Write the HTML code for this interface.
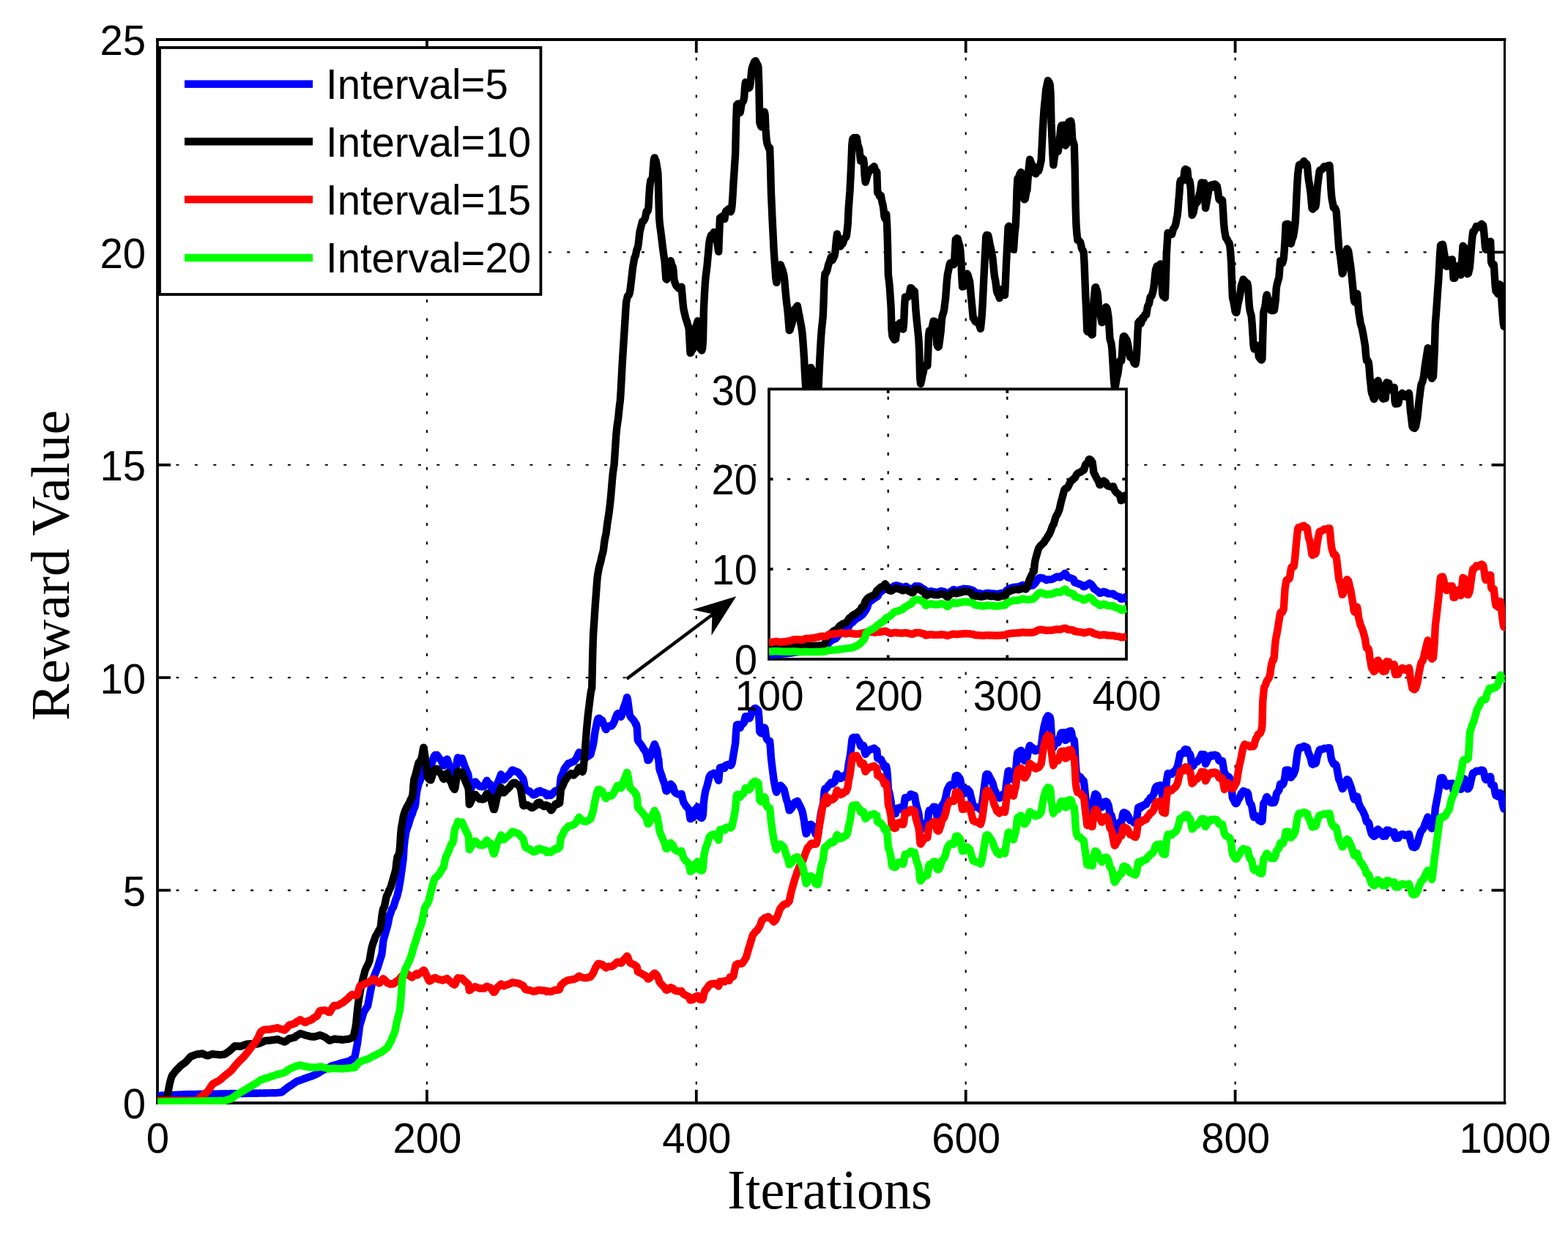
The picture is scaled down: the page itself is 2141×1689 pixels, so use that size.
<!DOCTYPE html>
<html lang="en"><head><meta charset="utf-8"><title>Reward Value vs Iterations</title>
<style>html,body{margin:0;padding:0;background:#fff}svg{display:block}</style></head>
<body>
<svg xmlns="http://www.w3.org/2000/svg" width="2141" height="1689" viewBox="0 0 2141 1689">
<rect x="0" y="0" width="2141" height="1689" fill="#ffffff"/>
<defs><clipPath id="cm"><rect x="215.0" y="52.1" width="1840.5" height="1455.8"/></clipPath>
<clipPath id="ci"><rect x="1050.0" y="529.4" width="489.0" height="372.5"/></clipPath></defs>
<g stroke="#000" stroke-width="2.1" stroke-dasharray="4.00 21.42" fill="none">
<line x1="582.9" y1="1506.10" x2="582.9" y2="54.0"/>
<line x1="950.8" y1="1506.10" x2="950.8" y2="54.0"/>
<line x1="1318.7" y1="1506.10" x2="1318.7" y2="54.0"/>
<line x1="1686.6" y1="1506.10" x2="1686.6" y2="54.0"/>
<line x1="215.00" y1="1215.6" x2="2054.5" y2="1215.6"/>
<line x1="215.00" y1="925.2" x2="2054.5" y2="925.2"/>
<line x1="215.00" y1="634.8" x2="2054.5" y2="634.8"/>
<line x1="215.00" y1="344.4" x2="2054.5" y2="344.4"/>
</g>
<g stroke="#000" fill="none" stroke-linecap="square">
<line x1="215.0" y1="54.0" x2="2054.5" y2="54.0" stroke-width="3.8"/>
<line x1="215.0" y1="1506.0" x2="2054.5" y2="1506.0" stroke-width="3.8"/>
<line x1="215.0" y1="54.0" x2="215.0" y2="1506.0" stroke-width="3.8"/>
<line x1="2054.5" y1="54.0" x2="2054.5" y2="1506.0" stroke-width="3.1"/>
</g>
<g stroke="#000" stroke-width="3.8" fill="none">
<line x1="582.9" y1="1506.0" x2="582.9" y2="1488.0"/>
<line x1="582.9" y1="54.0" x2="582.9" y2="72.0"/>
<line x1="950.8" y1="1506.0" x2="950.8" y2="1488.0"/>
<line x1="950.8" y1="54.0" x2="950.8" y2="72.0"/>
<line x1="1318.7" y1="1506.0" x2="1318.7" y2="1488.0"/>
<line x1="1318.7" y1="54.0" x2="1318.7" y2="72.0"/>
<line x1="1686.6" y1="1506.0" x2="1686.6" y2="1488.0"/>
<line x1="1686.6" y1="54.0" x2="1686.6" y2="72.0"/>
<line x1="215.0" y1="1215.6" x2="233.0" y2="1215.6"/>
<line x1="2054.5" y1="1215.6" x2="2036.5" y2="1215.6"/>
<line x1="215.0" y1="925.2" x2="233.0" y2="925.2"/>
<line x1="2054.5" y1="925.2" x2="2036.5" y2="925.2"/>
<line x1="215.0" y1="634.8" x2="233.0" y2="634.8"/>
<line x1="2054.5" y1="634.8" x2="2036.5" y2="634.8"/>
<line x1="215.0" y1="344.4" x2="233.0" y2="344.4"/>
<line x1="2054.5" y1="344.4" x2="2036.5" y2="344.4"/>
</g>
<g clip-path="url(#cm)" fill="none" stroke-width="10.4" stroke-linejoin="round" stroke-linecap="butt">
<polyline stroke="#0000ff" points="215.0,1499.3 215.9,1498.7 216.8,1497.9 217.8,1497.2 218.7,1496.5 219.6,1495.8 220.5,1495.8 221.4,1495.7 222.4,1495.7 223.3,1495.6 224.2,1495.6 225.1,1495.5 226.0,1495.5 227.0,1495.4 227.9,1495.4 228.8,1495.4 229.7,1495.4 230.6,1495.3 231.6,1495.3 232.5,1495.2 233.4,1495.2 234.3,1495.1 235.2,1495.1 236.2,1495.1 237.1,1495.1 238.0,1495.0 238.9,1495.0 239.8,1494.9 240.8,1494.9 241.7,1494.9 242.6,1494.8 243.5,1494.8 244.4,1494.7 245.4,1494.7 246.3,1494.6 247.2,1494.6 248.1,1494.6 249.0,1494.5 250.0,1494.5 250.9,1494.4 251.8,1494.4 252.7,1494.4 253.6,1494.3 254.5,1494.3 255.5,1494.3 256.4,1494.3 257.3,1494.3 258.2,1494.3 259.1,1494.3 260.1,1494.2 261.0,1494.2 261.9,1494.2 262.8,1494.2 263.7,1494.2 264.7,1494.2 265.6,1494.2 266.5,1494.1 267.4,1494.1 268.3,1494.1 269.3,1494.1 270.2,1494.0 271.1,1494.0 272.0,1494.1 272.9,1494.0 273.9,1494.0 274.8,1494.0 275.7,1493.9 276.6,1493.9 277.5,1494.0 278.5,1493.9 279.4,1493.9 280.3,1493.9 281.2,1493.9 282.1,1493.8 283.1,1493.8 284.0,1493.8 284.9,1493.8 285.8,1493.8 286.7,1493.8 287.7,1493.7 288.6,1493.7 289.5,1493.7 290.4,1493.7 291.3,1493.7 292.3,1493.7 293.2,1493.7 294.1,1493.7 295.0,1493.7 295.9,1493.6 296.9,1493.6 297.8,1493.6 298.7,1493.6 299.6,1493.5 300.5,1493.5 301.5,1493.5 302.4,1493.5 303.3,1493.5 304.2,1493.5 305.1,1493.4 306.1,1493.4 307.0,1493.4 307.9,1493.4 308.8,1493.4 309.7,1493.4 310.7,1493.4 311.6,1493.4 312.5,1493.4 313.4,1493.3 314.3,1493.3 315.3,1493.3 316.2,1493.3 317.1,1493.3 318.0,1493.3 318.9,1493.2 319.9,1493.2 320.8,1493.2 321.7,1493.2 322.6,1493.2 323.5,1493.2 324.5,1493.1 325.4,1493.1 326.3,1493.1 327.2,1493.1 328.1,1493.1 329.0,1493.1 330.0,1493.1 330.9,1493.0 331.8,1493.0 332.7,1493.0 333.6,1493.0 334.6,1493.0 335.5,1493.0 336.4,1492.9 337.3,1492.9 338.2,1492.9 339.2,1492.9 340.1,1492.8 341.0,1492.8 341.9,1492.8 342.8,1492.8 343.8,1492.8 344.7,1492.8 345.6,1492.7 346.5,1492.8 347.4,1492.8 348.4,1492.7 349.3,1492.7 350.2,1492.7 351.1,1492.7 352.0,1492.7 353.0,1492.7 353.9,1492.6 354.8,1492.5 355.7,1492.6 356.6,1492.6 357.6,1492.6 358.5,1492.6 359.4,1492.6 360.3,1492.5 361.2,1492.5 362.2,1492.5 363.1,1492.5 364.0,1492.5 364.9,1492.4 365.8,1492.4 366.8,1492.4 367.7,1492.4 368.6,1492.4 369.5,1492.4 370.4,1492.3 371.4,1492.3 372.3,1492.3 373.2,1492.3 374.1,1492.3 375.0,1492.3 376.0,1492.3 376.9,1492.2 377.8,1492.2 378.7,1492.1 379.6,1492.0 380.6,1491.9 381.5,1491.8 382.4,1491.6 383.3,1491.5 384.2,1491.4 385.2,1491.0 386.1,1490.2 387.0,1489.5 387.9,1488.7 388.8,1488.0 389.8,1487.3 390.7,1486.6 391.6,1485.9 392.5,1485.1 393.4,1484.4 394.4,1483.8 395.3,1483.2 396.2,1482.6 397.1,1482.1 398.0,1481.5 398.9,1480.8 399.9,1480.2 400.8,1479.5 401.7,1478.9 402.6,1478.3 403.5,1477.7 404.5,1477.0 405.4,1476.5 406.3,1476.1 407.2,1475.9 408.1,1475.6 409.1,1475.3 410.0,1474.9 410.9,1474.6 411.8,1474.2 412.7,1473.9 413.7,1473.5 414.6,1473.2 415.5,1472.8 416.4,1472.5 417.3,1472.2 418.3,1471.8 419.2,1471.5 420.1,1471.1 421.0,1470.8 421.9,1470.6 422.9,1470.3 423.8,1470.0 424.7,1469.7 425.6,1469.3 426.5,1469.0 427.5,1468.5 428.4,1468.1 429.3,1467.8 430.2,1467.6 431.1,1467.2 432.1,1466.7 433.0,1466.2 433.9,1465.7 434.8,1465.1 435.7,1464.6 436.7,1463.9 437.6,1463.3 438.5,1462.7 439.4,1462.2 440.3,1461.7 441.3,1461.3 442.2,1460.8 443.1,1460.4 444.0,1459.9 444.9,1459.4 445.9,1459.0 446.8,1458.6 447.7,1458.2 448.6,1457.8 449.5,1457.2 450.5,1456.7 451.4,1456.1 452.3,1455.6 453.2,1455.3 454.1,1455.1 455.1,1454.8 456.0,1454.6 456.9,1454.3 457.8,1454.0 458.7,1453.9 459.7,1453.7 460.6,1453.3 461.5,1452.9 462.4,1452.6 463.3,1452.2 464.3,1451.9 465.2,1451.6 466.1,1451.4 467.0,1451.3 467.9,1451.1 468.9,1450.9 469.8,1450.6 470.7,1450.3 471.6,1450.1 472.5,1449.8 473.4,1449.6 474.4,1449.5 475.3,1449.2 476.2,1448.9 477.1,1448.6 478.0,1447.9 479.0,1447.4 479.9,1446.8 480.8,1446.3 481.7,1445.7 482.6,1445.2 483.6,1444.7 484.5,1443.0 485.4,1438.5 486.3,1433.8 487.2,1429.1 488.2,1423.3 489.1,1416.3 490.0,1409.3 490.9,1402.3 491.8,1397.8 492.8,1394.9 493.7,1392.0 494.6,1389.1 495.5,1385.9 496.4,1382.8 497.4,1381.0 498.3,1379.4 499.2,1377.9 500.1,1376.4 501.0,1375.1 502.0,1373.7 502.9,1369.2 503.8,1364.6 504.7,1359.8 505.6,1354.9 506.6,1350.1 507.5,1345.4 508.4,1340.6 509.3,1336.4 510.2,1334.4 511.2,1332.3 512.1,1329.9 513.0,1327.5 513.9,1325.4 514.8,1323.3 515.8,1320.7 516.7,1317.7 517.6,1314.8 518.5,1311.9 519.4,1309.0 520.4,1306.0 521.3,1303.2 522.2,1295.7 523.1,1286.2 524.0,1281.8 525.0,1278.6 525.9,1275.4 526.8,1272.1 527.7,1268.9 528.6,1266.2 529.6,1262.1 530.5,1257.4 531.4,1252.7 532.3,1249.0 533.2,1247.3 534.2,1244.3 535.1,1241.4 536.0,1239.8 536.9,1239.3 537.8,1236.3 538.8,1233.3 539.7,1230.5 540.6,1227.7 541.5,1225.6 542.4,1222.8 543.4,1218.6 544.3,1214.5 545.2,1209.7 546.1,1204.9 547.0,1199.4 547.9,1192.5 548.9,1185.9 549.8,1179.3 550.7,1172.5 551.6,1157.5 552.5,1147.9 553.5,1141.4 554.4,1135.8 555.3,1132.8 556.2,1130.3 557.1,1127.8 558.1,1124.8 559.0,1121.7 559.9,1118.5 560.8,1116.0 561.7,1113.8 562.7,1111.7 563.6,1108.7 564.5,1105.7 565.4,1103.9 566.3,1102.1 567.3,1097.6 568.2,1088.4 569.1,1080.9 570.0,1077.1 570.9,1073.2 571.9,1069.3 572.8,1067.4 573.7,1065.5 574.6,1062.3 575.5,1058.9 576.5,1054.2 577.4,1049.5 578.3,1048.9 579.2,1049.3 580.1,1049.4 581.1,1049.5 582.0,1049.9 582.9,1050.3 583.8,1050.7 584.7,1043.9 585.7,1045.0 586.6,1046.1 587.5,1046.5 588.4,1046.5 589.3,1043.4 590.3,1040.4 591.2,1037.3 592.1,1034.2 593.0,1032.4 593.9,1031.0 594.9,1030.9 595.8,1030.8 596.7,1030.7 597.6,1032.2 598.5,1033.6 599.5,1035.0 600.4,1036.0 601.3,1037.0 602.2,1038.3 603.1,1039.7 604.1,1042.0 605.0,1044.4 605.9,1045.4 606.8,1043.1 607.7,1041.8 608.7,1040.5 609.6,1038.5 610.5,1036.5 611.4,1039.2 612.3,1041.8 613.3,1044.4 614.2,1047.0 615.1,1048.8 616.0,1049.5 616.9,1052.7 617.9,1055.9 618.8,1057.4 619.7,1058.9 620.6,1060.1 621.5,1057.7 622.4,1051.0 623.4,1044.4 624.3,1037.4 625.2,1034.4 626.1,1035.4 627.0,1036.3 628.0,1036.1 628.9,1035.8 629.8,1035.6 630.7,1035.5 631.6,1037.7 632.6,1040.4 633.5,1043.0 634.4,1045.7 635.3,1047.9 636.2,1050.2 637.2,1052.6 638.1,1054.9 639.0,1056.4 639.9,1061.3 640.8,1081.5 641.8,1080.1 642.7,1078.1 643.6,1076.0 644.5,1074.0 645.4,1072.0 646.4,1070.5 647.3,1069.1 648.2,1067.7 649.1,1067.4 650.0,1068.6 651.0,1069.8 651.9,1070.8 652.8,1071.7 653.7,1072.6 654.6,1073.6 655.6,1073.8 656.5,1073.5 657.4,1073.9 658.3,1074.2 659.2,1074.0 660.2,1073.8 661.1,1073.7 662.0,1071.3 662.9,1069.4 663.8,1067.5 664.8,1065.8 665.7,1067.7 666.6,1068.5 667.5,1069.3 668.4,1070.0 669.4,1070.7 670.3,1073.4 671.2,1077.3 672.1,1080.9 673.0,1084.6 674.0,1088.3 674.9,1088.4 675.8,1084.7 676.7,1081.0 677.6,1076.4 678.6,1071.8 679.5,1069.1 680.4,1067.2 681.3,1064.8 682.2,1062.5 683.2,1059.9 684.1,1057.3 685.0,1058.9 685.9,1061.0 686.8,1062.9 687.8,1064.7 688.7,1064.0 689.6,1063.3 690.5,1061.9 691.4,1060.5 692.4,1059.9 693.3,1059.3 694.2,1058.4 695.1,1057.5 696.0,1056.3 696.9,1055.1 697.9,1053.7 698.8,1052.2 699.7,1051.4 700.6,1051.7 701.5,1052.1 702.5,1052.4 703.4,1053.0 704.3,1053.6 705.2,1053.6 706.1,1053.8 707.1,1054.3 708.0,1054.8 708.9,1056.1 709.8,1057.5 710.7,1058.7 711.7,1059.9 712.6,1061.0 713.5,1062.1 714.4,1063.8 715.3,1067.0 716.3,1073.1 717.2,1077.1 718.1,1077.9 719.0,1078.7 719.9,1079.3 720.9,1079.9 721.8,1080.0 722.7,1080.2 723.6,1081.0 724.5,1082.1 725.5,1082.8 726.4,1083.5 727.3,1084.4 728.2,1085.4 729.1,1085.3 730.1,1084.8 731.0,1084.5 731.9,1084.2 732.8,1082.6 733.7,1080.9 734.7,1080.7 735.6,1080.4 736.5,1080.1 737.4,1079.7 738.3,1080.9 739.3,1082.1 740.2,1081.8 741.1,1081.5 742.0,1081.8 742.9,1082.0 743.9,1082.6 744.8,1083.1 745.7,1084.7 746.6,1086.4 747.5,1085.3 748.5,1084.2 749.4,1084.8 750.3,1085.4 751.2,1086.0 752.1,1086.0 753.1,1085.2 754.0,1084.4 754.9,1083.3 755.8,1082.3 756.7,1081.3 757.7,1080.3 758.6,1079.7 759.5,1079.4 760.4,1079.9 761.3,1080.5 762.3,1079.5 763.2,1078.6 764.1,1077.5 765.0,1068.9 765.9,1061.2 766.9,1059.3 767.8,1057.2 768.7,1055.1 769.6,1052.6 770.5,1050.0 771.4,1048.5 772.4,1047.4 773.3,1046.2 774.2,1045.0 775.1,1043.6 776.0,1042.3 777.0,1042.1 777.9,1042.2 778.8,1041.7 779.7,1041.1 780.6,1040.7 781.6,1040.3 782.5,1040.2 783.4,1040.0 784.3,1038.8 785.2,1037.6 786.2,1036.5 787.1,1035.5 788.0,1033.3 788.9,1031.1 789.8,1029.1 790.8,1027.3 791.7,1029.0 792.6,1030.7 793.5,1031.2 794.4,1031.7 795.4,1032.8 796.3,1033.9 797.2,1034.0 798.1,1034.0 799.0,1034.5 800.0,1034.7 800.9,1034.0 801.8,1033.3 802.7,1032.8 803.6,1032.4 804.6,1031.5 805.5,1030.6 806.4,1030.3 807.3,1026.5 808.2,1023.1 809.2,1019.7 810.1,1015.4 811.0,1009.6 811.9,1003.5 812.8,997.6 813.8,992.9 814.7,988.2 815.6,984.2 816.5,981.2 817.4,980.9 818.4,980.7 819.3,981.8 820.2,982.9 821.1,983.1 822.0,983.2 823.0,985.3 823.9,988.4 824.8,990.0 825.7,991.5 826.6,995.0 827.6,996.0 828.5,994.3 829.4,992.5 830.3,991.9 831.2,991.3 832.2,991.2 833.1,991.6 834.0,991.4 834.9,991.3 835.8,990.3 836.8,989.0 837.7,987.2 838.6,985.5 839.5,983.1 840.4,980.7 841.3,978.3 842.3,975.8 843.2,974.4 844.1,974.0 845.0,974.9 845.9,975.8 846.9,977.2 847.8,978.7 848.7,977.2 849.6,973.1 850.5,969.8 851.5,966.5 852.4,963.9 853.3,961.6 854.2,958.8 855.1,956.1 856.1,952.1 857.0,954.9 857.9,962.0 858.8,969.0 859.7,975.7 860.7,978.2 861.6,979.4 862.5,980.6 863.4,981.6 864.3,982.6 865.3,983.8 866.2,984.6 867.1,986.9 868.0,989.2 868.9,989.2 869.9,994.5 870.8,1010.8 871.7,1012.2 872.6,1013.3 873.5,1014.5 874.5,1015.8 875.4,1017.0 876.3,1018.4 877.2,1019.7 878.1,1021.4 879.1,1023.1 880.0,1024.2 880.9,1025.3 881.8,1027.0 882.7,1029.6 883.7,1033.8 884.6,1038.1 885.5,1038.1 886.4,1037.1 887.3,1034.4 888.3,1031.7 889.2,1028.9 890.1,1026.1 891.0,1023.6 891.9,1021.1 892.9,1018.2 893.8,1016.0 894.7,1018.5 895.6,1020.9 896.5,1022.8 897.5,1026.8 898.4,1034.7 899.3,1036.8 900.2,1048.7 901.1,1052.3 902.1,1054.9 903.0,1057.5 903.9,1060.4 904.8,1063.2 905.7,1065.8 906.7,1068.5 907.6,1070.8 908.5,1075.4 909.4,1079.7 910.3,1080.1 911.3,1078.8 912.2,1077.5 913.1,1076.5 914.0,1073.8 914.9,1071.3 915.8,1070.4 916.8,1071.9 917.7,1073.4 918.6,1073.4 919.5,1075.5 920.4,1079.9 921.4,1081.5 922.3,1082.4 923.2,1083.2 924.1,1083.6 925.0,1084.0 926.0,1084.4 926.9,1084.7 927.8,1084.7 928.7,1084.6 929.6,1084.2 930.6,1083.9 931.5,1087.9 932.4,1091.9 933.3,1095.1 934.2,1096.7 935.2,1098.3 936.1,1099.9 937.0,1100.9 937.9,1101.8 938.8,1103.0 939.8,1104.3 940.7,1105.7 941.6,1112.1 942.5,1118.1 943.4,1117.9 944.4,1117.0 945.3,1116.1 946.2,1116.1 947.1,1113.2 948.0,1107.9 949.0,1105.6 949.9,1104.8 950.8,1104.0 951.7,1102.8 952.6,1101.6 953.6,1105.9 954.5,1110.6 955.4,1115.4 956.3,1115.9 957.2,1116.3 958.2,1116.8 959.1,1115.8 960.0,1111.4 960.9,1095.6 961.8,1088.5 962.8,1082.2 963.7,1078.4 964.6,1075.7 965.5,1073.1 966.4,1069.2 967.4,1065.4 968.3,1061.3 969.2,1059.4 970.1,1058.3 971.0,1057.2 972.0,1057.2 972.9,1057.1 973.8,1056.5 974.7,1055.6 975.6,1055.9 976.6,1056.3 977.5,1056.3 978.4,1059.0 979.3,1061.1 980.2,1063.2 981.2,1065.7 982.1,1056.8 983.0,1048.2 983.9,1048.3 984.8,1047.9 985.8,1047.5 986.7,1047.3 987.6,1047.1 988.5,1048.5 989.4,1048.8 990.3,1046.2 991.3,1044.6 992.2,1044.5 993.1,1044.4 994.0,1044.0 994.9,1043.6 995.9,1044.0 996.8,1044.5 997.7,1045.1 998.6,1044.3 999.5,1042.2 1000.5,1036.9 1001.4,1030.6 1002.3,1025.7 1003.2,1020.4 1004.1,1015.1 1005.1,998.8 1006.0,989.8 1006.9,989.5 1007.8,989.2 1008.7,991.1 1009.7,992.9 1010.6,993.8 1011.5,992.0 1012.4,989.6 1013.3,988.7 1014.3,988.2 1015.2,987.6 1016.1,986.0 1017.0,981.1 1017.9,978.1 1018.9,978.9 1019.8,979.5 1020.7,980.1 1021.6,980.6 1022.5,981.1 1023.5,980.8 1024.4,979.2 1025.3,976.0 1026.2,972.1 1027.1,970.4 1028.1,969.4 1029.0,968.5 1029.9,967.6 1030.8,967.2 1031.7,967.0 1032.7,967.8 1033.6,968.6 1034.5,969.0 1035.4,970.2 1036.3,979.0 1037.3,998.9 1038.2,999.9 1039.1,1000.9 1040.0,1001.2 1040.9,1000.4 1041.9,998.3 1042.8,996.2 1043.7,993.4 1044.6,994.6 1045.5,1002.3 1046.5,1007.5 1047.4,1009.6 1048.3,1010.6 1049.2,1011.5 1050.1,1012.4 1051.1,1011.9 1052.0,1021.6 1052.9,1034.8 1053.8,1042.5 1054.7,1050.2 1055.7,1057.6 1056.6,1064.8 1057.5,1069.9 1058.4,1074.6 1059.3,1079.3 1060.3,1081.7 1061.2,1078.6 1062.1,1077.3 1063.0,1076.0 1063.9,1074.6 1064.8,1073.3 1065.8,1072.4 1066.7,1073.5 1067.6,1074.3 1068.5,1075.2 1069.4,1076.5 1070.4,1077.8 1071.3,1080.8 1072.2,1084.8 1073.1,1088.4 1074.0,1091.9 1075.0,1094.7 1075.9,1098.0 1076.8,1102.2 1077.7,1106.4 1078.6,1106.3 1079.6,1104.7 1080.5,1103.8 1081.4,1102.9 1082.3,1101.0 1083.2,1099.2 1084.2,1097.3 1085.1,1095.4 1086.0,1095.3 1086.9,1095.2 1087.8,1094.3 1088.8,1093.7 1089.7,1095.5 1090.6,1097.3 1091.5,1099.0 1092.4,1100.9 1093.4,1102.8 1094.3,1104.8 1095.2,1107.0 1096.1,1110.5 1097.0,1115.2 1098.0,1120.8 1098.9,1128.1 1099.8,1133.7 1100.7,1138.4 1101.6,1137.6 1102.6,1133.4 1103.5,1131.0 1104.4,1129.5 1105.3,1127.9 1106.2,1125.8 1107.2,1125.6 1108.1,1126.4 1109.0,1127.1 1109.9,1128.0 1110.8,1129.0 1111.8,1132.6 1112.7,1136.1 1113.6,1138.9 1114.5,1138.4 1115.4,1139.2 1116.4,1140.0 1117.3,1138.0 1118.2,1130.4 1119.1,1123.3 1120.0,1116.6 1121.0,1110.2 1121.9,1105.9 1122.8,1102.7 1123.7,1099.5 1124.6,1091.6 1125.6,1080.6 1126.5,1077.0 1127.4,1077.1 1128.3,1076.4 1129.2,1075.6 1130.2,1074.0 1131.1,1072.5 1132.0,1071.6 1132.9,1070.8 1133.8,1069.6 1134.8,1068.4 1135.7,1069.3 1136.6,1070.1 1137.5,1069.4 1138.4,1068.7 1139.3,1068.0 1140.3,1066.3 1141.2,1062.7 1142.1,1059.0 1143.0,1056.6 1143.9,1058.1 1144.9,1058.5 1145.8,1059.0 1146.7,1061.4 1147.6,1062.9 1148.5,1062.4 1149.5,1061.8 1150.4,1061.6 1151.3,1061.0 1152.2,1059.9 1153.1,1058.7 1154.1,1058.5 1155.0,1058.3 1155.9,1057.3 1156.8,1054.5 1157.7,1051.3 1158.7,1043.1 1159.6,1038.6 1160.5,1034.1 1161.4,1027.6 1162.3,1020.2 1163.3,1010.4 1164.2,1007.5 1165.1,1007.1 1166.0,1006.8 1166.9,1007.0 1167.9,1007.3 1168.8,1007.0 1169.7,1006.7 1170.6,1008.7 1171.5,1010.7 1172.5,1011.6 1173.4,1012.9 1174.3,1016.2 1175.2,1018.9 1176.1,1018.1 1177.1,1017.4 1178.0,1017.6 1178.9,1017.8 1179.8,1020.1 1180.7,1026.5 1181.7,1029.8 1182.6,1028.8 1183.5,1027.5 1184.4,1026.2 1185.3,1025.3 1186.3,1024.5 1187.2,1024.0 1188.1,1023.5 1189.0,1023.3 1189.9,1023.0 1190.9,1022.4 1191.8,1022.6 1192.7,1022.1 1193.6,1021.6 1194.5,1022.7 1195.5,1023.8 1196.4,1024.0 1197.3,1024.5 1198.2,1035.3 1199.1,1035.1 1200.1,1036.1 1201.0,1037.1 1201.9,1036.7 1202.8,1036.6 1203.7,1038.5 1204.7,1040.5 1205.6,1041.6 1206.5,1043.9 1207.4,1047.4 1208.3,1048.6 1209.2,1047.5 1210.2,1046.3 1211.1,1051.5 1212.0,1061.8 1212.9,1078.2 1213.8,1080.5 1214.8,1084.2 1215.7,1089.3 1216.6,1094.2 1217.5,1106.1 1218.4,1109.3 1219.4,1110.1 1220.3,1110.6 1221.2,1111.2 1222.1,1111.1 1223.0,1110.9 1224.0,1107.1 1224.9,1103.7 1225.8,1103.6 1226.7,1103.6 1227.6,1103.1 1228.6,1102.6 1229.5,1103.5 1230.4,1104.5 1231.3,1105.1 1232.2,1105.7 1233.2,1105.8 1234.1,1102.8 1235.0,1094.3 1235.9,1089.2 1236.8,1089.1 1237.8,1089.0 1238.7,1089.1 1239.6,1089.1 1240.5,1088.6 1241.4,1088.0 1242.4,1086.3 1243.3,1084.5 1244.2,1084.5 1245.1,1084.9 1246.0,1085.3 1247.0,1085.8 1247.9,1085.9 1248.8,1086.2 1249.7,1091.5 1250.6,1096.8 1251.6,1100.7 1252.5,1104.0 1253.4,1107.2 1254.3,1110.4 1255.2,1116.7 1256.2,1131.4 1257.1,1134.0 1258.0,1132.6 1258.9,1130.9 1259.8,1129.1 1260.8,1128.1 1261.7,1125.7 1262.6,1124.5 1263.5,1125.1 1264.4,1124.7 1265.4,1124.2 1266.3,1124.7 1267.2,1118.3 1268.1,1108.7 1269.0,1106.5 1270.0,1106.6 1270.9,1106.8 1271.8,1106.6 1272.7,1104.9 1273.6,1103.3 1274.6,1101.7 1275.5,1101.7 1276.4,1101.7 1277.3,1102.1 1278.2,1107.8 1279.2,1113.5 1280.1,1114.5 1281.0,1115.0 1281.9,1114.8 1282.8,1112.3 1283.7,1109.7 1284.7,1106.8 1285.6,1102.1 1286.5,1099.2 1287.4,1098.1 1288.3,1097.3 1289.3,1095.2 1290.2,1092.5 1291.1,1089.8 1292.0,1085.3 1292.9,1080.8 1293.9,1077.3 1294.8,1075.9 1295.7,1074.2 1296.6,1072.5 1297.5,1071.6 1298.5,1071.4 1299.4,1071.6 1300.3,1071.7 1301.2,1072.1 1302.1,1072.4 1303.1,1071.4 1304.0,1064.7 1304.9,1059.4 1305.8,1059.3 1306.7,1058.8 1307.7,1059.0 1308.6,1060.4 1309.5,1061.8 1310.4,1062.5 1311.3,1065.1 1312.3,1070.1 1313.2,1078.4 1314.1,1083.9 1315.0,1083.7 1315.9,1083.6 1316.9,1083.5 1317.8,1082.2 1318.7,1080.6 1319.6,1078.8 1320.5,1077.1 1321.5,1077.8 1322.4,1079.0 1323.3,1080.1 1324.2,1081.2 1325.1,1085.3 1326.1,1089.5 1327.0,1092.9 1327.9,1096.5 1328.8,1100.1 1329.7,1100.1 1330.7,1101.0 1331.6,1101.9 1332.5,1102.0 1333.4,1102.2 1334.3,1102.4 1335.3,1102.6 1336.2,1103.0 1337.1,1103.4 1338.0,1104.8 1338.9,1105.6 1339.9,1102.0 1340.8,1098.3 1341.7,1092.6 1342.6,1085.5 1343.5,1078.4 1344.5,1071.3 1345.4,1064.4 1346.3,1057.9 1347.2,1057.1 1348.1,1057.4 1349.1,1057.2 1350.0,1058.5 1350.9,1060.4 1351.8,1062.3 1352.7,1063.5 1353.7,1065.5 1354.6,1067.3 1355.5,1069.3 1356.4,1072.8 1357.3,1076.2 1358.2,1079.0 1359.2,1080.6 1360.1,1083.4 1361.0,1086.1 1361.9,1087.2 1362.8,1087.4 1363.8,1088.6 1364.7,1089.7 1365.6,1088.4 1366.5,1087.1 1367.4,1086.2 1368.4,1085.0 1369.3,1085.4 1370.2,1085.7 1371.1,1087.0 1372.0,1088.2 1373.0,1081.0 1373.9,1072.5 1374.8,1065.8 1375.7,1059.8 1376.6,1053.0 1377.6,1052.5 1378.5,1053.7 1379.4,1054.8 1380.3,1055.3 1381.2,1057.8 1382.2,1061.1 1383.1,1064.3 1384.0,1064.6 1384.9,1059.3 1385.8,1055.3 1386.8,1052.1 1387.7,1044.9 1388.6,1033.2 1389.5,1027.8 1390.4,1028.1 1391.4,1026.9 1392.3,1025.7 1393.2,1025.1 1394.1,1024.6 1395.0,1026.3 1396.0,1029.4 1396.9,1033.7 1397.8,1038.0 1398.7,1038.7 1399.6,1038.6 1400.6,1036.6 1401.5,1034.6 1402.4,1034.0 1403.3,1029.5 1404.2,1024.6 1405.2,1021.0 1406.1,1018.0 1407.0,1018.7 1407.9,1019.7 1408.8,1020.6 1409.8,1021.0 1410.7,1021.4 1411.6,1022.9 1412.5,1024.3 1413.4,1025.2 1414.4,1025.4 1415.3,1024.5 1416.2,1023.5 1417.1,1023.8 1418.0,1024.0 1419.0,1022.9 1419.9,1021.5 1420.8,1020.0 1421.7,1018.5 1422.6,1012.1 1423.6,1004.1 1424.5,998.3 1425.4,992.8 1426.3,989.4 1427.2,986.0 1428.2,981.8 1429.1,980.4 1430.0,978.7 1430.9,977.2 1431.8,977.7 1432.7,978.2 1433.7,979.4 1434.6,984.0 1435.5,999.3 1436.4,1006.6 1437.3,1014.9 1438.3,1020.9 1439.2,1018.5 1440.1,1016.1 1441.0,1013.2 1441.9,1011.9 1442.9,1012.8 1443.8,1013.7 1444.7,1013.9 1445.6,1011.6 1446.5,1008.5 1447.5,1005.3 1448.4,1001.6 1449.3,1000.4 1450.2,1000.6 1451.1,1000.9 1452.1,1000.5 1453.0,1000.2 1453.9,1000.4 1454.8,1010.8 1455.7,1010.2 1456.7,1009.7 1457.6,1008.8 1458.5,1003.1 1459.4,998.6 1460.3,998.5 1461.3,998.3 1462.2,998.1 1463.1,1000.0 1464.0,1006.2 1464.9,1009.4 1465.9,1009.2 1466.8,1010.8 1467.7,1022.4 1468.6,1042.2 1469.5,1052.2 1470.5,1057.0 1471.4,1059.7 1472.3,1059.8 1473.2,1060.0 1474.1,1060.4 1475.1,1060.8 1476.0,1062.1 1476.9,1063.9 1477.8,1064.6 1478.7,1065.1 1479.7,1066.0 1480.6,1072.1 1481.5,1081.2 1482.4,1089.5 1483.3,1096.7 1484.3,1106.6 1485.2,1107.1 1486.1,1105.3 1487.0,1104.7 1487.9,1104.6 1488.9,1106.4 1489.8,1108.1 1490.7,1108.7 1491.6,1108.6 1492.5,1099.3 1493.5,1091.1 1494.4,1087.7 1495.3,1084.2 1496.2,1084.1 1497.1,1085.3 1498.1,1086.2 1499.0,1088.6 1499.9,1093.4 1500.8,1096.6 1501.7,1097.5 1502.7,1098.4 1503.6,1100.3 1504.5,1102.3 1505.4,1100.2 1506.3,1096.1 1507.2,1095.3 1508.2,1095.5 1509.1,1094.9 1510.0,1094.3 1510.9,1094.7 1511.8,1095.5 1512.8,1097.8 1513.7,1100.2 1514.6,1105.4 1515.5,1110.8 1516.4,1112.0 1517.4,1113.2 1518.3,1115.9 1519.2,1121.2 1520.1,1126.9 1521.0,1132.3 1522.0,1136.0 1522.9,1135.3 1523.8,1133.4 1524.7,1131.3 1525.6,1130.0 1526.6,1128.3 1527.5,1125.6 1528.4,1123.0 1529.3,1122.1 1530.2,1122.3 1531.2,1122.2 1532.1,1118.9 1533.0,1112.3 1533.9,1109.6 1534.8,1109.4 1535.8,1109.7 1536.7,1110.3 1537.6,1111.0 1538.5,1111.3 1539.4,1112.5 1540.4,1114.5 1541.3,1116.5 1542.2,1118.8 1543.1,1120.3 1544.0,1120.4 1545.0,1120.6 1545.9,1121.0 1546.8,1121.3 1547.7,1122.3 1548.6,1123.4 1549.6,1123.6 1550.5,1123.9 1551.4,1121.9 1552.3,1117.7 1553.2,1109.6 1554.2,1102.5 1555.1,1102.0 1556.0,1101.5 1556.9,1102.2 1557.8,1102.9 1558.8,1101.8 1559.7,1100.1 1560.6,1099.6 1561.5,1100.3 1562.4,1099.3 1563.4,1098.3 1564.3,1098.3 1565.2,1098.3 1566.1,1096.2 1567.0,1094.0 1568.0,1093.3 1568.9,1092.6 1569.8,1090.9 1570.7,1089.2 1571.6,1089.0 1572.6,1088.7 1573.5,1087.4 1574.4,1086.2 1575.3,1084.3 1576.2,1081.6 1577.1,1077.8 1578.1,1074.9 1579.0,1074.0 1579.9,1073.1 1580.8,1073.3 1581.7,1074.0 1582.7,1073.2 1583.6,1072.5 1584.5,1072.1 1585.4,1076.1 1586.3,1081.9 1587.3,1087.7 1588.2,1088.8 1589.1,1088.5 1590.0,1089.0 1590.9,1089.5 1591.9,1078.7 1592.8,1067.0 1593.7,1061.3 1594.6,1056.0 1595.5,1056.4 1596.5,1056.8 1597.4,1056.5 1598.3,1056.2 1599.2,1056.4 1600.1,1056.8 1601.1,1055.3 1602.0,1053.9 1602.9,1053.5 1603.8,1053.0 1604.7,1052.4 1605.7,1050.8 1606.6,1048.8 1607.5,1047.2 1608.4,1044.2 1609.3,1039.7 1610.3,1035.6 1611.2,1029.9 1612.1,1028.8 1613.0,1029.6 1613.9,1029.1 1614.9,1028.6 1615.8,1028.6 1616.7,1026.4 1617.6,1023.6 1618.5,1023.0 1619.5,1023.3 1620.4,1023.6 1621.3,1023.6 1622.2,1027.2 1623.1,1029.5 1624.1,1028.8 1625.0,1030.2 1625.9,1033.4 1626.8,1041.3 1627.7,1046.9 1628.7,1046.1 1629.6,1045.3 1630.5,1043.5 1631.4,1041.7 1632.3,1041.4 1633.3,1040.4 1634.2,1040.2 1635.1,1040.0 1636.0,1038.6 1636.9,1037.3 1637.9,1035.8 1638.8,1034.3 1639.7,1032.2 1640.6,1030.0 1641.5,1030.2 1642.5,1030.6 1643.4,1030.4 1644.3,1030.1 1645.2,1036.9 1646.1,1043.1 1647.1,1041.2 1648.0,1039.2 1648.9,1037.2 1649.8,1035.3 1650.7,1032.8 1651.6,1032.2 1652.6,1031.8 1653.5,1031.3 1654.4,1031.9 1655.3,1032.4 1656.2,1031.7 1657.2,1030.9 1658.1,1030.8 1659.0,1030.8 1659.9,1031.1 1660.8,1031.4 1661.8,1031.8 1662.7,1033.6 1663.6,1036.1 1664.5,1038.6 1665.4,1039.0 1666.4,1039.1 1667.3,1039.0 1668.2,1038.9 1669.1,1039.1 1670.0,1044.3 1671.0,1050.9 1671.9,1054.3 1672.8,1056.5 1673.7,1058.4 1674.6,1058.9 1675.6,1059.4 1676.5,1060.1 1677.4,1060.9 1678.3,1061.1 1679.2,1062.5 1680.2,1066.2 1681.1,1071.3 1682.0,1080.4 1682.9,1089.3 1683.8,1090.9 1684.8,1092.5 1685.7,1094.5 1686.6,1096.6 1687.5,1097.2 1688.4,1097.1 1689.4,1095.0 1690.3,1092.8 1691.2,1091.4 1692.1,1090.1 1693.0,1088.2 1694.0,1086.0 1694.9,1083.0 1695.8,1082.3 1696.7,1081.2 1697.6,1080.0 1698.6,1080.5 1699.5,1081.0 1700.4,1081.2 1701.3,1082.0 1702.2,1082.0 1703.2,1082.0 1704.1,1083.9 1705.0,1089.4 1705.9,1094.1 1706.8,1096.4 1707.8,1097.7 1708.7,1099.0 1709.6,1102.7 1710.5,1108.1 1711.4,1113.8 1712.4,1116.0 1713.3,1115.0 1714.2,1114.0 1715.1,1114.0 1716.0,1114.1 1717.0,1115.1 1717.9,1116.8 1718.8,1120.0 1719.7,1120.6 1720.6,1121.0 1721.6,1121.4 1722.5,1121.7 1723.4,1121.3 1724.3,1108.8 1725.2,1097.2 1726.1,1095.8 1727.1,1094.4 1728.0,1092.6 1728.9,1089.2 1729.8,1088.0 1730.7,1089.2 1731.7,1090.2 1732.6,1091.7 1733.5,1093.4 1734.4,1095.1 1735.3,1096.0 1736.3,1096.2 1737.2,1095.3 1738.1,1094.4 1739.0,1096.1 1739.9,1095.9 1740.9,1093.2 1741.8,1090.6 1742.7,1084.7 1743.6,1082.7 1744.5,1081.5 1745.5,1080.2 1746.4,1079.0 1747.3,1074.4 1748.2,1070.4 1749.1,1070.6 1750.1,1071.1 1751.0,1071.7 1751.9,1070.7 1752.8,1069.0 1753.7,1064.9 1754.7,1059.0 1755.6,1051.6 1756.5,1051.5 1757.4,1051.5 1758.3,1051.4 1759.3,1051.5 1760.2,1053.3 1761.1,1057.4 1762.0,1061.4 1762.9,1061.6 1763.9,1059.7 1764.8,1058.9 1765.7,1058.1 1766.6,1056.3 1767.5,1053.9 1768.5,1051.3 1769.4,1045.7 1770.3,1037.9 1771.2,1031.1 1772.1,1025.7 1773.1,1022.7 1774.0,1020.8 1774.9,1020.6 1775.8,1020.8 1776.7,1021.0 1777.7,1020.5 1778.6,1020.0 1779.5,1019.5 1780.4,1018.9 1781.3,1019.6 1782.3,1020.3 1783.2,1020.3 1784.1,1020.3 1785.0,1021.3 1785.9,1025.6 1786.9,1028.8 1787.8,1030.7 1788.7,1032.9 1789.6,1035.4 1790.5,1039.4 1791.5,1043.3 1792.4,1043.8 1793.3,1042.7 1794.2,1042.2 1795.1,1041.7 1796.1,1042.6 1797.0,1041.1 1797.9,1036.8 1798.8,1032.4 1799.7,1029.6 1800.6,1027.0 1801.6,1024.1 1802.5,1023.5 1803.4,1023.4 1804.3,1023.4 1805.2,1023.1 1806.2,1022.8 1807.1,1022.2 1808.0,1021.7 1808.9,1021.8 1809.8,1022.1 1810.8,1022.1 1811.7,1022.1 1812.6,1021.5 1813.5,1021.1 1814.4,1021.1 1815.4,1021.1 1816.3,1025.3 1817.2,1032.4 1818.1,1036.9 1819.0,1039.2 1820.0,1041.1 1820.9,1043.0 1821.8,1042.9 1822.7,1042.9 1823.6,1043.9 1824.6,1044.8 1825.5,1049.3 1826.4,1054.6 1827.3,1059.3 1828.2,1064.0 1829.2,1066.1 1830.1,1068.0 1831.0,1070.8 1831.9,1073.7 1832.8,1077.0 1833.8,1076.7 1834.7,1074.4 1835.6,1072.1 1836.5,1070.8 1837.4,1068.2 1838.4,1065.7 1839.3,1064.2 1840.2,1064.8 1841.1,1065.4 1842.0,1067.4 1843.0,1070.4 1843.9,1072.4 1844.8,1075.1 1845.7,1078.4 1846.6,1081.7 1847.6,1085.6 1848.5,1089.9 1849.4,1091.7 1850.3,1091.8 1851.2,1090.6 1852.2,1089.4 1853.1,1087.4 1854.0,1090.7 1854.9,1095.7 1855.8,1098.2 1856.8,1100.6 1857.7,1102.9 1858.6,1103.9 1859.5,1104.9 1860.4,1106.7 1861.4,1108.5 1862.3,1110.6 1863.2,1112.6 1864.1,1114.6 1865.0,1119.0 1866.0,1122.0 1866.9,1121.7 1867.8,1122.3 1868.7,1123.0 1869.6,1125.9 1870.5,1130.9 1871.5,1133.9 1872.4,1137.5 1873.3,1139.3 1874.2,1139.5 1875.1,1141.1 1876.1,1142.0 1877.0,1141.4 1877.9,1140.9 1878.8,1139.9 1879.7,1138.9 1880.7,1132.7 1881.6,1132.4 1882.5,1133.9 1883.4,1135.3 1884.3,1134.6 1885.3,1135.8 1886.2,1137.8 1887.1,1139.7 1888.0,1141.6 1888.9,1141.8 1889.9,1141.7 1890.8,1141.5 1891.7,1141.6 1892.6,1138.1 1893.5,1133.4 1894.5,1134.0 1895.4,1133.9 1896.3,1133.7 1897.2,1135.5 1898.1,1137.1 1899.1,1136.9 1900.0,1136.6 1900.9,1136.6 1901.8,1136.5 1902.7,1136.2 1903.7,1135.9 1904.6,1143.0 1905.5,1144.5 1906.4,1144.4 1907.3,1144.3 1908.3,1144.3 1909.2,1144.2 1910.1,1142.7 1911.0,1141.2 1911.9,1140.3 1912.9,1139.6 1913.8,1139.3 1914.7,1138.9 1915.6,1139.2 1916.5,1139.4 1917.5,1140.1 1918.4,1140.7 1919.3,1140.2 1920.2,1139.9 1921.1,1139.9 1922.1,1139.8 1923.0,1139.3 1923.9,1138.9 1924.8,1142.5 1925.7,1147.3 1926.7,1150.4 1927.6,1153.4 1928.5,1156.2 1929.4,1156.6 1930.3,1156.9 1931.3,1157.1 1932.2,1156.6 1933.1,1156.1 1934.0,1154.3 1934.9,1152.4 1935.9,1149.5 1936.8,1145.8 1937.7,1142.6 1938.6,1140.0 1939.5,1137.1 1940.5,1134.6 1941.4,1133.8 1942.3,1133.0 1943.2,1131.6 1944.1,1129.9 1945.0,1127.1 1946.0,1124.3 1946.9,1122.1 1947.8,1120.0 1948.7,1117.8 1949.6,1115.5 1950.6,1117.2 1951.5,1120.6 1952.4,1122.5 1953.3,1125.5 1954.2,1130.4 1955.2,1131.3 1956.1,1130.8 1957.0,1130.3 1957.9,1123.7 1958.8,1116.6 1959.8,1103.3 1960.7,1099.0 1961.6,1094.2 1962.5,1089.3 1963.4,1084.3 1964.4,1079.3 1965.3,1072.8 1966.2,1066.4 1967.1,1062.3 1968.0,1062.1 1969.0,1062.0 1969.9,1061.9 1970.8,1063.5 1971.7,1066.2 1972.6,1067.9 1973.6,1070.4 1974.5,1073.2 1975.4,1073.4 1976.3,1072.1 1977.2,1070.8 1978.2,1070.4 1979.1,1070.0 1980.0,1069.9 1980.9,1069.9 1981.8,1069.8 1982.8,1069.7 1983.7,1074.3 1984.6,1079.4 1985.5,1079.5 1986.4,1079.4 1987.4,1077.2 1988.3,1074.9 1989.2,1074.1 1990.1,1073.7 1991.0,1073.2 1992.0,1072.8 1992.9,1073.5 1993.8,1075.9 1994.7,1077.7 1995.6,1076.2 1996.6,1067.9 1997.5,1062.7 1998.4,1063.1 1999.3,1063.4 2000.2,1065.5 2001.2,1068.9 2002.1,1072.6 2003.0,1076.3 2003.9,1077.2 2004.8,1077.1 2005.8,1075.6 2006.7,1074.1 2007.6,1070.5 2008.5,1066.2 2009.4,1061.9 2010.4,1058.1 2011.3,1055.3 2012.2,1055.8 2013.1,1055.1 2014.0,1054.4 2015.0,1053.4 2015.9,1052.6 2016.8,1052.7 2017.7,1052.7 2018.6,1052.9 2019.5,1053.0 2020.5,1052.4 2021.4,1051.9 2022.3,1051.6 2023.2,1051.4 2024.1,1051.8 2025.1,1052.1 2026.0,1054.6 2026.9,1058.5 2027.8,1062.9 2028.7,1064.6 2029.7,1063.0 2030.6,1061.3 2031.5,1061.7 2032.4,1062.0 2033.3,1061.3 2034.3,1060.6 2035.2,1060.4 2036.1,1071.0 2037.0,1071.9 2037.9,1072.5 2038.9,1072.1 2039.8,1072.3 2040.7,1077.6 2041.6,1083.0 2042.5,1086.2 2043.5,1085.7 2044.4,1086.6 2045.3,1087.6 2046.2,1086.9 2047.1,1085.0 2048.1,1082.6 2049.0,1083.1 2049.9,1087.9 2050.8,1093.5 2051.7,1098.0 2052.7,1102.5 2053.6,1104.4 2054.5,1104.3"/>
<polyline stroke="#000000" points="215.0,1501.1 215.9,1501.1 216.8,1501.1 217.8,1501.1 218.7,1501.1 219.6,1501.1 220.5,1501.1 221.4,1501.1 222.4,1501.1 223.3,1501.1 224.2,1501.1 225.1,1501.1 226.0,1501.1 227.0,1500.0 227.9,1497.0 228.8,1494.0 229.7,1490.1 230.6,1485.2 231.6,1480.3 232.5,1476.3 233.4,1473.2 234.3,1470.1 235.2,1468.3 236.2,1467.1 237.1,1465.9 238.0,1464.7 238.9,1463.4 239.8,1462.3 240.8,1461.3 241.7,1460.4 242.6,1459.5 243.5,1458.5 244.4,1457.5 245.4,1456.6 246.3,1455.6 247.2,1454.8 248.1,1454.1 249.0,1453.4 250.0,1452.7 250.9,1452.1 251.8,1451.5 252.7,1450.9 253.6,1450.1 254.5,1449.1 255.5,1448.0 256.4,1447.0 257.3,1445.9 258.2,1444.9 259.1,1443.9 260.1,1442.9 261.0,1442.3 261.9,1442.0 262.8,1441.7 263.7,1441.3 264.7,1441.0 265.6,1440.6 266.5,1440.3 267.4,1439.9 268.3,1439.7 269.3,1439.5 270.2,1439.2 271.1,1439.3 272.0,1439.3 272.9,1439.0 273.9,1438.8 274.8,1438.7 275.7,1438.5 276.6,1438.7 277.5,1439.2 278.5,1439.6 279.4,1440.0 280.3,1440.4 281.2,1440.7 282.1,1441.0 283.1,1441.3 284.0,1441.3 284.9,1441.1 285.8,1440.7 286.7,1440.3 287.7,1439.9 288.6,1439.5 289.5,1439.3 290.4,1439.1 291.3,1439.3 292.3,1439.5 293.2,1439.6 294.1,1439.7 295.0,1439.8 295.9,1439.9 296.9,1439.9 297.8,1440.0 298.7,1440.2 299.6,1440.3 300.5,1440.2 301.5,1440.2 302.4,1440.1 303.3,1440.1 304.2,1439.9 305.1,1439.7 306.1,1439.7 307.0,1439.5 307.9,1438.8 308.8,1438.1 309.7,1437.4 310.7,1436.7 311.6,1436.1 312.5,1435.6 313.4,1434.8 314.3,1433.9 315.3,1433.2 316.2,1432.5 317.1,1431.7 318.0,1430.9 318.9,1429.8 319.9,1428.8 320.8,1428.1 321.7,1428.3 322.6,1428.4 323.5,1428.6 324.5,1428.5 325.4,1428.4 326.3,1428.6 327.2,1428.8 328.1,1428.8 329.0,1428.6 330.0,1428.2 330.9,1427.8 331.8,1427.5 332.7,1427.1 333.6,1426.8 334.6,1426.5 335.5,1426.2 336.4,1425.9 337.3,1425.7 338.2,1425.5 339.2,1425.5 340.1,1425.4 341.0,1425.3 341.9,1425.2 342.8,1425.3 343.8,1425.4 344.7,1425.5 345.6,1425.5 346.5,1425.6 347.4,1425.7 348.4,1425.5 349.3,1425.3 350.2,1425.4 351.1,1425.5 352.0,1425.2 353.0,1425.0 353.9,1424.7 354.8,1424.2 355.7,1423.9 356.6,1423.5 357.6,1423.2 358.5,1422.8 359.4,1422.4 360.3,1422.0 361.2,1421.4 362.2,1421.0 363.1,1420.9 364.0,1420.9 364.9,1420.8 365.8,1420.8 366.8,1420.7 367.7,1420.7 368.6,1420.6 369.5,1420.5 370.4,1420.3 371.4,1420.0 372.3,1420.0 373.2,1420.0 374.1,1419.9 375.0,1419.7 376.0,1419.6 376.9,1419.4 377.8,1419.2 378.7,1419.0 379.6,1419.2 380.6,1419.8 381.5,1420.1 382.4,1420.4 383.3,1420.8 384.2,1421.1 385.2,1421.4 386.1,1421.7 387.0,1422.1 387.9,1422.5 388.8,1422.5 389.8,1422.0 390.7,1421.4 391.6,1420.8 392.5,1420.0 393.4,1419.2 394.4,1418.5 395.3,1417.9 396.2,1417.8 397.1,1417.8 398.0,1417.5 398.9,1417.3 399.9,1417.0 400.8,1416.6 401.7,1416.5 402.6,1416.4 403.5,1415.4 404.5,1414.4 405.4,1413.9 406.3,1413.5 407.2,1413.0 408.1,1412.5 409.1,1411.6 410.0,1411.2 410.9,1411.5 411.8,1411.8 412.7,1412.1 413.7,1412.3 414.6,1412.6 415.5,1412.9 416.4,1413.3 417.3,1413.6 418.3,1413.9 419.2,1414.0 420.1,1414.1 421.0,1414.3 421.9,1414.7 422.9,1415.1 423.8,1415.2 424.7,1415.3 425.6,1415.4 426.5,1415.6 427.5,1415.4 428.4,1415.3 429.3,1415.6 430.2,1415.4 431.1,1415.1 432.1,1414.8 433.0,1414.5 433.9,1414.3 434.8,1414.0 435.7,1413.6 436.7,1413.4 437.6,1413.5 438.5,1413.9 439.4,1414.2 440.3,1414.6 441.3,1415.1 442.2,1415.4 443.1,1415.8 444.0,1416.2 444.9,1416.8 445.9,1417.6 446.8,1418.4 447.7,1419.1 448.6,1419.9 449.5,1420.3 450.5,1420.8 451.4,1420.4 452.3,1420.0 453.2,1419.7 454.1,1419.4 455.1,1419.2 456.0,1418.9 456.9,1418.7 457.8,1418.5 458.7,1418.8 459.7,1419.2 460.6,1419.1 461.5,1419.1 462.4,1419.1 463.3,1419.2 464.3,1419.2 465.2,1419.3 466.1,1419.6 467.0,1419.8 467.9,1419.7 468.9,1419.7 469.8,1419.5 470.7,1419.3 471.6,1419.2 472.5,1419.0 473.4,1419.0 474.4,1418.9 475.3,1418.8 476.2,1418.6 477.1,1418.4 478.0,1417.9 479.0,1417.6 479.9,1417.4 480.8,1417.1 481.7,1416.9 482.6,1415.6 483.6,1411.4 484.5,1407.2 485.4,1403.0 486.3,1396.6 487.2,1387.2 488.2,1377.8 489.1,1370.2 490.0,1364.6 490.9,1358.9 491.8,1353.6 492.8,1348.3 493.7,1344.2 494.6,1340.8 495.5,1337.0 496.4,1333.2 497.4,1329.6 498.3,1325.9 499.2,1323.6 500.1,1321.5 501.0,1319.7 502.0,1317.9 502.9,1315.8 503.8,1313.7 504.7,1310.9 505.6,1305.1 506.6,1299.3 507.5,1294.2 508.4,1291.2 509.3,1288.2 510.2,1285.7 511.2,1283.2 512.1,1280.4 513.0,1278.0 513.9,1276.6 514.8,1275.3 515.8,1273.3 516.7,1271.4 517.6,1269.9 518.5,1268.5 519.4,1267.1 520.4,1260.3 521.3,1251.4 522.2,1246.1 523.1,1241.1 524.0,1240.0 525.0,1237.0 525.9,1232.8 526.8,1228.5 527.7,1224.1 528.6,1222.0 529.6,1220.3 530.5,1217.8 531.4,1215.4 532.3,1213.8 533.2,1212.1 534.2,1209.0 535.1,1205.9 536.0,1202.8 536.9,1199.7 537.8,1196.3 538.8,1193.0 539.7,1189.8 540.6,1184.9 541.5,1176.4 542.4,1170.4 543.4,1168.6 544.3,1166.9 545.2,1164.3 546.1,1156.0 547.0,1141.1 547.9,1130.9 548.9,1125.7 549.8,1120.6 550.7,1115.2 551.6,1111.9 552.5,1109.1 553.5,1106.3 554.4,1104.4 555.3,1102.5 556.2,1100.7 557.1,1099.4 558.1,1097.6 559.0,1095.8 559.9,1093.7 560.8,1091.6 561.7,1090.0 562.7,1088.3 563.6,1083.9 564.5,1072.2 565.4,1063.7 566.3,1061.2 567.3,1058.1 568.2,1055.1 569.1,1051.3 570.0,1047.5 570.9,1044.0 571.9,1041.0 572.8,1040.1 573.7,1039.1 574.6,1037.2 575.5,1035.3 576.5,1030.5 577.4,1024.9 578.3,1020.7 579.2,1025.0 580.1,1031.5 581.1,1038.1 582.0,1045.7 582.9,1053.5 583.8,1061.3 584.7,1062.4 585.7,1063.5 586.6,1064.6 587.5,1065.0 588.4,1065.0 589.3,1062.0 590.3,1059.0 591.2,1056.0 592.1,1053.1 593.0,1051.3 593.9,1050.0 594.9,1049.9 595.8,1049.8 596.7,1049.7 597.6,1051.1 598.5,1052.5 599.5,1053.8 600.4,1054.8 601.3,1055.7 602.2,1057.0 603.1,1058.3 604.1,1060.6 605.0,1062.9 605.9,1063.8 606.8,1061.6 607.7,1060.4 608.7,1059.1 609.6,1057.2 610.5,1055.3 611.4,1057.8 612.3,1060.4 613.3,1062.9 614.2,1065.4 615.1,1067.1 616.0,1067.8 616.9,1070.8 617.9,1073.9 618.8,1075.3 619.7,1076.8 620.6,1077.9 621.5,1075.6 622.4,1069.2 623.4,1062.9 624.3,1056.1 625.2,1053.2 626.1,1054.2 627.0,1055.1 628.0,1054.9 628.9,1054.6 629.8,1054.5 630.7,1054.3 631.6,1056.5 632.6,1059.0 633.5,1061.5 634.4,1064.1 635.3,1066.3 636.2,1068.5 637.2,1070.7 638.1,1073.0 639.0,1074.3 639.9,1079.0 640.8,1098.4 641.8,1097.2 642.7,1095.2 643.6,1093.2 644.5,1091.3 645.4,1089.4 646.4,1088.0 647.3,1086.6 648.2,1085.2 649.1,1084.9 650.0,1086.1 651.0,1087.3 651.9,1088.2 652.8,1089.1 653.7,1090.0 654.6,1090.9 655.6,1091.1 656.5,1090.8 657.4,1091.1 658.3,1091.5 659.2,1091.3 660.2,1091.1 661.1,1091.0 662.0,1088.7 662.9,1086.8 663.8,1085.0 664.8,1083.4 665.7,1085.2 666.6,1086.0 667.5,1086.8 668.4,1087.4 669.4,1088.1 670.3,1090.7 671.2,1094.4 672.1,1097.9 673.0,1101.4 674.0,1105.0 674.9,1105.1 675.8,1101.6 676.7,1098.0 677.6,1093.6 678.6,1089.2 679.5,1086.6 680.4,1084.7 681.3,1082.5 682.2,1080.3 683.2,1077.7 684.1,1075.2 685.0,1076.8 685.9,1078.8 686.8,1080.6 687.8,1082.4 688.7,1081.7 689.6,1081.0 690.5,1079.6 691.4,1078.3 692.4,1077.7 693.3,1077.2 694.2,1076.3 695.1,1075.4 696.0,1074.3 696.9,1073.1 697.9,1071.8 698.8,1070.4 699.7,1069.6 700.6,1068.8 701.5,1068.7 702.5,1068.6 703.4,1068.8 704.3,1070.2 705.2,1070.5 706.1,1070.8 707.1,1071.5 708.0,1072.1 708.9,1073.5 709.8,1074.9 710.7,1076.2 711.7,1081.9 712.6,1087.8 713.5,1093.8 714.4,1100.1 715.3,1100.4 716.3,1099.8 717.2,1099.1 718.1,1099.0 719.0,1099.0 719.9,1099.0 720.9,1099.8 721.8,1100.1 722.7,1100.4 723.6,1101.2 724.5,1102.0 725.5,1102.5 726.4,1102.9 727.3,1102.9 728.2,1102.1 729.1,1101.5 730.1,1100.9 731.0,1100.4 731.9,1099.9 732.8,1098.2 733.7,1096.5 734.7,1096.1 735.6,1095.6 736.5,1095.6 737.4,1095.8 738.3,1097.5 739.3,1099.2 740.2,1099.5 741.1,1099.8 742.0,1100.6 742.9,1101.1 743.9,1100.2 744.8,1099.2 745.7,1099.4 746.6,1100.3 747.5,1100.2 748.5,1100.1 749.4,1101.6 750.3,1103.2 751.2,1104.7 752.1,1106.3 753.1,1106.1 754.0,1104.8 754.9,1103.3 755.8,1101.8 756.7,1100.3 757.7,1098.9 758.6,1097.7 759.5,1097.2 760.4,1097.7 761.3,1098.2 762.3,1097.3 763.2,1096.4 764.1,1096.7 765.0,1087.5 765.9,1077.6 766.9,1075.8 767.8,1074.0 768.7,1072.2 769.6,1069.8 770.5,1067.5 771.4,1066.0 772.4,1064.5 773.3,1063.0 774.2,1061.9 775.1,1060.6 776.0,1059.3 777.0,1058.8 777.9,1058.2 778.8,1057.1 779.7,1055.9 780.6,1056.2 781.6,1056.8 782.5,1057.7 783.4,1058.5 784.3,1057.6 785.2,1056.6 786.2,1055.8 787.1,1055.0 788.0,1053.1 788.9,1051.2 789.8,1049.4 790.8,1047.8 791.7,1049.7 792.6,1051.5 793.5,1052.1 794.4,1052.7 795.4,1054.0 796.3,1051.6 797.2,1042.6 798.1,1033.6 799.0,1022.5 800.0,1008.8 800.9,997.1 801.8,987.4 802.7,978.0 803.6,970.1 804.6,962.4 805.5,954.8 806.4,947.8 807.3,942.6 808.2,939.5 809.2,894.3 810.1,866.4 811.0,853.0 811.9,839.3 812.8,825.7 813.8,812.6 814.7,800.2 815.6,788.7 816.5,782.7 817.4,777.8 818.4,772.9 819.3,769.9 820.2,767.0 821.1,762.6 822.0,758.2 823.0,755.5 823.9,751.0 824.8,744.0 825.7,737.0 826.6,732.7 827.6,728.4 828.5,721.1 829.4,713.9 830.3,708.3 831.2,702.7 832.2,695.1 833.1,687.4 834.0,678.7 834.9,668.2 835.8,657.3 836.8,646.5 837.7,640.3 838.6,634.7 839.5,621.0 840.4,607.3 841.3,593.8 842.3,583.7 843.2,577.6 844.1,571.6 845.0,562.9 845.9,554.1 846.9,546.4 847.8,532.5 848.7,515.6 849.6,498.6 850.5,483.3 851.5,468.0 852.4,454.1 853.3,440.2 854.2,425.4 855.1,412.3 856.1,408.2 857.0,404.0 857.9,403.4 858.8,402.9 859.7,400.2 860.7,394.2 861.6,386.5 862.5,378.8 863.4,370.6 864.3,363.5 865.3,358.1 866.2,352.6 867.1,350.5 868.0,348.4 868.9,343.4 869.9,339.6 870.8,338.8 871.7,333.0 872.6,324.9 873.5,316.8 874.5,312.6 875.4,309.0 876.3,305.6 877.2,302.2 878.1,301.8 879.1,301.5 880.0,299.6 880.9,297.7 881.8,293.2 882.7,288.6 883.7,288.3 884.6,288.0 885.5,282.8 886.4,265.8 887.3,254.0 888.3,246.6 889.2,245.2 890.1,243.9 891.0,242.3 891.9,229.0 892.9,217.5 893.8,215.4 894.7,217.6 895.6,219.8 896.5,224.5 897.5,230.9 898.4,236.3 899.3,267.2 900.2,298.8 901.1,308.1 902.1,315.1 903.0,322.1 903.9,329.5 904.8,336.9 905.7,343.9 906.7,351.0 907.6,357.0 908.5,369.3 909.4,380.5 910.3,381.7 911.3,378.2 912.2,374.7 913.1,372.0 914.0,365.1 914.9,358.3 915.8,356.0 916.8,360.0 917.7,364.0 918.6,363.8 919.5,369.5 920.4,381.1 921.4,385.4 922.3,387.6 923.2,389.8 924.1,390.8 925.0,391.8 926.0,392.9 926.9,393.8 927.8,393.7 928.7,393.5 929.6,392.4 930.6,391.7 931.5,402.2 932.4,412.8 933.3,421.3 934.2,425.6 935.2,429.7 936.1,433.9 937.0,436.5 937.9,438.9 938.8,442.2 939.8,445.4 940.7,449.3 941.6,466.0 942.5,482.0 943.4,481.5 944.4,479.1 945.3,476.8 946.2,476.7 947.1,469.1 948.0,455.0 949.0,449.0 949.9,446.9 950.8,444.8 951.7,441.5 952.6,438.3 953.6,449.7 954.5,462.2 955.4,474.9 956.3,476.0 957.2,477.3 958.2,478.6 959.1,475.9 960.0,464.2 960.9,422.6 961.8,403.9 962.8,387.2 963.7,377.1 964.6,370.1 965.5,363.1 966.4,352.9 967.4,342.7 968.3,331.9 969.2,326.9 970.1,324.0 971.0,321.1 972.0,321.1 972.9,321.0 973.8,319.3 974.7,316.9 975.6,317.8 976.6,318.7 977.5,318.8 978.4,325.9 979.3,331.4 980.2,337.0 981.2,343.6 982.1,320.1 983.0,297.5 983.9,297.8 984.8,296.6 985.8,295.5 986.7,295.0 987.6,294.5 988.5,298.1 989.4,299.0 990.3,292.1 991.3,288.0 992.2,287.7 993.1,287.3 994.0,286.3 994.9,285.2 995.9,286.4 996.8,287.7 997.7,289.2 998.6,287.2 999.5,281.4 1000.5,267.5 1001.4,251.1 1002.3,238.0 1003.2,224.0 1004.1,210.0 1005.1,166.9 1006.0,143.2 1006.9,142.4 1007.8,141.7 1008.7,146.5 1009.7,151.4 1010.6,153.8 1011.5,149.0 1012.4,142.7 1013.3,140.4 1014.3,138.9 1015.2,137.5 1016.1,133.2 1017.0,120.3 1017.9,112.3 1018.9,114.5 1019.8,116.1 1020.7,117.7 1021.6,119.0 1022.5,120.3 1023.5,119.4 1024.4,115.3 1025.3,106.7 1026.2,96.4 1027.1,92.0 1028.1,89.5 1029.0,87.1 1029.9,84.6 1030.8,83.7 1031.7,83.1 1032.7,85.2 1033.6,87.4 1034.5,88.4 1035.4,91.5 1036.3,114.8 1037.3,167.2 1038.2,169.9 1039.1,172.5 1040.0,173.4 1040.9,171.3 1041.9,165.7 1042.8,160.0 1043.7,152.7 1044.6,156.0 1045.5,176.1 1046.5,189.9 1047.4,195.6 1048.3,198.3 1049.2,200.6 1050.1,202.9 1051.1,201.7 1052.0,227.1 1052.9,262.1 1053.8,282.3 1054.7,302.7 1055.7,322.3 1056.6,341.2 1057.5,354.6 1058.4,367.1 1059.3,379.6 1060.3,385.8 1061.2,377.8 1062.1,374.3 1063.0,370.9 1063.9,367.2 1064.8,363.6 1065.8,361.4 1066.7,364.2 1067.6,366.4 1068.5,368.6 1069.4,372.1 1070.4,375.6 1071.3,383.6 1072.2,394.2 1073.1,403.5 1074.0,412.8 1075.0,420.1 1075.9,428.8 1076.8,439.9 1077.7,451.0 1078.6,450.7 1079.6,446.6 1080.5,444.2 1081.4,441.7 1082.3,436.9 1083.2,432.1 1084.2,427.0 1085.1,422.0 1086.0,421.7 1086.9,421.4 1087.8,419.1 1088.8,417.5 1089.7,422.3 1090.6,427.2 1091.5,431.5 1092.4,436.6 1093.4,441.7 1094.3,446.7 1095.2,452.5 1096.1,461.9 1097.0,474.2 1098.0,489.0 1098.9,508.3 1099.8,523.2 1100.7,535.6 1101.6,533.4 1102.6,522.2 1103.5,516.1 1104.4,512.0 1105.3,507.9 1106.2,502.3 1107.2,501.9 1108.1,503.8 1109.0,505.8 1109.9,508.1 1110.8,510.7 1111.8,520.1 1112.7,529.5 1113.6,536.8 1114.5,535.6 1115.4,537.7 1116.4,539.8 1117.3,534.4 1118.2,514.4 1119.1,495.6 1120.0,478.0 1121.0,461.1 1121.9,449.7 1122.8,441.3 1123.7,432.9 1124.6,411.9 1125.6,382.8 1126.5,373.5 1127.4,373.6 1128.3,371.7 1129.2,369.8 1130.2,365.6 1131.1,361.5 1132.0,359.3 1132.9,357.1 1133.8,353.9 1134.8,350.8 1135.7,353.0 1136.6,355.2 1137.5,353.4 1138.4,351.5 1139.3,349.7 1140.3,345.1 1141.2,335.6 1142.1,326.0 1143.0,319.5 1143.9,323.5 1144.9,324.7 1145.8,325.9 1146.7,332.1 1147.6,336.3 1148.5,334.8 1149.5,333.4 1150.4,332.9 1151.3,331.3 1152.2,328.2 1153.1,325.2 1154.1,324.7 1155.0,324.1 1155.9,321.5 1156.8,314.1 1157.7,305.5 1158.7,284.0 1159.6,272.2 1160.5,260.3 1161.4,243.0 1162.3,223.4 1163.3,197.6 1164.2,189.9 1165.1,189.0 1166.0,188.0 1166.9,188.5 1167.9,189.4 1168.8,188.6 1169.7,187.9 1170.6,193.2 1171.5,198.5 1172.5,200.9 1173.4,204.1 1174.3,213.0 1175.2,220.0 1176.1,218.0 1177.1,216.0 1178.0,216.7 1178.9,217.3 1179.8,223.2 1180.7,240.2 1181.7,248.7 1182.6,246.1 1183.5,242.7 1184.4,239.3 1185.3,237.1 1186.3,234.9 1187.2,233.5 1188.1,232.2 1189.0,231.6 1189.9,230.9 1190.9,229.2 1191.8,229.7 1192.7,228.5 1193.6,227.2 1194.5,230.1 1195.5,233.0 1196.4,233.5 1197.3,234.9 1198.2,263.2 1199.1,262.8 1200.1,265.4 1201.0,268.0 1201.9,267.2 1202.8,266.9 1203.7,271.9 1204.7,277.0 1205.6,280.1 1206.5,286.0 1207.4,295.2 1208.3,298.5 1209.2,295.4 1210.2,292.4 1211.1,306.1 1212.0,333.3 1212.9,376.6 1213.8,382.6 1214.8,392.5 1215.7,405.8 1216.6,419.0 1217.5,450.2 1218.4,458.7 1219.4,460.8 1220.3,462.3 1221.2,463.8 1222.1,463.5 1223.0,462.9 1224.0,452.9 1224.9,443.9 1225.8,443.7 1226.7,443.5 1227.6,442.4 1228.6,441.0 1229.5,443.5 1230.4,446.0 1231.3,447.7 1232.2,449.3 1233.2,449.5 1234.1,441.5 1235.0,419.2 1235.9,405.6 1236.8,405.4 1237.8,405.2 1238.7,405.4 1239.6,405.5 1240.5,404.0 1241.4,402.6 1242.4,397.9 1243.3,393.2 1244.2,393.2 1245.1,394.2 1246.0,395.4 1247.0,396.7 1247.9,397.0 1248.8,397.7 1249.7,411.8 1250.6,425.8 1251.6,435.9 1252.5,444.8 1253.4,453.2 1254.3,461.6 1255.2,478.4 1256.2,517.1 1257.1,524.0 1258.0,520.3 1258.9,515.7 1259.8,511.1 1260.8,508.3 1261.7,502.0 1262.6,499.0 1263.5,500.4 1264.4,499.2 1265.4,498.1 1266.3,499.4 1267.2,482.5 1268.1,457.2 1269.0,451.4 1270.0,451.7 1270.9,452.0 1271.8,451.6 1272.7,447.2 1273.6,442.8 1274.6,438.5 1275.5,438.6 1276.4,438.8 1277.3,439.6 1278.2,454.8 1279.2,469.8 1280.1,472.5 1281.0,473.8 1281.9,473.3 1282.8,466.5 1283.7,459.8 1284.7,452.1 1285.6,439.7 1286.5,432.0 1287.4,429.1 1288.3,426.9 1289.3,421.6 1290.2,414.4 1291.1,407.2 1292.0,395.3 1292.9,383.4 1293.9,374.3 1294.8,370.5 1295.7,366.0 1296.6,361.5 1297.5,359.2 1298.5,358.8 1299.4,359.1 1300.3,359.4 1301.2,360.4 1302.1,361.4 1303.1,358.7 1304.0,341.0 1304.9,326.9 1305.8,326.6 1306.7,325.4 1307.7,326.0 1308.6,329.7 1309.5,333.3 1310.4,335.1 1311.3,342.0 1312.3,355.2 1313.2,377.2 1314.1,391.6 1315.0,391.2 1315.9,391.0 1316.9,390.7 1317.8,387.3 1318.7,382.9 1319.6,378.3 1320.5,373.6 1321.5,375.5 1322.4,378.7 1323.3,381.7 1324.2,384.6 1325.1,395.3 1326.1,406.4 1327.0,415.4 1327.9,425.0 1328.8,434.5 1329.7,434.4 1330.7,436.8 1331.6,439.1 1332.5,439.3 1333.4,440.0 1334.3,440.5 1335.3,441.0 1336.2,442.2 1337.1,443.2 1338.0,446.7 1338.9,449.0 1339.9,439.4 1340.8,429.8 1341.7,414.6 1342.6,395.8 1343.5,377.1 1344.5,358.4 1345.4,340.3 1346.3,322.9 1347.2,320.9 1348.1,321.8 1349.1,321.2 1350.0,324.5 1350.9,329.6 1351.8,334.8 1352.7,337.7 1353.7,343.0 1354.6,347.9 1355.5,353.2 1356.4,362.3 1357.3,371.4 1358.2,378.8 1359.2,383.0 1360.1,390.2 1361.0,397.4 1361.9,400.5 1362.8,401.0 1363.8,404.0 1364.7,407.1 1365.6,403.6 1366.5,400.2 1367.4,397.8 1368.4,394.6 1369.3,395.6 1370.2,396.5 1371.1,399.8 1372.0,403.1 1373.0,384.0 1373.9,361.5 1374.8,343.9 1375.7,328.0 1376.6,310.0 1377.6,308.8 1378.5,311.9 1379.4,314.9 1380.3,316.0 1381.2,322.8 1382.2,331.3 1383.1,339.9 1384.0,340.8 1384.9,326.7 1385.8,316.0 1386.8,307.8 1387.7,288.7 1388.6,257.7 1389.5,243.6 1390.4,244.4 1391.4,241.1 1392.3,237.9 1393.2,236.5 1394.1,235.1 1395.0,239.7 1396.0,247.7 1396.9,259.1 1397.8,270.6 1398.7,272.4 1399.6,272.0 1400.6,266.8 1401.5,261.6 1402.4,259.8 1403.3,248.0 1404.2,235.1 1405.2,225.7 1406.1,217.6 1407.0,219.7 1407.9,222.1 1408.8,224.6 1409.8,225.7 1410.7,226.8 1411.6,230.5 1412.5,234.2 1413.4,236.7 1414.4,237.3 1415.3,234.8 1416.2,232.3 1417.1,232.9 1418.0,233.6 1419.0,230.7 1419.9,226.8 1420.8,222.9 1421.7,218.9 1422.6,202.0 1423.6,181.1 1424.5,165.7 1425.4,151.3 1426.3,142.1 1427.2,133.2 1428.2,122.2 1429.1,118.4 1430.0,113.8 1430.9,110.0 1431.8,111.3 1432.7,112.5 1433.7,115.7 1434.6,128.0 1435.5,168.2 1436.4,187.7 1437.3,209.4 1438.3,225.4 1439.2,219.1 1440.1,212.7 1441.0,204.9 1441.9,201.6 1442.9,203.9 1443.8,206.3 1444.7,206.9 1445.6,200.9 1446.5,192.5 1447.5,184.1 1448.4,174.5 1449.3,171.3 1450.2,171.9 1451.1,172.5 1452.1,171.6 1453.0,170.8 1453.9,171.3 1454.8,198.7 1455.7,197.2 1456.7,195.7 1457.6,193.3 1458.5,178.3 1459.4,166.5 1460.3,166.1 1461.3,165.7 1462.2,165.3 1463.1,170.1 1464.0,186.4 1464.9,195.0 1465.9,194.5 1466.8,198.7 1467.7,229.4 1468.6,281.6 1469.5,308.0 1470.5,320.5 1471.4,327.8 1472.3,328.1 1473.2,328.4 1474.1,329.6 1475.1,330.7 1476.0,334.2 1476.9,338.9 1477.8,340.8 1478.7,342.1 1479.7,344.5 1480.6,360.4 1481.5,384.4 1482.4,406.5 1483.3,425.6 1484.3,451.7 1485.2,453.0 1486.1,448.1 1487.0,446.7 1487.9,446.3 1488.9,451.0 1489.8,455.6 1490.7,457.1 1491.6,456.8 1492.5,432.3 1493.5,410.7 1494.4,401.6 1495.3,392.5 1496.2,392.1 1497.1,395.3 1498.1,397.7 1499.0,404.1 1499.9,416.7 1500.8,425.3 1501.7,427.6 1502.7,429.9 1503.6,435.1 1504.5,440.3 1505.4,434.7 1506.3,423.9 1507.2,421.7 1508.2,422.2 1509.1,420.7 1510.0,419.2 1510.9,420.1 1511.8,422.2 1512.8,428.4 1513.7,434.7 1514.6,448.4 1515.5,462.7 1516.4,465.8 1517.4,469.0 1518.3,476.2 1519.2,490.1 1520.1,505.2 1521.0,519.6 1522.0,529.3 1522.9,527.4 1523.8,522.4 1524.7,516.7 1525.6,513.4 1526.6,508.9 1527.5,501.9 1528.4,494.8 1529.3,492.4 1530.2,493.0 1531.2,492.7 1532.1,484.1 1533.0,466.7 1533.9,459.5 1534.8,459.1 1535.8,459.8 1536.7,461.4 1537.6,463.1 1538.5,463.9 1539.4,467.1 1540.4,472.5 1541.3,477.8 1542.2,483.7 1543.1,487.8 1544.0,488.1 1545.0,488.5 1545.9,489.6 1546.8,490.3 1547.7,493.1 1548.6,495.9 1549.6,496.5 1550.5,497.1 1551.4,492.1 1552.3,480.9 1553.2,459.6 1554.2,440.7 1555.1,439.5 1556.0,438.2 1556.9,440.0 1557.8,441.8 1558.8,438.8 1559.7,434.4 1560.6,433.2 1561.5,434.9 1562.4,432.2 1563.4,429.6 1564.3,429.6 1565.2,429.6 1566.1,424.1 1567.0,418.3 1568.0,416.5 1568.9,414.7 1569.8,410.1 1570.7,405.5 1571.6,405.1 1572.6,404.2 1573.5,401.0 1574.4,397.7 1575.3,392.6 1576.2,385.7 1577.1,375.5 1578.1,368.0 1579.0,365.6 1579.9,363.1 1580.8,363.7 1581.7,365.5 1582.7,363.5 1583.6,361.5 1584.5,360.5 1585.4,371.1 1586.3,386.4 1587.3,401.6 1588.2,404.5 1589.1,403.8 1590.0,405.1 1590.9,406.5 1591.9,377.8 1592.8,347.0 1593.7,332.1 1594.6,317.9 1595.5,319.0 1596.5,320.2 1597.4,319.3 1598.3,318.5 1599.2,319.1 1600.1,320.0 1601.1,316.3 1602.0,312.5 1602.9,311.3 1603.8,310.1 1604.7,308.4 1605.7,304.3 1606.6,298.9 1607.5,294.8 1608.4,286.9 1609.3,275.0 1610.3,264.2 1611.2,249.2 1612.1,246.3 1613.0,248.4 1613.9,247.1 1614.9,245.8 1615.8,245.6 1616.7,239.9 1617.6,232.5 1618.5,230.9 1619.5,231.7 1620.4,232.5 1621.3,232.4 1622.2,242.0 1623.1,248.0 1624.1,246.2 1625.0,249.9 1625.9,258.3 1626.8,279.3 1627.7,293.9 1628.7,291.9 1629.6,289.9 1630.5,285.0 1631.4,280.2 1632.3,279.4 1633.3,276.9 1634.2,276.3 1635.1,275.7 1636.0,272.2 1636.9,268.7 1637.9,264.8 1638.8,260.8 1639.7,255.1 1640.6,249.4 1641.5,249.9 1642.5,251.0 1643.4,250.3 1644.3,249.7 1645.2,267.6 1646.1,284.1 1647.1,278.8 1648.0,273.6 1648.9,268.5 1649.8,263.3 1650.7,256.7 1651.6,255.3 1652.6,254.0 1653.5,252.7 1654.4,254.3 1655.3,255.8 1656.2,253.8 1657.2,251.8 1658.1,251.4 1659.0,251.4 1659.9,252.3 1660.8,253.2 1661.8,254.2 1662.7,258.9 1663.6,265.4 1664.5,272.0 1665.4,273.2 1666.4,273.3 1667.3,273.0 1668.2,272.7 1669.1,273.5 1670.0,287.2 1671.0,304.6 1671.9,313.6 1672.8,319.3 1673.7,324.4 1674.6,325.7 1675.6,326.9 1676.5,328.9 1677.4,330.9 1678.3,331.5 1679.2,335.2 1680.2,344.8 1681.1,358.3 1682.0,382.4 1682.9,405.8 1683.8,410.0 1684.8,414.2 1685.7,419.7 1686.6,425.1 1687.5,426.8 1688.4,426.6 1689.4,420.9 1690.3,415.2 1691.2,411.5 1692.1,407.9 1693.0,403.0 1694.0,397.2 1694.9,389.3 1695.8,387.5 1696.7,384.5 1697.6,381.4 1698.6,382.7 1699.5,383.9 1700.4,384.5 1701.3,386.5 1702.2,386.6 1703.2,386.8 1704.1,391.6 1705.0,406.1 1705.9,418.6 1706.8,424.7 1707.8,428.1 1708.7,431.4 1709.6,441.2 1710.5,455.6 1711.4,470.5 1712.4,476.5 1713.3,473.8 1714.2,471.1 1715.1,471.2 1716.0,471.3 1717.0,474.0 1717.9,478.4 1718.8,486.9 1719.7,488.5 1720.6,489.7 1721.6,490.8 1722.5,491.4 1723.4,490.3 1724.3,457.5 1725.2,426.8 1726.1,423.1 1727.1,419.3 1728.0,414.7 1728.9,405.6 1729.8,402.5 1730.7,405.6 1731.7,408.2 1732.6,412.3 1733.5,416.7 1734.4,421.1 1735.3,423.7 1736.3,424.1 1737.2,421.8 1738.1,419.4 1739.0,424.0 1739.9,423.3 1740.9,416.3 1741.8,409.3 1742.7,393.7 1743.6,388.6 1744.5,385.2 1745.5,381.8 1746.4,378.8 1747.3,366.5 1748.2,356.1 1749.1,356.6 1750.1,358.0 1751.0,359.3 1751.9,356.7 1752.8,352.4 1753.7,341.5 1754.7,325.8 1755.6,306.4 1756.5,306.2 1757.4,306.0 1758.3,305.8 1759.3,306.2 1760.2,311.0 1761.1,321.7 1762.0,332.4 1762.9,332.7 1763.9,327.8 1764.8,325.6 1765.7,323.5 1766.6,318.7 1767.5,312.4 1768.5,305.6 1769.4,290.8 1770.3,270.1 1771.2,252.2 1772.1,238.0 1773.1,230.1 1774.0,225.0 1774.9,224.5 1775.8,225.0 1776.7,225.5 1777.7,224.2 1778.6,222.9 1779.5,221.6 1780.4,219.9 1781.3,221.8 1782.3,223.7 1783.2,223.7 1784.1,223.7 1785.0,226.4 1785.9,237.7 1786.9,246.2 1787.8,251.2 1788.7,257.1 1789.6,263.7 1790.5,274.1 1791.5,284.5 1792.4,285.7 1793.3,282.9 1794.2,281.6 1795.1,280.4 1796.1,282.7 1797.0,278.6 1797.9,267.2 1798.8,255.8 1799.7,248.3 1800.6,241.4 1801.6,233.8 1802.5,232.2 1803.4,232.1 1804.3,231.9 1805.2,231.2 1806.2,230.3 1807.1,228.8 1808.0,227.4 1808.9,227.8 1809.8,228.5 1810.8,228.5 1811.7,228.4 1812.6,226.9 1813.5,225.9 1814.4,225.9 1815.4,225.8 1816.3,237.0 1817.2,255.7 1818.1,267.5 1819.0,273.7 1820.0,278.7 1820.9,283.6 1821.8,283.3 1822.7,283.5 1823.6,286.0 1824.6,288.5 1825.5,300.2 1826.4,314.2 1827.3,326.6 1828.2,339.1 1829.2,344.8 1830.1,349.7 1831.0,357.2 1831.9,364.7 1832.8,373.5 1833.8,372.5 1834.7,366.5 1835.6,360.6 1836.5,357.1 1837.4,350.2 1838.4,343.6 1839.3,339.6 1840.2,341.2 1841.1,342.7 1842.0,348.2 1843.0,356.0 1843.9,361.2 1844.8,368.3 1845.7,377.1 1846.6,385.9 1847.6,396.2 1848.5,407.5 1849.4,412.1 1850.3,412.6 1851.2,409.3 1852.2,406.1 1853.1,401.0 1854.0,409.6 1854.9,422.8 1855.8,429.5 1856.8,435.7 1857.7,441.8 1858.6,444.5 1859.5,447.2 1860.4,451.8 1861.4,456.7 1862.3,462.1 1863.2,467.5 1864.1,472.8 1865.0,484.3 1866.0,492.3 1866.9,491.3 1867.8,493.1 1868.7,494.8 1869.6,502.6 1870.5,515.6 1871.5,523.5 1872.4,533.0 1873.3,537.9 1874.2,538.4 1875.1,542.8 1876.1,545.0 1877.0,543.5 1877.9,542.0 1878.8,539.5 1879.7,537.0 1880.7,520.6 1881.6,519.8 1882.5,523.5 1883.4,527.3 1884.3,525.4 1885.3,528.7 1886.2,533.9 1887.1,539.0 1888.0,544.1 1888.9,544.6 1889.9,544.2 1890.8,543.8 1891.7,544.0 1892.6,534.7 1893.5,522.2 1894.5,523.9 1895.4,523.5 1896.3,523.2 1897.2,527.9 1898.1,532.2 1899.1,531.5 1900.0,530.8 1900.9,530.8 1901.8,530.5 1902.7,529.8 1903.7,529.0 1904.6,547.8 1905.5,551.5 1906.4,551.3 1907.3,551.1 1908.3,551.2 1909.2,551.0 1910.1,546.9 1911.0,542.8 1911.9,540.5 1912.9,538.8 1913.8,537.8 1914.7,536.8 1915.6,537.5 1916.5,538.3 1917.5,539.9 1918.4,541.5 1919.3,540.3 1920.2,539.5 1921.1,539.4 1922.1,539.3 1923.0,538.0 1923.9,536.7 1924.8,546.5 1925.7,559.0 1926.7,567.2 1927.6,575.0 1928.5,582.4 1929.4,583.7 1930.3,584.3 1931.3,584.9 1932.2,583.5 1933.1,582.2 1934.0,577.4 1934.9,572.5 1935.9,564.9 1936.8,555.0 1937.7,546.6 1938.6,539.8 1939.5,532.1 1940.5,525.4 1941.4,523.3 1942.3,521.2 1943.2,517.7 1944.1,513.2 1945.0,505.7 1946.0,498.2 1946.9,492.4 1947.8,486.9 1948.7,481.0 1949.6,475.2 1950.6,479.5 1951.5,488.5 1952.4,493.4 1953.3,501.4 1954.2,514.3 1955.2,516.7 1956.1,515.5 1957.0,514.2 1957.9,496.8 1958.8,478.0 1959.8,442.8 1960.7,431.5 1961.6,418.8 1962.5,405.9 1963.4,392.8 1964.4,379.5 1965.3,362.5 1966.2,345.5 1967.1,334.8 1968.0,334.2 1969.0,333.9 1969.9,333.6 1970.8,337.7 1971.7,344.9 1972.6,349.3 1973.6,356.0 1974.5,363.4 1975.4,363.8 1976.3,360.4 1977.2,357.0 1978.2,356.0 1979.1,355.1 1980.0,354.7 1980.9,354.8 1981.8,354.5 1982.8,354.2 1983.7,366.4 1984.6,379.9 1985.5,379.9 1986.4,379.7 1987.4,373.8 1988.3,368.0 1989.2,365.8 1990.1,364.6 1991.0,363.5 1992.0,362.4 1992.9,364.2 1993.8,370.4 1994.7,375.4 1995.6,371.2 1996.6,349.3 1997.5,335.8 1998.4,336.7 1999.3,337.6 2000.2,343.0 2001.2,352.0 2002.1,361.7 2003.0,371.5 2003.9,373.9 2004.8,373.7 2005.8,369.8 2006.7,365.9 2007.6,356.3 2008.5,344.9 2009.4,333.6 2010.4,323.6 2011.3,316.2 2012.2,317.3 2013.1,315.5 2014.0,313.7 2015.0,311.3 2015.9,309.0 2016.8,309.2 2017.7,309.3 2018.6,309.8 2019.5,310.2 2020.5,308.5 2021.4,307.1 2022.3,306.5 2023.2,305.9 2024.1,306.8 2025.1,307.8 2026.0,314.4 2026.9,324.7 2027.8,336.2 2028.7,340.8 2029.7,336.4 2030.6,332.0 2031.5,333.0 2032.4,333.9 2033.3,331.9 2034.3,330.0 2035.2,329.7 2036.1,357.7 2037.0,360.0 2037.9,361.7 2038.9,360.6 2039.8,361.0 2040.7,375.1 2041.6,389.3 2042.5,397.6 2043.5,396.3 2044.4,398.8 2045.3,401.3 2046.2,399.6 2047.1,394.4 2048.1,388.3 2049.0,389.5 2049.9,402.3 2050.8,417.1 2051.7,428.9 2052.7,440.8 2053.6,445.8 2054.5,445.4"/>
<polyline stroke="#ff0000" points="215.0,1502.9 215.9,1502.9 216.8,1502.9 217.8,1502.9 218.7,1502.9 219.6,1502.9 220.5,1502.8 221.4,1502.8 222.4,1502.8 223.3,1502.8 224.2,1502.8 225.1,1502.8 226.0,1502.8 227.0,1502.8 227.9,1502.8 228.8,1502.8 229.7,1502.8 230.6,1502.8 231.6,1502.8 232.5,1502.8 233.4,1502.7 234.3,1502.7 235.2,1502.7 236.2,1502.7 237.1,1502.7 238.0,1502.7 238.9,1502.7 239.8,1502.7 240.8,1502.7 241.7,1502.7 242.6,1502.7 243.5,1502.7 244.4,1502.7 245.4,1502.7 246.3,1502.7 247.2,1502.7 248.1,1502.7 249.0,1502.6 250.0,1502.6 250.9,1502.6 251.8,1502.6 252.7,1502.6 253.6,1502.6 254.5,1502.6 255.5,1502.6 256.4,1502.6 257.3,1502.6 258.2,1502.6 259.1,1502.6 260.1,1502.6 261.0,1502.6 261.9,1502.6 262.8,1502.6 263.7,1502.6 264.7,1502.6 265.6,1502.6 266.5,1502.5 267.4,1502.5 268.3,1502.5 269.3,1502.5 270.2,1501.6 271.1,1500.8 272.0,1499.9 272.9,1499.0 273.9,1498.1 274.8,1497.3 275.7,1496.4 276.6,1495.6 277.5,1494.9 278.5,1494.2 279.4,1493.5 280.3,1492.8 281.2,1492.2 282.1,1491.4 283.1,1490.7 284.0,1489.7 284.9,1488.3 285.8,1486.9 286.7,1485.5 287.7,1484.1 288.6,1482.7 289.5,1481.4 290.4,1480.1 291.3,1479.5 292.3,1479.1 293.2,1478.6 294.1,1478.1 295.0,1477.6 295.9,1477.1 296.9,1476.7 297.8,1476.2 298.7,1475.7 299.6,1475.2 300.5,1474.4 301.5,1473.6 302.4,1472.8 303.3,1472.0 304.2,1471.1 305.1,1470.3 306.1,1469.5 307.0,1468.8 307.9,1468.1 308.8,1467.3 309.7,1466.6 310.7,1465.8 311.6,1465.2 312.5,1464.5 313.4,1463.7 314.3,1462.9 315.3,1462.2 316.2,1461.3 317.1,1460.2 318.0,1459.1 318.9,1457.8 319.9,1456.6 320.8,1455.5 321.7,1454.5 322.6,1453.5 323.5,1452.4 324.5,1451.2 325.4,1450.2 326.3,1449.3 327.2,1448.5 328.1,1447.6 329.0,1446.8 330.0,1445.8 330.9,1444.9 331.8,1444.0 332.7,1443.0 333.6,1442.0 334.6,1440.9 335.5,1439.8 336.4,1438.8 337.3,1437.6 338.2,1436.4 339.2,1435.2 340.1,1434.0 341.0,1432.9 341.9,1431.7 342.8,1430.5 343.8,1429.3 344.7,1428.1 345.6,1426.8 346.5,1425.7 347.4,1424.6 348.4,1423.2 349.3,1421.8 350.2,1420.7 351.1,1419.5 352.0,1417.5 353.0,1415.5 353.9,1413.4 354.8,1411.3 355.7,1409.6 356.6,1408.3 357.6,1407.8 358.5,1407.2 359.4,1406.6 360.3,1406.2 361.2,1406.0 362.2,1405.7 363.1,1405.7 364.0,1405.7 364.9,1405.7 365.8,1405.6 366.8,1405.6 367.7,1405.6 368.6,1405.5 369.5,1405.4 370.4,1405.2 371.4,1404.8 372.3,1404.8 373.2,1404.7 374.1,1404.6 375.0,1404.4 376.0,1404.2 376.9,1404.0 377.8,1403.7 378.7,1403.3 379.6,1403.6 380.6,1404.2 381.5,1404.4 382.4,1404.7 383.3,1405.0 384.2,1405.3 385.2,1405.5 386.1,1405.7 387.0,1406.1 387.9,1406.5 388.8,1406.2 389.8,1405.5 390.7,1404.5 391.6,1403.6 392.5,1402.4 393.4,1401.3 394.4,1400.3 395.3,1399.3 396.2,1399.2 397.1,1399.2 398.0,1398.9 398.9,1398.7 399.9,1398.3 400.8,1397.9 401.7,1397.8 402.6,1397.7 403.5,1396.6 404.5,1395.5 405.4,1395.1 406.3,1394.6 407.2,1394.1 408.1,1393.7 409.1,1392.7 410.0,1392.3 410.9,1392.9 411.8,1393.5 412.7,1393.9 413.7,1394.4 414.6,1395.0 415.5,1395.5 416.4,1396.1 417.3,1396.0 418.3,1395.4 419.2,1394.8 420.1,1394.3 421.0,1393.9 421.9,1393.7 422.9,1393.5 423.8,1393.1 424.7,1392.6 425.6,1392.1 426.5,1391.6 427.5,1390.7 428.4,1389.8 429.3,1389.4 430.2,1389.0 431.1,1388.4 432.1,1387.9 433.0,1387.0 433.9,1385.3 434.8,1383.5 435.7,1381.7 436.7,1380.3 437.6,1379.9 438.5,1379.8 439.4,1379.7 440.3,1379.7 441.3,1379.7 442.2,1379.6 443.1,1379.5 444.0,1379.6 444.9,1379.8 445.9,1380.4 446.8,1381.0 447.7,1381.4 448.6,1381.9 449.5,1382.0 450.5,1382.0 451.4,1380.3 452.3,1378.6 453.2,1377.1 454.1,1375.6 455.1,1374.2 456.0,1373.1 456.9,1373.0 457.8,1372.9 458.7,1373.1 459.7,1373.3 460.6,1372.9 461.5,1372.5 462.4,1372.3 463.3,1371.8 464.3,1371.0 465.2,1370.3 466.1,1369.9 467.0,1369.6 467.9,1369.1 468.9,1368.5 469.8,1367.7 470.7,1366.9 471.6,1366.2 472.5,1365.4 473.4,1364.7 474.4,1364.0 475.3,1363.0 476.2,1362.1 477.1,1361.0 478.0,1360.0 479.0,1359.2 479.9,1358.5 480.8,1357.9 481.7,1358.1 482.6,1358.4 483.6,1358.7 484.5,1359.0 485.4,1359.3 486.3,1359.2 487.2,1359.1 488.2,1357.4 489.1,1354.0 490.0,1350.6 490.9,1347.3 491.8,1345.9 492.8,1345.7 493.7,1345.5 494.6,1345.2 495.5,1344.7 496.4,1344.1 497.4,1343.7 498.3,1343.2 499.2,1342.8 500.1,1342.3 501.0,1342.1 502.0,1341.9 502.9,1341.5 503.8,1341.0 504.7,1340.3 505.6,1339.5 506.6,1338.9 507.5,1338.3 508.4,1337.6 509.3,1337.0 510.2,1336.7 511.2,1336.9 512.1,1337.7 513.0,1338.4 513.9,1339.4 514.8,1340.4 515.8,1340.9 516.7,1341.5 517.6,1342.4 518.5,1342.1 519.4,1341.0 520.4,1339.9 521.3,1338.8 522.2,1337.8 523.1,1336.3 524.0,1336.8 525.0,1337.8 525.9,1338.7 526.8,1339.7 527.7,1340.6 528.6,1342.0 529.6,1342.5 530.5,1342.6 531.4,1342.7 532.3,1343.2 533.2,1343.8 534.2,1343.5 535.1,1343.3 536.0,1343.5 536.9,1343.6 537.8,1343.2 538.8,1342.1 539.7,1341.2 540.6,1340.2 541.5,1339.7 542.4,1339.1 543.4,1338.5 544.3,1338.0 545.2,1337.1 546.1,1336.1 547.0,1334.8 547.9,1333.5 548.9,1332.8 549.8,1332.2 550.7,1331.6 551.6,1331.0 552.5,1330.3 553.5,1329.5 554.4,1329.1 555.3,1328.9 556.2,1329.8 557.1,1330.8 558.1,1331.5 559.0,1332.2 559.9,1332.8 560.8,1333.3 561.7,1334.1 562.7,1334.4 563.6,1333.4 564.5,1332.4 565.4,1331.9 566.3,1331.4 567.3,1330.8 568.2,1330.1 569.1,1329.1 570.0,1331.5 570.9,1330.4 571.9,1329.3 572.8,1329.1 573.7,1328.8 574.6,1328.2 575.5,1327.6 576.5,1326.4 577.4,1325.2 578.3,1324.7 579.2,1325.0 580.1,1326.9 581.1,1328.8 582.0,1330.8 582.9,1332.8 583.8,1334.9 584.7,1336.9 585.7,1339.0 586.6,1339.6 587.5,1339.2 588.4,1338.7 589.3,1338.0 590.3,1337.2 591.2,1336.4 592.1,1335.7 593.0,1335.4 593.9,1335.0 594.9,1335.2 595.8,1336.0 596.7,1336.4 597.6,1336.7 598.5,1337.0 599.5,1337.4 600.4,1337.5 601.3,1337.7 602.2,1338.0 603.1,1338.3 604.1,1338.6 605.0,1338.4 605.9,1337.8 606.8,1337.1 607.7,1337.0 608.7,1336.9 609.6,1336.5 610.5,1336.0 611.4,1337.0 612.3,1338.0 613.3,1338.9 614.2,1339.8 615.1,1340.5 616.0,1340.7 616.9,1341.9 617.9,1343.1 618.8,1343.6 619.7,1344.2 620.6,1344.6 621.5,1343.7 622.4,1341.3 623.4,1338.9 624.3,1336.4 625.2,1335.3 626.1,1335.6 627.0,1336.0 628.0,1335.9 628.9,1335.8 629.8,1335.7 630.7,1335.7 631.6,1336.5 632.6,1337.4 633.5,1338.4 634.4,1339.4 635.3,1340.2 636.2,1341.0 637.2,1341.9 638.1,1342.7 639.0,1343.2 639.9,1345.0 640.8,1352.3 641.8,1351.8 642.7,1351.1 643.6,1350.3 644.5,1349.6 645.4,1348.9 646.4,1348.4 647.3,1347.8 648.2,1347.3 649.1,1347.2 650.0,1347.7 651.0,1348.1 651.9,1348.4 652.8,1348.8 653.7,1349.1 654.6,1349.5 655.6,1349.6 656.5,1349.4 657.4,1349.6 658.3,1349.7 659.2,1349.6 660.2,1349.5 661.1,1349.5 662.0,1348.6 662.9,1347.9 663.8,1347.3 664.8,1346.7 665.7,1347.3 666.6,1347.6 667.5,1347.9 668.4,1348.2 669.4,1348.4 670.3,1349.4 671.2,1350.8 672.1,1352.1 673.0,1353.4 674.0,1354.8 674.9,1354.8 675.8,1353.5 676.7,1352.2 677.6,1350.5 678.6,1348.8 679.5,1347.9 680.4,1347.1 681.3,1346.3 682.2,1345.5 683.2,1344.5 684.1,1343.6 685.0,1344.2 685.9,1344.9 686.8,1345.6 687.8,1346.3 688.7,1346.0 689.6,1345.7 690.5,1345.2 691.4,1344.7 692.4,1344.5 693.3,1344.3 694.2,1344.0 695.1,1343.6 696.0,1343.2 696.9,1342.8 697.9,1342.3 698.8,1341.7 699.7,1341.4 700.6,1341.6 701.5,1341.7 702.5,1341.8 703.4,1342.0 704.3,1342.2 705.2,1342.2 706.1,1342.3 707.1,1342.5 708.0,1342.7 708.9,1343.1 709.8,1343.6 710.7,1344.1 711.7,1344.5 712.6,1344.9 713.5,1345.3 714.4,1345.9 715.3,1347.1 716.3,1349.3 717.2,1350.7 718.1,1351.0 719.0,1351.3 719.9,1351.5 720.9,1351.8 721.8,1351.8 722.7,1351.8 723.6,1352.2 724.5,1352.5 725.5,1352.8 726.4,1353.0 727.3,1353.4 728.2,1353.7 729.1,1353.7 730.1,1353.5 731.0,1353.4 731.9,1353.3 732.8,1352.7 733.7,1352.1 734.7,1352.0 735.6,1351.9 736.5,1351.8 737.4,1351.7 738.3,1352.1 739.3,1352.5 740.2,1352.4 741.1,1352.3 742.0,1352.4 742.9,1352.5 743.9,1352.7 744.8,1352.9 745.7,1353.5 746.6,1354.1 747.5,1353.7 748.5,1353.3 749.4,1353.5 750.3,1353.7 751.2,1354.0 752.1,1354.0 753.1,1353.7 754.0,1353.4 754.9,1353.0 755.8,1352.6 756.7,1352.3 757.7,1351.9 758.6,1351.7 759.5,1351.6 760.4,1351.8 761.3,1352.0 762.3,1351.6 763.2,1351.3 764.1,1350.9 765.0,1347.8 765.9,1345.0 766.9,1344.3 767.8,1343.5 768.7,1342.8 769.6,1341.9 770.5,1340.9 771.4,1340.4 772.4,1340.0 773.3,1339.5 774.2,1339.1 775.1,1338.6 776.0,1338.1 777.0,1338.1 777.9,1338.1 778.8,1337.9 779.7,1337.7 780.6,1337.6 781.6,1337.4 782.5,1337.4 783.4,1337.3 784.3,1336.9 785.2,1336.4 786.2,1336.0 787.1,1335.7 788.0,1334.9 788.9,1334.1 789.8,1333.3 790.8,1332.7 791.7,1333.3 792.6,1333.9 793.5,1334.1 794.4,1334.3 795.4,1334.7 796.3,1335.1 797.2,1335.1 798.1,1335.1 799.0,1335.3 800.0,1335.4 800.9,1335.1 801.8,1334.9 802.7,1334.7 803.6,1334.6 804.6,1334.2 805.5,1333.9 806.4,1333.8 807.3,1332.4 808.2,1331.2 809.2,1330.0 810.1,1328.4 811.0,1326.3 811.9,1324.1 812.8,1322.0 813.8,1320.3 814.7,1318.6 815.6,1317.1 816.5,1316.0 817.4,1315.9 818.4,1315.8 819.3,1316.2 820.2,1316.7 821.1,1316.7 822.0,1316.8 823.0,1317.5 823.9,1318.6 824.8,1319.2 825.7,1319.8 826.6,1321.0 827.6,1321.4 828.5,1320.8 829.4,1320.1 830.3,1319.9 831.2,1319.7 832.2,1319.6 833.1,1319.8 834.0,1319.7 834.9,1319.7 835.8,1319.3 836.8,1318.8 837.7,1318.2 838.6,1317.6 839.5,1316.7 840.4,1315.8 841.3,1315.0 842.3,1314.1 843.2,1313.6 844.1,1313.4 845.0,1313.7 845.9,1314.1 846.9,1314.6 847.8,1315.1 848.7,1314.6 849.6,1313.1 850.5,1311.9 851.5,1310.7 852.4,1309.8 853.3,1308.9 854.2,1307.9 855.1,1306.9 856.1,1305.5 857.0,1306.5 857.9,1309.1 858.8,1311.6 859.7,1314.0 860.7,1314.9 861.6,1315.4 862.5,1315.8 863.4,1316.2 864.3,1316.5 865.3,1317.0 866.2,1317.3 867.1,1318.1 868.0,1318.9 868.9,1318.9 869.9,1320.8 870.8,1326.7 871.7,1327.2 872.6,1327.7 873.5,1328.1 874.5,1328.5 875.4,1329.0 876.3,1329.5 877.2,1330.0 878.1,1330.6 879.1,1331.2 880.0,1331.6 880.9,1332.0 881.8,1332.6 882.7,1333.5 883.7,1335.1 884.6,1336.6 885.5,1336.6 886.4,1336.3 887.3,1335.3 888.3,1334.3 889.2,1333.3 890.1,1332.3 891.0,1331.4 891.9,1330.5 892.9,1329.4 893.8,1328.6 894.7,1329.5 895.6,1330.4 896.5,1331.1 897.5,1332.5 898.4,1335.4 899.3,1336.1 900.2,1340.5 901.1,1341.7 902.1,1342.7 903.0,1343.7 903.9,1344.7 904.8,1345.7 905.7,1346.7 906.7,1347.6 907.6,1348.4 908.5,1350.1 909.4,1351.7 910.3,1351.8 911.3,1351.4 912.2,1350.9 913.1,1350.5 914.0,1349.6 914.9,1348.6 915.8,1348.3 916.8,1348.9 917.7,1349.4 918.6,1349.4 919.5,1350.2 920.4,1351.8 921.4,1352.3 922.3,1352.6 923.2,1352.9 924.1,1353.1 925.0,1353.2 926.0,1353.4 926.9,1353.5 927.8,1353.5 928.7,1353.5 929.6,1353.3 930.6,1353.2 931.5,1354.6 932.4,1356.1 933.3,1357.3 934.2,1357.8 935.2,1358.4 936.1,1359.0 937.0,1359.3 937.9,1359.7 938.8,1360.1 939.8,1360.6 940.7,1361.1 941.6,1363.4 942.5,1365.6 943.4,1365.5 944.4,1365.2 945.3,1364.9 946.2,1364.9 947.1,1363.8 948.0,1361.9 949.0,1361.1 949.9,1360.8 950.8,1360.5 951.7,1360.0 952.6,1359.6 953.6,1361.2 954.5,1362.9 955.4,1364.6 956.3,1364.8 957.2,1364.9 958.2,1365.1 959.1,1364.8 960.0,1363.1 960.9,1357.4 961.8,1354.9 962.8,1352.6 963.7,1351.2 964.6,1350.2 965.5,1349.3 966.4,1347.9 967.4,1346.5 968.3,1345.0 969.2,1344.3 970.1,1343.9 971.0,1343.5 972.0,1343.5 972.9,1343.5 973.8,1343.3 974.7,1343.0 975.6,1343.1 976.6,1343.2 977.5,1343.2 978.4,1344.2 979.3,1344.9 980.2,1345.7 981.2,1346.6 982.1,1343.4 983.0,1340.3 983.9,1340.3 984.8,1340.2 985.8,1340.0 986.7,1339.9 987.6,1339.9 988.5,1340.4 989.4,1340.5 990.3,1339.5 991.3,1339.0 992.2,1338.9 993.1,1338.9 994.0,1338.7 994.9,1338.6 995.9,1338.8 996.8,1334.3 997.7,1334.3 998.6,1334.3 999.5,1334.0 1000.5,1333.8 1001.4,1332.9 1002.3,1328.8 1003.2,1324.4 1004.1,1320.0 1005.1,1317.0 1006.0,1316.8 1006.9,1316.2 1007.8,1315.7 1008.7,1315.9 1009.7,1316.0 1010.6,1316.1 1011.5,1316.1 1012.4,1315.8 1013.3,1315.5 1014.3,1314.4 1015.2,1312.9 1016.1,1311.6 1017.0,1310.4 1017.9,1308.7 1018.9,1307.0 1019.8,1304.0 1020.7,1300.7 1021.6,1297.4 1022.5,1294.1 1023.5,1291.2 1024.4,1288.4 1025.3,1285.3 1026.2,1282.2 1027.1,1279.0 1028.1,1276.2 1029.0,1275.3 1029.9,1274.4 1030.8,1273.1 1031.7,1271.9 1032.7,1271.1 1033.6,1270.3 1034.5,1269.3 1035.4,1267.8 1036.3,1266.3 1037.3,1264.9 1038.2,1262.6 1039.1,1260.2 1040.0,1257.6 1040.9,1256.0 1041.9,1255.4 1042.8,1254.8 1043.7,1253.9 1044.6,1253.0 1045.5,1253.0 1046.5,1252.9 1047.4,1252.4 1048.3,1251.9 1049.2,1251.7 1050.1,1253.0 1051.1,1253.6 1052.0,1254.2 1052.9,1254.7 1053.8,1255.3 1054.7,1256.6 1055.7,1258.0 1056.6,1258.6 1057.5,1257.7 1058.4,1256.7 1059.3,1255.7 1060.3,1253.6 1061.2,1251.5 1062.1,1249.6 1063.0,1246.9 1063.9,1244.3 1064.8,1241.6 1065.8,1239.9 1066.7,1239.0 1067.6,1237.8 1068.5,1236.7 1069.4,1235.9 1070.4,1235.1 1071.3,1234.7 1072.2,1234.4 1073.1,1234.3 1074.0,1234.2 1075.0,1233.1 1075.9,1232.0 1076.8,1231.4 1077.7,1230.4 1078.6,1225.9 1079.6,1221.4 1080.5,1217.4 1081.4,1213.8 1082.3,1210.7 1083.2,1207.6 1084.2,1204.3 1085.1,1201.1 1086.0,1198.2 1086.9,1195.6 1087.8,1192.8 1088.8,1189.9 1089.7,1187.8 1090.6,1185.7 1091.5,1183.4 1092.4,1181.8 1093.4,1180.0 1094.3,1178.2 1095.2,1176.6 1096.1,1175.0 1097.0,1173.0 1098.0,1169.9 1098.9,1167.4 1099.8,1165.0 1100.7,1162.7 1101.6,1160.4 1102.6,1157.7 1103.5,1156.8 1104.4,1155.9 1105.3,1154.9 1106.2,1153.5 1107.2,1152.1 1108.1,1151.5 1109.0,1151.8 1109.9,1152.2 1110.8,1152.6 1111.8,1152.7 1112.7,1152.7 1113.6,1152.6 1114.5,1152.4 1115.4,1149.6 1116.4,1143.9 1117.3,1137.6 1118.2,1131.3 1119.1,1126.0 1120.0,1121.1 1121.0,1115.0 1121.9,1108.9 1122.8,1104.0 1123.7,1099.1 1124.6,1095.8 1125.6,1092.8 1126.5,1091.3 1127.4,1089.7 1128.3,1087.4 1129.2,1097.1 1130.2,1095.6 1131.1,1094.1 1132.0,1093.4 1132.9,1092.6 1133.8,1091.4 1134.8,1090.3 1135.7,1091.1 1136.6,1091.9 1137.5,1091.2 1138.4,1090.6 1139.3,1089.9 1140.3,1088.3 1141.2,1084.8 1142.1,1081.4 1143.0,1079.0 1143.9,1080.5 1144.9,1080.9 1145.8,1081.3 1146.7,1083.6 1147.6,1085.1 1148.5,1084.6 1149.5,1084.0 1150.4,1083.9 1151.3,1083.3 1152.2,1082.2 1153.1,1081.1 1154.1,1080.9 1155.0,1080.7 1155.9,1079.8 1156.8,1077.1 1157.7,1074.0 1158.7,1066.3 1159.6,1062.0 1160.5,1057.7 1161.4,1051.5 1162.3,1044.4 1163.3,1035.2 1164.2,1032.4 1165.1,1032.1 1166.0,1031.7 1166.9,1031.9 1167.9,1032.2 1168.8,1032.0 1169.7,1031.7 1170.6,1033.6 1171.5,1035.5 1172.5,1036.3 1173.4,1037.5 1174.3,1040.7 1175.2,1043.2 1176.1,1042.5 1177.1,1041.8 1178.0,1042.0 1178.9,1042.3 1179.8,1044.4 1180.7,1050.5 1181.7,1053.6 1182.6,1052.6 1183.5,1051.4 1184.4,1050.2 1185.3,1049.4 1186.3,1048.6 1187.2,1048.1 1188.1,1047.6 1189.0,1047.4 1189.9,1047.2 1190.9,1046.5 1191.8,1046.7 1192.7,1046.3 1193.6,1045.8 1194.5,1046.9 1195.5,1047.9 1196.4,1048.1 1197.3,1048.6 1198.2,1058.8 1199.1,1058.6 1200.1,1059.6 1201.0,1060.5 1201.9,1060.2 1202.8,1060.1 1203.7,1061.9 1204.7,1063.7 1205.6,1064.9 1206.5,1067.0 1207.4,1070.3 1208.3,1071.5 1209.2,1070.4 1210.2,1069.3 1211.1,1074.2 1212.0,1084.0 1212.9,1099.6 1213.8,1101.7 1214.8,1105.3 1215.7,1110.1 1216.6,1114.8 1217.5,1126.1 1218.4,1129.1 1219.4,1129.9 1220.3,1130.4 1221.2,1131.0 1222.1,1130.9 1223.0,1130.6 1224.0,1127.0 1224.9,1123.8 1225.8,1123.7 1226.7,1123.7 1227.6,1123.3 1228.6,1122.8 1229.5,1123.7 1230.4,1124.6 1231.3,1125.2 1232.2,1125.8 1233.2,1125.8 1234.1,1122.9 1235.0,1114.9 1235.9,1110.0 1236.8,1110.0 1237.8,1109.9 1238.7,1109.9 1239.6,1110.0 1240.5,1109.4 1241.4,1108.9 1242.4,1107.2 1243.3,1105.5 1244.2,1105.6 1245.1,1105.9 1246.0,1106.4 1247.0,1106.8 1247.9,1106.9 1248.8,1107.2 1249.7,1112.3 1250.6,1117.3 1251.6,1120.9 1252.5,1124.1 1253.4,1127.1 1254.3,1130.2 1255.2,1136.2 1256.2,1150.2 1257.1,1152.6 1258.0,1151.3 1258.9,1149.6 1259.8,1148.0 1260.8,1147.0 1261.7,1144.7 1262.6,1143.6 1263.5,1144.1 1264.4,1143.7 1265.4,1143.3 1266.3,1143.8 1267.2,1137.7 1268.1,1128.6 1269.0,1126.5 1270.0,1126.6 1270.9,1126.7 1271.8,1126.6 1272.7,1125.0 1273.6,1123.4 1274.6,1121.9 1275.5,1121.9 1276.4,1122.0 1277.3,1122.2 1278.2,1127.7 1279.2,1133.1 1280.1,1134.1 1281.0,1134.6 1281.9,1134.4 1282.8,1131.9 1283.7,1129.5 1284.7,1126.8 1285.6,1122.3 1286.5,1119.5 1287.4,1118.5 1288.3,1117.7 1289.3,1115.8 1290.2,1113.2 1291.1,1110.6 1292.0,1106.3 1292.9,1102.1 1293.9,1098.8 1294.8,1097.4 1295.7,1095.8 1296.6,1094.2 1297.5,1093.3 1298.5,1093.2 1299.4,1093.3 1300.3,1093.4 1301.2,1093.8 1302.1,1094.1 1303.1,1093.1 1304.0,1086.8 1304.9,1081.7 1305.8,1081.6 1306.7,1081.2 1307.7,1081.4 1308.6,1082.7 1309.5,1084.0 1310.4,1084.7 1311.3,1087.1 1312.3,1091.9 1313.2,1099.8 1314.1,1105.0 1315.0,1104.8 1315.9,1104.8 1316.9,1104.7 1317.8,1103.4 1318.7,1101.8 1319.6,1100.2 1320.5,1098.5 1321.5,1099.2 1322.4,1100.3 1323.3,1101.4 1324.2,1102.5 1325.1,1106.3 1326.1,1110.3 1327.0,1113.6 1327.9,1117.0 1328.8,1120.4 1329.7,1120.4 1330.7,1121.2 1331.6,1122.1 1332.5,1122.2 1333.4,1122.4 1334.3,1122.6 1335.3,1122.8 1336.2,1123.2 1337.1,1123.6 1338.0,1124.8 1338.9,1125.6 1339.9,1122.2 1340.8,1118.7 1341.7,1113.3 1342.6,1106.5 1343.5,1099.8 1344.5,1093.0 1345.4,1086.5 1346.3,1080.3 1347.2,1079.6 1348.1,1079.9 1349.1,1079.6 1350.0,1080.8 1350.9,1082.7 1351.8,1084.5 1352.7,1085.6 1353.7,1087.5 1354.6,1089.3 1355.5,1091.2 1356.4,1094.4 1357.3,1097.7 1358.2,1100.4 1359.2,1101.9 1360.1,1104.5 1361.0,1107.1 1361.9,1108.2 1362.8,1108.4 1363.8,1109.5 1364.7,1110.5 1365.6,1109.3 1366.5,1108.1 1367.4,1107.2 1368.4,1106.1 1369.3,1106.4 1370.2,1106.8 1371.1,1107.9 1372.0,1109.1 1373.0,1102.3 1373.9,1094.1 1374.8,1087.8 1375.7,1082.1 1376.6,1075.6 1377.6,1075.2 1378.5,1076.3 1379.4,1077.4 1380.3,1077.8 1381.2,1080.2 1382.2,1083.3 1383.1,1086.4 1384.0,1086.7 1384.9,1081.6 1385.8,1077.8 1386.8,1074.8 1387.7,1068.0 1388.6,1056.8 1389.5,1051.7 1390.4,1052.0 1391.4,1050.8 1392.3,1049.7 1393.2,1049.2 1394.1,1048.7 1395.0,1050.3 1396.0,1053.2 1396.9,1057.3 1397.8,1061.4 1398.7,1062.1 1399.6,1061.9 1400.6,1060.1 1401.5,1058.2 1402.4,1057.6 1403.3,1053.3 1404.2,1048.7 1405.2,1045.3 1406.1,1042.4 1407.0,1043.1 1407.9,1044.0 1408.8,1044.9 1409.8,1045.3 1410.7,1045.7 1411.6,1047.0 1412.5,1048.4 1413.4,1049.2 1414.4,1049.5 1415.3,1048.6 1416.2,1047.6 1417.1,1047.9 1418.0,1048.1 1419.0,1047.1 1419.9,1045.7 1420.8,1044.3 1421.7,1042.8 1422.6,1036.8 1423.6,1029.2 1424.5,1023.7 1425.4,1018.5 1426.3,1015.2 1427.2,1012.0 1428.2,1008.0 1429.1,1006.7 1430.0,1005.0 1430.9,1003.6 1431.8,1004.1 1432.7,1004.6 1433.7,1005.7 1434.6,1010.1 1435.5,1024.6 1436.4,1031.6 1437.3,1039.4 1438.3,1045.2 1439.2,1042.9 1440.1,1040.6 1441.0,1037.8 1441.9,1036.6 1442.9,1037.4 1443.8,1038.3 1444.7,1038.5 1445.6,1036.3 1446.5,1033.3 1447.5,1030.3 1448.4,1026.8 1449.3,1025.7 1450.2,1025.9 1451.1,1026.1 1452.1,1025.8 1453.0,1025.5 1453.9,1025.7 1454.8,1035.6 1455.7,1035.0 1456.7,1034.5 1457.6,1033.6 1458.5,1028.2 1459.4,1024.0 1460.3,1023.8 1461.3,1023.7 1462.2,1023.5 1463.1,1025.3 1464.0,1031.1 1464.9,1034.2 1465.9,1034.1 1466.8,1035.6 1467.7,1046.6 1468.6,1065.4 1469.5,1074.9 1470.5,1079.4 1471.4,1082.0 1472.3,1082.1 1473.2,1082.3 1474.1,1082.7 1475.1,1083.1 1476.0,1084.3 1476.9,1086.0 1477.8,1086.7 1478.7,1087.2 1479.7,1088.0 1480.6,1093.8 1481.5,1102.4 1482.4,1110.3 1483.3,1117.2 1484.3,1126.6 1485.2,1127.1 1486.1,1125.3 1487.0,1124.8 1487.9,1124.7 1488.9,1126.4 1489.8,1128.0 1490.7,1128.6 1491.6,1128.5 1492.5,1119.6 1493.5,1111.9 1494.4,1108.6 1495.3,1105.3 1496.2,1105.1 1497.1,1106.3 1498.1,1107.2 1499.0,1109.5 1499.9,1114.0 1500.8,1117.1 1501.7,1117.9 1502.7,1118.8 1503.6,1120.6 1504.5,1122.5 1505.4,1120.5 1506.3,1116.6 1507.2,1115.8 1508.2,1116.0 1509.1,1115.4 1510.0,1114.9 1510.9,1115.3 1511.8,1116.0 1512.8,1118.2 1513.7,1120.5 1514.6,1125.4 1515.5,1130.6 1516.4,1131.7 1517.4,1132.8 1518.3,1135.4 1519.2,1140.4 1520.1,1145.9 1521.0,1151.0 1522.0,1154.5 1522.9,1153.9 1523.8,1152.1 1524.7,1150.0 1525.6,1148.8 1526.6,1147.2 1527.5,1144.7 1528.4,1142.1 1529.3,1141.3 1530.2,1141.5 1531.2,1141.4 1532.1,1138.3 1533.0,1132.0 1533.9,1129.4 1534.8,1129.3 1535.8,1129.5 1536.7,1130.1 1537.6,1130.7 1538.5,1131.0 1539.4,1132.2 1540.4,1134.1 1541.3,1136.0 1542.2,1138.1 1543.1,1139.6 1544.0,1139.7 1545.0,1139.9 1545.9,1140.2 1546.8,1140.5 1547.7,1141.5 1548.6,1142.5 1549.6,1142.7 1550.5,1143.0 1551.4,1141.1 1552.3,1137.1 1553.2,1129.4 1554.2,1122.7 1555.1,1122.2 1556.0,1121.8 1556.9,1122.4 1557.8,1123.1 1558.8,1122.0 1559.7,1120.4 1560.6,1119.9 1561.5,1120.6 1562.4,1119.6 1563.4,1118.6 1564.3,1118.6 1565.2,1118.7 1566.1,1116.7 1567.0,1114.6 1568.0,1114.0 1568.9,1113.3 1569.8,1111.6 1570.7,1110.0 1571.6,1109.8 1572.6,1109.5 1573.5,1108.4 1574.4,1107.2 1575.3,1105.4 1576.2,1102.9 1577.1,1099.2 1578.1,1096.5 1579.0,1095.6 1579.9,1094.7 1580.8,1094.9 1581.7,1095.6 1582.7,1094.9 1583.6,1094.2 1584.5,1093.8 1585.4,1097.6 1586.3,1103.1 1587.3,1108.6 1588.2,1109.6 1589.1,1109.4 1590.0,1109.9 1590.9,1110.3 1591.9,1100.0 1592.8,1088.9 1593.7,1083.6 1594.6,1078.5 1595.5,1078.9 1596.5,1079.3 1597.4,1079.0 1598.3,1078.7 1599.2,1078.9 1600.1,1079.2 1601.1,1077.9 1602.0,1076.5 1602.9,1076.1 1603.8,1075.6 1604.7,1075.0 1605.7,1073.6 1606.6,1071.6 1607.5,1070.2 1608.4,1067.3 1609.3,1063.0 1610.3,1059.1 1611.2,1053.7 1612.1,1052.7 1613.0,1053.5 1613.9,1053.0 1614.9,1052.5 1615.8,1052.4 1616.7,1050.4 1617.6,1047.7 1618.5,1047.2 1619.5,1047.4 1620.4,1047.7 1621.3,1047.7 1622.2,1051.2 1623.1,1053.3 1624.1,1052.7 1625.0,1054.0 1625.9,1057.0 1626.8,1064.6 1627.7,1069.8 1628.7,1069.1 1629.6,1068.4 1630.5,1066.6 1631.4,1064.9 1632.3,1064.6 1633.3,1063.7 1634.2,1063.5 1635.1,1063.3 1636.0,1062.0 1636.9,1060.8 1637.9,1059.3 1638.8,1057.9 1639.7,1055.9 1640.6,1053.8 1641.5,1054.0 1642.5,1054.4 1643.4,1054.1 1644.3,1053.9 1645.2,1060.4 1646.1,1066.3 1647.1,1064.4 1648.0,1062.5 1648.9,1060.7 1649.8,1058.8 1650.7,1056.4 1651.6,1055.9 1652.6,1055.5 1653.5,1055.0 1654.4,1055.6 1655.3,1056.1 1656.2,1055.4 1657.2,1054.7 1658.1,1054.5 1659.0,1054.5 1659.9,1054.9 1660.8,1055.2 1661.8,1055.5 1662.7,1057.2 1663.6,1059.6 1664.5,1061.9 1665.4,1062.4 1666.4,1062.4 1667.3,1062.3 1668.2,1062.2 1669.1,1062.5 1670.0,1067.4 1671.0,1073.7 1671.9,1078.0 1672.8,1075.8 1673.7,1073.6 1674.6,1071.6 1675.6,1069.5 1676.5,1068.7 1677.4,1070.4 1678.3,1071.2 1679.2,1071.9 1680.2,1074.0 1681.1,1076.1 1682.0,1076.6 1682.9,1077.0 1683.8,1076.6 1684.8,1074.5 1685.7,1072.9 1686.6,1071.4 1687.5,1069.7 1688.4,1068.0 1689.4,1062.5 1690.3,1056.5 1691.2,1051.2 1692.1,1046.0 1693.0,1042.1 1694.0,1038.2 1694.9,1033.4 1695.8,1028.6 1696.7,1024.4 1697.6,1020.3 1698.6,1018.0 1699.5,1016.3 1700.4,1017.0 1701.3,1017.7 1702.2,1017.6 1703.2,1017.5 1704.1,1017.6 1705.0,1017.8 1705.9,1018.7 1706.8,1019.5 1707.8,1018.9 1708.7,1018.4 1709.6,1018.6 1710.5,1018.9 1711.4,1019.2 1712.4,1017.7 1713.3,1014.0 1714.2,1010.3 1715.1,1008.0 1716.0,1007.1 1717.0,1004.8 1717.9,1002.4 1718.8,1002.0 1719.7,1001.6 1720.6,1001.4 1721.6,999.1 1722.5,996.6 1723.4,990.8 1724.3,956.9 1725.2,947.0 1726.1,938.7 1727.1,936.9 1728.0,935.3 1728.9,931.8 1729.8,930.0 1730.7,928.3 1731.7,927.1 1732.6,925.8 1733.5,923.4 1734.4,919.9 1735.3,912.4 1736.3,906.6 1737.2,903.5 1738.1,900.4 1739.0,901.2 1739.9,896.0 1740.9,882.2 1741.8,873.5 1742.7,869.1 1743.6,864.6 1744.5,859.4 1745.5,853.5 1746.4,847.6 1747.3,841.6 1748.2,836.8 1749.1,835.7 1750.1,835.8 1751.0,835.9 1751.9,833.7 1752.8,831.5 1753.7,816.7 1754.7,802.5 1755.6,797.1 1756.5,792.3 1757.4,791.6 1758.3,791.0 1759.3,790.7 1760.2,790.4 1761.1,788.5 1762.0,782.1 1762.9,775.9 1763.9,773.9 1764.8,773.5 1765.7,773.2 1766.6,773.5 1767.5,768.5 1768.5,758.8 1769.4,749.1 1770.3,738.9 1771.2,729.8 1772.1,722.2 1773.1,719.9 1774.0,719.8 1774.9,719.7 1775.8,719.6 1776.7,719.6 1777.7,718.5 1778.6,719.6 1779.5,718.8 1780.4,717.8 1781.3,718.9 1782.3,720.1 1783.2,720.1 1784.1,720.1 1785.0,721.7 1785.9,728.7 1786.9,733.9 1787.8,737.0 1788.7,740.6 1789.6,744.6 1790.5,751.0 1791.5,757.4 1792.4,758.1 1793.3,756.4 1794.2,755.6 1795.1,754.8 1796.1,756.2 1797.0,753.8 1797.9,746.8 1798.8,739.8 1799.7,735.2 1800.6,731.0 1801.6,726.3 1802.5,725.3 1803.4,725.2 1804.3,725.2 1805.2,724.7 1806.2,724.1 1807.1,723.3 1808.0,722.4 1808.9,722.6 1809.8,723.1 1810.8,723.0 1811.7,723.0 1812.6,722.1 1813.5,721.5 1814.4,721.4 1815.4,721.4 1816.3,728.3 1817.2,739.7 1818.1,746.9 1819.0,750.8 1820.0,753.8 1820.9,756.8 1821.8,756.7 1822.7,756.8 1823.6,758.3 1824.6,759.8 1825.5,767.0 1826.4,775.6 1827.3,783.2 1828.2,790.8 1829.2,794.3 1830.1,797.3 1831.0,801.9 1831.9,806.5 1832.8,811.9 1833.8,811.3 1834.7,807.7 1835.6,804.0 1836.5,801.9 1837.4,797.7 1838.4,793.6 1839.3,791.2 1840.2,792.1 1841.1,793.0 1842.0,796.4 1843.0,801.2 1843.9,804.4 1844.8,808.8 1845.7,814.1 1846.6,819.5 1847.6,825.9 1848.5,832.8 1849.4,835.6 1850.3,835.9 1851.2,833.9 1852.2,831.9 1853.1,828.8 1854.0,834.0 1854.9,842.1 1855.8,846.2 1856.8,850.1 1857.7,853.8 1858.6,855.4 1859.5,857.1 1860.4,859.9 1861.4,862.9 1862.3,866.2 1863.2,869.5 1864.1,872.8 1865.0,879.8 1866.0,884.7 1866.9,884.1 1867.8,885.2 1868.7,886.3 1869.6,891.0 1870.5,899.0 1871.5,903.9 1872.4,909.7 1873.3,912.7 1874.2,913.0 1875.1,915.7 1876.1,917.0 1877.0,916.1 1877.9,915.2 1878.8,913.7 1879.7,912.1 1880.7,902.1 1881.6,901.6 1882.5,903.9 1883.4,906.2 1884.3,905.0 1885.3,907.0 1886.2,910.2 1887.1,913.4 1888.0,916.5 1888.9,916.8 1889.9,916.5 1890.8,916.3 1891.7,916.4 1892.6,910.7 1893.5,903.1 1894.5,904.1 1895.4,903.9 1896.3,903.7 1897.2,906.5 1898.1,909.2 1899.1,908.7 1900.0,908.3 1900.9,908.3 1901.8,908.2 1902.7,907.7 1903.7,907.2 1904.6,918.7 1905.5,921.0 1906.4,920.9 1907.3,920.8 1908.3,920.8 1909.2,920.7 1910.1,918.2 1911.0,915.7 1911.9,914.3 1912.9,913.2 1913.8,912.6 1914.7,912.0 1915.6,912.5 1916.5,912.9 1917.5,913.9 1918.4,914.9 1919.3,914.1 1920.2,913.7 1921.1,913.6 1922.1,913.5 1923.0,912.7 1923.9,912.0 1924.8,917.9 1925.7,925.6 1926.7,930.6 1927.6,935.4 1928.5,940.0 1929.4,940.7 1930.3,941.1 1931.3,941.5 1932.2,940.6 1933.1,939.8 1934.0,936.9 1934.9,933.9 1935.9,929.2 1936.8,923.2 1937.7,918.0 1938.6,913.8 1939.5,909.1 1940.5,905.0 1941.4,903.7 1942.3,902.4 1943.2,900.3 1944.1,897.5 1945.0,892.9 1946.0,888.4 1946.9,884.8 1947.8,881.4 1948.7,877.8 1949.6,874.2 1950.6,876.9 1951.5,882.4 1952.4,885.4 1953.3,890.3 1954.2,898.2 1955.2,899.7 1956.1,898.9 1957.0,898.2 1957.9,887.5 1958.8,876.0 1959.8,854.4 1960.7,847.4 1961.6,839.7 1962.5,831.8 1963.4,823.7 1964.4,815.6 1965.3,805.2 1966.2,794.7 1967.1,788.2 1968.0,787.8 1969.0,787.6 1969.9,787.5 1970.8,790.0 1971.7,794.4 1972.6,797.1 1973.6,801.2 1974.5,805.7 1975.4,806.0 1976.3,803.9 1977.2,801.8 1978.2,801.2 1979.1,800.6 1980.0,800.4 1980.9,800.4 1981.8,800.3 1982.8,800.1 1983.7,807.6 1984.6,815.8 1985.5,815.8 1986.4,815.7 1987.4,812.1 1988.3,808.6 1989.2,807.2 1990.1,806.5 1991.0,805.8 1992.0,805.1 1992.9,806.2 1993.8,810.0 1994.7,813.1 1995.6,810.5 1996.6,797.1 1997.5,788.8 1998.4,789.3 1999.3,789.9 2000.2,793.2 2001.2,798.7 2002.1,804.7 2003.0,810.7 2003.9,812.1 2004.8,812.1 2005.8,809.7 2006.7,807.3 2007.6,801.4 2008.5,794.4 2009.4,787.4 2010.4,781.4 2011.3,776.8 2012.2,777.5 2013.1,776.4 2014.0,775.3 2015.0,773.8 2015.9,772.4 2016.8,772.5 2017.7,772.6 2018.6,772.8 2019.5,773.1 2020.5,772.0 2021.4,771.2 2022.3,770.9 2023.2,770.5 2024.1,771.1 2025.1,771.6 2026.0,775.7 2026.9,782.0 2027.8,789.1 2028.7,791.9 2029.7,789.2 2030.6,786.5 2031.5,787.1 2032.4,787.6 2033.3,786.4 2034.3,785.3 2035.2,785.1 2036.1,802.2 2037.0,803.7 2037.9,804.7 2038.9,804.0 2039.8,804.3 2040.7,812.9 2041.6,821.6 2042.5,826.7 2043.5,825.9 2044.4,827.4 2045.3,828.9 2046.2,827.9 2047.1,824.7 2048.1,821.0 2049.0,821.7 2049.9,829.6 2050.8,838.6 2051.7,845.9 2052.7,853.2 2053.6,856.3 2054.5,856.0"/>
<polyline stroke="#00ff00" points="215.0,1504.7 215.9,1504.6 216.8,1504.6 217.8,1504.6 218.7,1504.6 219.6,1504.6 220.5,1504.6 221.4,1504.5 222.4,1504.5 223.3,1504.5 224.2,1504.5 225.1,1504.5 226.0,1504.4 227.0,1504.4 227.9,1504.4 228.8,1504.4 229.7,1504.4 230.6,1504.4 231.6,1504.3 232.5,1504.3 233.4,1504.3 234.3,1504.3 235.2,1504.3 236.2,1504.2 237.1,1504.2 238.0,1504.2 238.9,1504.2 239.8,1504.2 240.8,1504.2 241.7,1504.1 242.6,1504.1 243.5,1504.1 244.4,1504.1 245.4,1504.1 246.3,1504.0 247.2,1504.0 248.1,1504.0 249.0,1504.0 250.0,1504.0 250.9,1504.0 251.8,1503.9 252.7,1503.9 253.6,1503.9 254.5,1503.9 255.5,1503.9 256.4,1503.9 257.3,1503.8 258.2,1503.8 259.1,1503.8 260.1,1503.8 261.0,1503.8 261.9,1503.7 262.8,1503.7 263.7,1503.7 264.7,1503.7 265.6,1503.7 266.5,1503.7 267.4,1503.6 268.3,1503.6 269.3,1503.6 270.2,1503.6 271.1,1503.6 272.0,1503.6 272.9,1503.5 273.9,1503.5 274.8,1503.5 275.7,1503.5 276.6,1503.5 277.5,1503.4 278.5,1503.4 279.4,1503.4 280.3,1503.4 281.2,1503.4 282.1,1503.3 283.1,1503.3 284.0,1503.3 284.9,1503.3 285.8,1503.3 286.7,1503.3 287.7,1503.2 288.6,1503.2 289.5,1503.2 290.4,1503.2 291.3,1503.2 292.3,1503.2 293.2,1503.1 294.1,1503.1 295.0,1503.1 295.9,1503.1 296.9,1503.1 297.8,1503.0 298.7,1503.0 299.6,1503.0 300.5,1503.0 301.5,1503.0 302.4,1503.0 303.3,1502.9 304.2,1502.9 305.1,1502.9 306.1,1502.9 307.0,1502.8 307.9,1502.5 308.8,1502.2 309.7,1501.9 310.7,1501.6 311.6,1501.4 312.5,1501.1 313.4,1500.8 314.3,1500.5 315.3,1500.3 316.2,1499.7 317.1,1499.1 318.0,1498.4 318.9,1497.8 319.9,1497.1 320.8,1496.5 321.7,1495.8 322.6,1495.2 323.5,1494.6 324.5,1493.9 325.4,1493.4 326.3,1492.8 327.2,1492.3 328.1,1491.8 329.0,1491.3 330.0,1490.7 330.9,1490.2 331.8,1489.7 332.7,1489.1 333.6,1488.6 334.6,1488.0 335.5,1487.5 336.4,1487.0 337.3,1486.4 338.2,1485.9 339.2,1485.3 340.1,1484.7 341.0,1484.2 341.9,1483.6 342.8,1483.1 343.8,1482.6 344.7,1482.1 345.6,1481.6 346.5,1481.0 347.4,1480.4 348.4,1479.8 349.3,1479.1 350.2,1478.6 351.1,1478.1 352.0,1477.4 353.0,1476.7 353.9,1476.0 354.8,1475.3 355.7,1474.7 356.6,1474.3 357.6,1474.0 358.5,1473.8 359.4,1473.5 360.3,1473.2 361.2,1472.8 362.2,1472.4 363.1,1472.2 364.0,1471.9 364.9,1471.6 365.8,1471.3 366.8,1471.0 367.7,1470.7 368.6,1470.4 369.5,1470.1 370.4,1469.7 371.4,1469.4 372.3,1469.1 373.2,1468.9 374.1,1468.6 375.0,1468.2 376.0,1467.9 376.9,1467.6 377.8,1467.3 378.7,1467.0 379.6,1466.9 380.6,1466.7 381.5,1466.5 382.4,1466.2 383.3,1465.9 384.2,1465.7 385.2,1465.4 386.1,1465.1 387.0,1464.9 387.9,1464.6 388.8,1464.2 389.8,1463.7 390.7,1463.0 391.6,1462.4 392.5,1461.6 393.4,1460.9 394.4,1460.2 395.3,1459.5 396.2,1459.2 397.1,1458.9 398.0,1458.5 398.9,1458.1 399.9,1457.6 400.8,1457.1 401.7,1456.8 402.6,1456.5 403.5,1456.0 404.5,1455.6 405.4,1455.4 406.3,1455.2 407.2,1455.0 408.1,1454.8 409.1,1454.4 410.0,1454.3 410.9,1454.5 411.8,1454.8 412.7,1455.0 413.7,1455.3 414.6,1455.5 415.5,1455.8 416.4,1456.1 417.3,1456.3 418.3,1456.6 419.2,1456.6 420.1,1456.7 421.0,1456.8 421.9,1457.0 422.9,1457.2 423.8,1457.2 424.7,1457.3 425.6,1457.3 426.5,1457.4 427.5,1457.3 428.4,1457.2 429.3,1457.3 430.2,1457.5 431.1,1457.5 432.1,1457.4 433.0,1457.3 433.9,1457.2 434.8,1457.0 435.7,1456.9 436.7,1456.6 437.6,1456.3 438.5,1456.4 439.4,1456.6 440.3,1456.9 441.3,1457.3 442.2,1457.5 443.1,1457.8 444.0,1458.0 444.9,1458.2 445.9,1458.6 446.8,1458.9 447.7,1459.2 448.6,1459.5 449.5,1459.4 450.5,1459.2 451.4,1459.1 452.3,1459.0 453.2,1459.0 454.1,1458.9 455.1,1458.9 456.0,1458.9 456.9,1458.8 457.8,1458.8 458.7,1459.0 459.7,1459.1 460.6,1459.1 461.5,1459.1 462.4,1459.1 463.3,1459.1 464.3,1459.1 465.2,1459.1 466.1,1459.3 467.0,1459.4 467.9,1459.3 468.9,1459.3 469.8,1459.2 470.7,1459.0 471.6,1458.9 472.5,1458.8 473.4,1458.8 474.4,1458.8 475.3,1458.7 476.2,1458.5 477.1,1458.4 478.0,1458.2 479.0,1458.1 479.9,1458.0 480.8,1457.9 481.7,1457.8 482.6,1457.8 483.6,1457.7 484.5,1457.4 485.4,1456.4 486.3,1455.3 487.2,1454.2 488.2,1453.1 489.1,1452.0 490.0,1450.9 490.9,1449.8 491.8,1449.3 492.8,1449.1 493.7,1448.8 494.6,1448.6 495.5,1448.3 496.4,1447.9 497.4,1447.6 498.3,1447.3 499.2,1447.0 500.1,1446.7 501.0,1446.5 502.0,1446.3 502.9,1445.8 503.8,1445.4 504.7,1444.8 505.6,1444.2 506.6,1443.7 507.5,1443.2 508.4,1442.7 509.3,1442.1 510.2,1441.8 511.2,1441.4 512.1,1440.9 513.0,1440.4 513.9,1440.0 514.8,1439.6 515.8,1439.1 516.7,1438.5 517.6,1438.1 518.5,1437.7 519.4,1437.3 520.4,1436.7 521.3,1436.2 522.2,1435.6 523.1,1434.9 524.0,1434.1 525.0,1433.4 525.9,1432.7 526.8,1432.0 527.7,1431.3 528.6,1430.8 529.6,1429.2 530.5,1427.5 531.4,1425.8 532.3,1424.3 533.2,1422.8 534.2,1420.8 535.1,1418.4 536.0,1416.3 536.9,1414.1 537.8,1411.9 538.8,1409.6 539.7,1406.3 540.6,1401.7 541.5,1397.3 542.4,1393.0 543.4,1389.1 544.3,1385.6 545.2,1381.9 546.1,1378.1 547.0,1368.7 547.9,1357.2 548.9,1340.3 549.8,1335.0 550.7,1332.1 551.6,1329.2 552.5,1326.1 553.5,1323.0 554.4,1321.1 555.3,1319.3 556.2,1317.5 557.1,1315.8 558.1,1313.7 559.0,1311.7 559.9,1309.5 560.8,1307.0 561.7,1304.1 562.7,1301.1 563.6,1297.6 564.5,1294.2 565.4,1291.4 566.3,1288.8 567.3,1286.0 568.2,1283.3 569.1,1280.1 570.0,1277.0 570.9,1273.7 571.9,1270.5 572.8,1268.4 573.7,1266.3 574.6,1263.7 575.5,1261.1 576.5,1257.7 577.4,1252.5 578.3,1247.8 579.2,1243.2 580.1,1239.1 581.1,1237.5 582.0,1236.1 582.9,1234.7 583.8,1233.4 584.7,1232.0 585.7,1228.7 586.6,1225.4 587.5,1221.6 588.4,1217.9 589.3,1214.3 590.3,1210.7 591.2,1207.0 592.1,1203.5 593.0,1201.0 593.9,1199.2 594.9,1198.2 595.8,1197.6 596.7,1196.7 597.6,1195.8 598.5,1194.7 599.5,1193.7 600.4,1192.4 601.3,1190.8 602.2,1189.1 603.1,1187.4 604.1,1186.3 605.0,1185.3 605.9,1183.4 606.8,1178.6 607.7,1174.4 608.7,1170.2 609.6,1168.4 610.5,1166.7 611.4,1164.6 612.3,1162.5 613.3,1160.3 614.2,1158.1 615.1,1155.5 616.0,1152.9 616.9,1152.3 617.9,1151.6 618.8,1148.3 619.7,1142.1 620.6,1135.6 621.5,1130.9 622.4,1129.1 623.4,1127.3 624.3,1125.2 625.2,1121.6 626.1,1122.4 627.0,1123.2 628.0,1123.0 628.9,1122.8 629.8,1122.7 630.7,1122.5 631.6,1124.4 632.6,1126.5 633.5,1128.7 634.4,1130.8 635.3,1132.7 636.2,1134.6 637.2,1136.5 638.1,1138.4 639.0,1139.5 639.9,1143.5 640.8,1160.0 641.8,1158.9 642.7,1157.2 643.6,1155.5 644.5,1153.9 645.4,1152.3 646.4,1151.1 647.3,1149.9 648.2,1148.8 649.1,1148.5 650.0,1149.5 651.0,1150.5 651.9,1151.3 652.8,1152.1 653.7,1152.8 654.6,1153.6 655.6,1153.8 656.5,1153.5 657.4,1153.8 658.3,1154.1 659.2,1153.9 660.2,1153.7 661.1,1153.7 662.0,1151.7 662.9,1150.2 663.8,1148.6 664.8,1147.2 665.7,1148.8 666.6,1149.4 667.5,1150.1 668.4,1150.7 669.4,1151.2 670.3,1153.4 671.2,1156.6 672.1,1159.6 673.0,1162.5 674.0,1165.5 674.9,1165.6 675.8,1162.6 676.7,1159.6 677.6,1155.9 678.6,1152.1 679.5,1150.0 680.4,1148.4 681.3,1146.5 682.2,1144.6 683.2,1142.4 684.1,1140.3 685.0,1141.6 685.9,1143.4 686.8,1144.9 687.8,1146.4 688.7,1145.8 689.6,1145.2 690.5,1144.0 691.4,1142.9 692.4,1142.4 693.3,1142.0 694.2,1141.2 695.1,1140.4 696.0,1139.5 696.9,1138.5 697.9,1137.3 698.8,1136.2 699.7,1135.5 700.6,1135.8 701.5,1136.0 702.5,1136.3 703.4,1136.8 704.3,1137.3 705.2,1137.3 706.1,1137.4 707.1,1137.8 708.0,1138.3 708.9,1139.4 709.8,1140.4 710.7,1141.4 711.7,1142.5 712.6,1143.3 713.5,1144.2 714.4,1145.6 715.3,1148.2 716.3,1153.2 717.2,1156.4 718.1,1157.1 719.0,1157.8 719.9,1158.3 720.9,1158.7 721.8,1158.8 722.7,1158.9 723.6,1159.7 724.5,1160.5 725.5,1161.1 726.4,1161.6 727.3,1162.4 728.2,1163.2 729.1,1163.1 730.1,1162.7 731.0,1162.5 731.9,1162.2 732.8,1160.9 733.7,1159.6 734.7,1159.3 735.6,1159.2 736.5,1158.9 737.4,1158.6 738.3,1159.5 739.3,1160.5 740.2,1160.3 741.1,1160.1 742.0,1160.3 742.9,1160.5 743.9,1160.9 744.8,1161.3 745.7,1162.7 746.6,1164.0 747.5,1163.1 748.5,1162.2 749.4,1162.7 750.3,1163.2 751.2,1163.7 752.1,1163.7 753.1,1163.0 754.0,1162.4 754.9,1161.5 755.8,1160.7 756.7,1159.9 757.7,1159.1 758.6,1158.5 759.5,1158.3 760.4,1158.7 761.3,1159.2 762.3,1158.4 763.2,1157.7 764.1,1156.8 765.0,1149.7 765.9,1143.5 766.9,1141.9 767.8,1140.2 768.7,1138.5 769.6,1136.4 770.5,1134.4 771.4,1133.1 772.4,1132.2 773.3,1131.2 774.2,1130.3 775.1,1129.2 776.0,1128.1 777.0,1128.0 777.9,1128.0 778.8,1127.6 779.7,1127.1 780.6,1126.8 781.6,1126.5 782.5,1126.4 783.4,1126.2 784.3,1125.3 785.2,1124.2 786.2,1123.4 787.1,1122.5 788.0,1120.8 788.9,1119.0 789.8,1117.3 790.8,1115.8 791.7,1117.2 792.6,1118.6 793.5,1119.0 794.4,1119.4 795.4,1120.3 796.3,1121.3 797.2,1121.3 798.1,1121.3 799.0,1121.7 800.0,1121.9 800.9,1121.3 801.8,1120.7 802.7,1120.4 803.6,1120.0 804.6,1119.3 805.5,1118.6 806.4,1118.3 807.3,1115.2 808.2,1112.4 809.2,1109.7 810.1,1106.1 811.0,1101.4 811.9,1096.5 812.8,1091.7 813.8,1087.8 814.7,1084.0 815.6,1080.7 816.5,1078.3 817.4,1078.1 818.4,1077.9 819.3,1078.8 820.2,1079.7 821.1,1079.8 822.0,1079.9 823.0,1081.6 823.9,1084.2 824.8,1085.4 825.7,1086.7 826.6,1089.5 827.6,1090.3 828.5,1088.9 829.4,1087.5 830.3,1087.0 831.2,1086.5 832.2,1086.4 833.1,1086.8 834.0,1086.6 834.9,1086.5 835.8,1085.7 836.8,1084.6 837.7,1083.2 838.6,1081.8 839.5,1079.8 840.4,1077.9 841.3,1075.9 842.3,1073.9 843.2,1072.8 844.1,1072.4 845.0,1073.1 845.9,1073.8 846.9,1075.0 847.8,1076.2 848.7,1075.0 849.6,1071.7 850.5,1069.0 851.5,1066.3 852.4,1064.2 853.3,1062.3 854.2,1060.1 855.1,1057.8 856.1,1054.6 857.0,1056.9 857.9,1062.6 858.8,1068.4 859.7,1073.8 860.7,1075.9 861.6,1076.8 862.5,1077.8 863.4,1078.6 864.3,1079.4 865.3,1080.4 866.2,1081.1 867.1,1082.9 868.0,1084.8 868.9,1084.8 869.9,1089.2 870.8,1102.4 871.7,1103.5 872.6,1104.5 873.5,1105.4 874.5,1106.5 875.4,1107.5 876.3,1108.6 877.2,1109.7 878.1,1111.1 879.1,1112.4 880.0,1113.3 880.9,1114.2 881.8,1115.6 882.7,1117.7 883.7,1121.2 884.6,1124.7 885.5,1124.7 886.4,1123.8 887.3,1121.6 888.3,1119.4 889.2,1117.1 890.1,1114.9 891.0,1112.9 891.9,1110.8 892.9,1108.5 893.8,1106.7 894.7,1108.7 895.6,1110.7 896.5,1112.2 897.5,1115.5 898.4,1121.9 899.3,1123.6 900.2,1133.3 901.1,1136.2 902.1,1138.4 903.0,1140.5 903.9,1142.8 904.8,1145.1 905.7,1147.3 906.7,1149.4 907.6,1151.3 908.5,1155.1 909.4,1158.6 910.3,1158.9 911.3,1157.8 912.2,1156.8 913.1,1155.9 914.0,1153.8 914.9,1151.7 915.8,1151.0 916.8,1152.2 917.7,1153.4 918.6,1153.4 919.5,1155.1 920.4,1158.7 921.4,1160.1 922.3,1160.7 923.2,1161.4 924.1,1161.7 925.0,1162.0 926.0,1162.4 926.9,1162.7 927.8,1162.6 928.7,1162.6 929.6,1162.2 930.6,1162.0 931.5,1165.3 932.4,1168.5 933.3,1171.1 934.2,1172.5 935.2,1173.7 936.1,1175.0 937.0,1175.8 937.9,1176.6 938.8,1177.6 939.8,1178.6 940.7,1179.8 941.6,1184.9 942.5,1189.9 943.4,1189.7 944.4,1189.0 945.3,1188.3 946.2,1188.2 947.1,1185.9 948.0,1181.5 949.0,1179.7 949.9,1179.0 950.8,1178.4 951.7,1177.4 952.6,1176.4 953.6,1179.9 954.5,1183.8 955.4,1187.7 956.3,1188.0 957.2,1188.4 958.2,1188.8 959.1,1188.0 960.0,1184.4 960.9,1171.5 961.8,1165.8 962.8,1160.6 963.7,1157.5 964.6,1155.3 965.5,1153.2 966.4,1150.0 967.4,1146.9 968.3,1143.6 969.2,1142.0 970.1,1141.1 971.0,1140.2 972.0,1140.2 972.9,1140.2 973.8,1139.6 974.7,1138.9 975.6,1139.2 976.6,1139.5 977.5,1139.5 978.4,1141.7 979.3,1143.4 980.2,1145.1 981.2,1147.1 982.1,1139.9 983.0,1132.9 983.9,1133.0 984.8,1132.7 985.8,1132.3 986.7,1132.2 987.6,1132.0 988.5,1133.1 989.4,1133.4 990.3,1131.3 991.3,1130.0 992.2,1129.9 993.1,1129.8 994.0,1129.5 994.9,1129.1 995.9,1129.5 996.8,1129.9 997.7,1130.4 998.6,1129.7 999.5,1128.0 1000.5,1123.7 1001.4,1118.6 1002.3,1114.6 1003.2,1110.2 1004.1,1105.9 1005.1,1092.6 1006.0,1085.3 1006.9,1085.1 1007.8,1084.8 1008.7,1086.3 1009.7,1087.8 1010.6,1088.6 1011.5,1087.1 1012.4,1085.1 1013.3,1084.4 1014.3,1084.0 1015.2,1083.5 1016.1,1082.2 1017.0,1078.2 1017.9,1075.7 1018.9,1076.4 1019.8,1076.9 1020.7,1077.4 1021.6,1077.8 1022.5,1078.2 1023.5,1077.9 1024.4,1076.7 1025.3,1074.0 1026.2,1070.9 1027.1,1069.5 1028.1,1068.7 1029.0,1068.0 1029.9,1067.2 1030.8,1066.9 1031.7,1066.7 1032.7,1067.4 1033.6,1068.1 1034.5,1068.4 1035.4,1069.3 1036.3,1076.5 1037.3,1092.7 1038.2,1093.5 1039.1,1094.3 1040.0,1094.6 1040.9,1094.0 1041.9,1092.2 1042.8,1090.5 1043.7,1088.2 1044.6,1089.2 1045.5,1095.4 1046.5,1099.7 1047.4,1101.5 1048.3,1102.3 1049.2,1103.0 1050.1,1103.7 1051.1,1103.3 1052.0,1111.2 1052.9,1122.0 1053.8,1128.2 1054.7,1134.5 1055.7,1140.6 1056.6,1146.4 1057.5,1150.5 1058.4,1154.4 1059.3,1158.3 1060.3,1160.2 1061.2,1157.7 1062.1,1156.6 1063.0,1155.6 1063.9,1154.4 1064.8,1153.3 1065.8,1152.6 1066.7,1153.5 1067.6,1154.2 1068.5,1154.9 1069.4,1156.0 1070.4,1157.0 1071.3,1159.5 1072.2,1162.8 1073.1,1165.6 1074.0,1168.5 1075.0,1170.8 1075.9,1173.5 1076.8,1176.9 1077.7,1180.3 1078.6,1180.2 1079.6,1179.0 1080.5,1178.2 1081.4,1177.4 1082.3,1176.0 1083.2,1174.5 1084.2,1172.9 1085.1,1171.3 1086.0,1171.3 1086.9,1171.2 1087.8,1170.4 1088.8,1170.0 1089.7,1171.5 1090.6,1172.9 1091.5,1174.3 1092.4,1175.9 1093.4,1177.4 1094.3,1179.0 1095.2,1180.8 1096.1,1183.7 1097.0,1187.5 1098.0,1192.0 1098.9,1198.0 1099.8,1202.6 1100.7,1206.4 1101.6,1205.7 1102.6,1202.3 1103.5,1200.4 1104.4,1199.1 1105.3,1197.9 1106.2,1196.1 1107.2,1196.0 1108.1,1196.6 1109.0,1197.2 1109.9,1197.9 1110.8,1198.7 1111.8,1201.6 1112.7,1204.5 1113.6,1206.8 1114.5,1206.4 1115.4,1207.1 1116.4,1207.7 1117.3,1206.0 1118.2,1199.9 1119.1,1194.1 1120.0,1188.6 1121.0,1183.4 1121.9,1179.9 1122.8,1177.3 1123.7,1174.7 1124.6,1168.3 1125.6,1159.3 1126.5,1156.4 1127.4,1156.4 1128.3,1155.8 1129.2,1155.2 1130.2,1154.0 1131.1,1152.7 1132.0,1152.0 1132.9,1151.3 1133.8,1150.3 1134.8,1149.4 1135.7,1150.1 1136.6,1150.7 1137.5,1150.2 1138.4,1149.6 1139.3,1149.0 1140.3,1147.6 1141.2,1144.7 1142.1,1141.7 1143.0,1139.7 1143.9,1141.0 1144.9,1141.3 1145.8,1141.7 1146.7,1143.6 1147.6,1144.9 1148.5,1144.4 1149.5,1144.0 1150.4,1143.8 1151.3,1143.4 1152.2,1142.4 1153.1,1141.5 1154.1,1141.3 1155.0,1141.1 1155.9,1140.3 1156.8,1138.1 1157.7,1135.4 1158.7,1128.8 1159.6,1125.1 1160.5,1121.4 1161.4,1116.1 1162.3,1110.0 1163.3,1102.1 1164.2,1099.7 1165.1,1099.4 1166.0,1099.1 1166.9,1099.3 1167.9,1099.5 1168.8,1099.3 1169.7,1099.1 1170.6,1100.7 1171.5,1102.4 1172.5,1103.1 1173.4,1104.1 1174.3,1106.8 1175.2,1109.0 1176.1,1108.4 1177.1,1107.8 1178.0,1108.0 1178.9,1108.2 1179.8,1110.0 1180.7,1115.2 1181.7,1117.9 1182.6,1117.1 1183.5,1116.0 1184.4,1115.0 1185.3,1114.3 1186.3,1113.6 1187.2,1113.2 1188.1,1112.8 1189.0,1112.6 1189.9,1112.4 1190.9,1111.8 1191.8,1112.0 1192.7,1111.6 1193.6,1111.2 1194.5,1112.1 1195.5,1113.0 1196.4,1113.2 1197.3,1113.6 1198.2,1122.3 1199.1,1122.2 1200.1,1123.0 1201.0,1123.8 1201.9,1123.6 1202.8,1123.5 1203.7,1125.0 1204.7,1126.6 1205.6,1127.5 1206.5,1129.4 1207.4,1132.2 1208.3,1133.2 1209.2,1132.3 1210.2,1131.4 1211.1,1135.6 1212.0,1144.0 1212.9,1157.3 1213.8,1159.2 1214.8,1162.3 1215.7,1166.4 1216.6,1170.4 1217.5,1180.1 1218.4,1182.7 1219.4,1183.3 1220.3,1183.8 1221.2,1184.3 1222.1,1184.2 1223.0,1184.0 1224.0,1180.9 1224.9,1178.1 1225.8,1178.1 1226.7,1178.0 1227.6,1177.7 1228.6,1177.2 1229.5,1178.0 1230.4,1178.8 1231.3,1179.3 1232.2,1179.8 1233.2,1179.8 1234.1,1177.4 1235.0,1170.5 1235.9,1166.3 1236.8,1166.2 1237.8,1166.2 1238.7,1166.2 1239.6,1166.3 1240.5,1165.8 1241.4,1165.4 1242.4,1163.9 1243.3,1162.5 1244.2,1162.5 1245.1,1162.8 1246.0,1163.2 1247.0,1163.5 1247.9,1163.6 1248.8,1163.8 1249.7,1168.2 1250.6,1172.5 1251.6,1175.7 1252.5,1178.4 1253.4,1181.0 1254.3,1183.6 1255.2,1188.8 1256.2,1200.7 1257.1,1202.8 1258.0,1201.7 1258.9,1200.3 1259.8,1198.9 1260.8,1198.0 1261.7,1196.1 1262.6,1195.1 1263.5,1195.6 1264.4,1195.2 1265.4,1194.8 1266.3,1195.3 1267.2,1190.0 1268.1,1182.2 1269.0,1180.4 1270.0,1180.5 1270.9,1180.6 1271.8,1180.5 1272.7,1179.1 1273.6,1177.8 1274.6,1176.5 1275.5,1176.5 1276.4,1176.5 1277.3,1176.8 1278.2,1181.5 1279.2,1186.1 1280.1,1186.9 1281.0,1187.3 1281.9,1187.2 1282.8,1185.1 1283.7,1183.0 1284.7,1180.7 1285.6,1176.8 1286.5,1174.4 1287.4,1173.5 1288.3,1172.9 1289.3,1171.2 1290.2,1169.0 1291.1,1166.8 1292.0,1163.1 1292.9,1159.5 1293.9,1156.6 1294.8,1155.5 1295.7,1154.1 1296.6,1152.7 1297.5,1152.0 1298.5,1151.8 1299.4,1151.9 1300.3,1152.0 1301.2,1152.3 1302.1,1152.7 1303.1,1151.8 1304.0,1146.3 1304.9,1142.0 1305.8,1141.9 1306.7,1141.5 1307.7,1141.7 1308.6,1142.9 1309.5,1144.0 1310.4,1144.5 1311.3,1146.7 1312.3,1150.7 1313.2,1157.5 1314.1,1162.0 1315.0,1161.9 1315.9,1161.8 1316.9,1161.7 1317.8,1160.6 1318.7,1159.3 1319.6,1157.9 1320.5,1156.4 1321.5,1157.0 1322.4,1158.0 1323.3,1158.9 1324.2,1159.8 1325.1,1163.1 1326.1,1166.5 1327.0,1169.3 1327.9,1172.3 1328.8,1175.2 1329.7,1175.2 1330.7,1175.9 1331.6,1176.6 1332.5,1176.7 1333.4,1176.9 1334.3,1177.1 1335.3,1177.2 1336.2,1177.6 1337.1,1177.9 1338.0,1179.0 1338.9,1179.7 1339.9,1176.7 1340.8,1173.8 1341.7,1169.1 1342.6,1163.3 1343.5,1157.5 1344.5,1151.7 1345.4,1146.1 1346.3,1140.8 1347.2,1140.2 1348.1,1140.4 1349.1,1140.2 1350.0,1141.3 1350.9,1142.8 1351.8,1144.4 1352.7,1145.3 1353.7,1147.0 1354.6,1148.5 1355.5,1150.1 1356.4,1152.9 1357.3,1155.7 1358.2,1158.0 1359.2,1159.3 1360.1,1161.5 1361.0,1163.8 1361.9,1164.7 1362.8,1164.9 1363.8,1165.8 1364.7,1166.7 1365.6,1165.7 1366.5,1164.6 1367.4,1163.9 1368.4,1162.9 1369.3,1163.2 1370.2,1163.5 1371.1,1164.5 1372.0,1165.5 1373.0,1159.6 1373.9,1152.7 1374.8,1147.3 1375.7,1142.3 1376.6,1136.8 1377.6,1136.4 1378.5,1137.4 1379.4,1138.3 1380.3,1138.6 1381.2,1140.7 1382.2,1143.4 1383.1,1146.0 1384.0,1146.3 1384.9,1141.9 1385.8,1138.6 1386.8,1136.1 1387.7,1130.2 1388.6,1120.6 1389.5,1116.3 1390.4,1116.5 1391.4,1115.5 1392.3,1114.5 1393.2,1114.1 1394.1,1113.7 1395.0,1115.1 1396.0,1117.5 1396.9,1121.1 1397.8,1124.6 1398.7,1125.2 1399.6,1125.1 1400.6,1123.4 1401.5,1121.8 1402.4,1121.3 1403.3,1117.6 1404.2,1113.7 1405.2,1110.7 1406.1,1108.3 1407.0,1108.9 1407.9,1109.6 1408.8,1110.4 1409.8,1110.7 1410.7,1111.1 1411.6,1112.2 1412.5,1113.4 1413.4,1114.1 1414.4,1114.3 1415.3,1113.6 1416.2,1112.8 1417.1,1113.0 1418.0,1113.2 1419.0,1112.3 1419.9,1111.1 1420.8,1109.9 1421.7,1108.7 1422.6,1103.4 1423.6,1097.0 1424.5,1092.2 1425.4,1087.8 1426.3,1085.0 1427.2,1082.2 1428.2,1078.8 1429.1,1077.6 1430.0,1076.2 1430.9,1075.0 1431.8,1075.4 1432.7,1075.8 1433.7,1076.8 1434.6,1080.6 1435.5,1093.0 1436.4,1099.0 1437.3,1105.7 1438.3,1110.7 1439.2,1108.7 1440.1,1106.8 1441.0,1104.3 1441.9,1103.3 1442.9,1104.0 1443.8,1104.8 1444.7,1105.0 1445.6,1103.1 1446.5,1100.5 1447.5,1097.9 1448.4,1094.9 1449.3,1094.0 1450.2,1094.1 1451.1,1094.3 1452.1,1094.1 1453.0,1093.8 1453.9,1094.0 1454.8,1102.4 1455.7,1102.0 1456.7,1101.5 1457.6,1100.7 1458.5,1096.1 1459.4,1092.5 1460.3,1092.4 1461.3,1092.2 1462.2,1092.1 1463.1,1093.6 1464.0,1098.6 1464.9,1101.3 1465.9,1101.1 1466.8,1102.4 1467.7,1111.9 1468.6,1128.0 1469.5,1136.2 1470.5,1140.0 1471.4,1142.3 1472.3,1142.4 1473.2,1142.5 1474.1,1142.8 1475.1,1143.2 1476.0,1144.3 1476.9,1145.7 1477.8,1146.3 1478.7,1146.7 1479.7,1147.4 1480.6,1152.4 1481.5,1159.8 1482.4,1166.6 1483.3,1172.5 1484.3,1180.5 1485.2,1180.9 1486.1,1179.4 1487.0,1179.0 1487.9,1178.9 1488.9,1180.3 1489.8,1181.7 1490.7,1182.2 1491.6,1182.1 1492.5,1174.5 1493.5,1167.9 1494.4,1165.1 1495.3,1162.2 1496.2,1162.1 1497.1,1163.1 1498.1,1163.8 1499.0,1165.8 1499.9,1169.7 1500.8,1172.4 1501.7,1173.1 1502.7,1173.8 1503.6,1175.4 1504.5,1177.0 1505.4,1175.3 1506.3,1172.0 1507.2,1171.3 1508.2,1171.4 1509.1,1170.9 1510.0,1170.5 1510.9,1170.8 1511.8,1171.4 1512.8,1173.3 1513.7,1175.3 1514.6,1179.5 1515.5,1183.9 1516.4,1184.9 1517.4,1185.9 1518.3,1188.1 1519.2,1192.4 1520.1,1197.0 1521.0,1201.5 1522.0,1204.5 1522.9,1203.9 1523.8,1202.4 1524.7,1200.6 1525.6,1199.6 1526.6,1198.2 1527.5,1196.0 1528.4,1193.8 1529.3,1193.1 1530.2,1193.3 1531.2,1193.2 1532.1,1190.5 1533.0,1185.2 1533.9,1182.9 1534.8,1182.8 1535.8,1183.0 1536.7,1183.5 1537.6,1184.0 1538.5,1184.3 1539.4,1185.3 1540.4,1186.9 1541.3,1188.6 1542.2,1190.4 1543.1,1191.7 1544.0,1191.8 1545.0,1191.9 1545.9,1192.2 1546.8,1192.5 1547.7,1193.3 1548.6,1194.2 1549.6,1194.4 1550.5,1194.5 1551.4,1193.0 1552.3,1189.5 1553.2,1183.0 1554.2,1177.1 1555.1,1176.7 1556.0,1176.4 1556.9,1176.9 1557.8,1177.5 1558.8,1176.5 1559.7,1175.2 1560.6,1174.8 1561.5,1175.3 1562.4,1174.5 1563.4,1173.7 1564.3,1173.7 1565.2,1173.7 1566.1,1172.0 1567.0,1170.2 1568.0,1169.7 1568.9,1169.1 1569.8,1167.7 1570.7,1166.3 1571.6,1166.1 1572.6,1165.9 1573.5,1164.9 1574.4,1163.9 1575.3,1162.3 1576.2,1160.1 1577.1,1157.0 1578.1,1154.7 1579.0,1153.9 1579.9,1153.2 1580.8,1153.4 1581.7,1153.9 1582.7,1153.3 1583.6,1152.7 1584.5,1152.4 1585.4,1155.6 1586.3,1160.4 1587.3,1165.1 1588.2,1166.0 1589.1,1165.7 1590.0,1166.1 1590.9,1166.6 1591.9,1157.7 1592.8,1148.2 1593.7,1143.6 1594.6,1139.2 1595.5,1139.6 1596.5,1139.9 1597.4,1139.7 1598.3,1139.4 1599.2,1139.6 1600.1,1139.9 1601.1,1138.7 1602.0,1137.6 1602.9,1137.2 1603.8,1136.8 1604.7,1136.3 1605.7,1135.0 1606.6,1133.4 1607.5,1132.1 1608.4,1129.7 1609.3,1126.0 1610.3,1122.6 1611.2,1118.0 1612.1,1117.1 1613.0,1117.8 1613.9,1117.4 1614.9,1117.0 1615.8,1116.9 1616.7,1115.2 1617.6,1112.8 1618.5,1112.4 1619.5,1112.6 1620.4,1112.8 1621.3,1112.8 1622.2,1115.8 1623.1,1117.6 1624.1,1117.1 1625.0,1118.2 1625.9,1120.8 1626.8,1127.3 1627.7,1131.8 1628.7,1131.2 1629.6,1130.6 1630.5,1129.1 1631.4,1127.6 1632.3,1127.3 1633.3,1126.6 1634.2,1126.4 1635.1,1126.2 1636.0,1125.1 1636.9,1124.0 1637.9,1122.8 1638.8,1121.6 1639.7,1119.8 1640.6,1118.1 1641.5,1118.2 1642.5,1118.6 1643.4,1118.4 1644.3,1118.2 1645.2,1123.7 1646.1,1128.8 1647.1,1127.2 1648.0,1125.6 1648.9,1124.0 1649.8,1122.4 1650.7,1120.3 1651.6,1119.9 1652.6,1119.5 1653.5,1119.1 1654.4,1119.6 1655.3,1120.0 1656.2,1119.4 1657.2,1118.8 1658.1,1118.7 1659.0,1118.7 1659.9,1119.0 1660.8,1119.2 1661.8,1119.6 1662.7,1121.0 1663.6,1123.0 1664.5,1125.0 1665.4,1125.4 1666.4,1125.4 1667.3,1125.4 1668.2,1125.3 1669.1,1125.5 1670.0,1129.7 1671.0,1135.1 1671.9,1137.9 1672.8,1139.7 1673.7,1141.2 1674.6,1141.6 1675.6,1142.0 1676.5,1142.6 1677.4,1143.2 1678.3,1143.4 1679.2,1144.5 1680.2,1147.5 1681.1,1151.7 1682.0,1159.1 1682.9,1166.4 1683.8,1167.7 1684.8,1169.0 1685.7,1170.6 1686.6,1172.3 1687.5,1172.8 1688.4,1172.8 1689.4,1171.0 1690.3,1169.2 1691.2,1168.1 1692.1,1167.0 1693.0,1165.5 1694.0,1163.7 1694.9,1161.3 1695.8,1160.7 1696.7,1159.8 1697.6,1158.8 1698.6,1159.2 1699.5,1159.6 1700.4,1159.8 1701.3,1160.4 1702.2,1160.4 1703.2,1160.5 1704.1,1162.0 1705.0,1166.4 1705.9,1170.3 1706.8,1172.2 1707.8,1173.2 1708.7,1174.3 1709.6,1177.3 1710.5,1181.7 1711.4,1186.3 1712.4,1188.2 1713.3,1187.3 1714.2,1186.5 1715.1,1186.5 1716.0,1186.6 1717.0,1187.4 1717.9,1188.8 1718.8,1191.4 1719.7,1191.9 1720.6,1192.2 1721.6,1192.6 1722.5,1192.8 1723.4,1192.4 1724.3,1182.3 1725.2,1172.9 1726.1,1171.7 1727.1,1170.5 1728.0,1169.1 1728.9,1166.3 1729.8,1165.3 1730.7,1166.3 1731.7,1167.1 1732.6,1168.4 1733.5,1169.7 1734.4,1171.1 1735.3,1171.9 1736.3,1172.0 1737.2,1171.3 1738.1,1170.6 1739.0,1172.0 1739.9,1171.7 1740.9,1169.6 1741.8,1167.4 1742.7,1162.6 1743.6,1161.0 1744.5,1160.0 1745.5,1159.0 1746.4,1158.0 1747.3,1154.2 1748.2,1151.0 1749.1,1151.2 1750.1,1151.6 1751.0,1152.0 1751.9,1151.2 1752.8,1149.9 1753.7,1146.5 1754.7,1141.7 1755.6,1135.7 1756.5,1135.6 1757.4,1135.5 1758.3,1135.5 1759.3,1135.6 1760.2,1137.1 1761.1,1140.4 1762.0,1143.7 1762.9,1143.8 1763.9,1142.3 1764.8,1141.6 1765.7,1140.9 1766.6,1139.5 1767.5,1137.5 1768.5,1135.4 1769.4,1130.9 1770.3,1124.5 1771.2,1118.9 1772.1,1114.6 1773.1,1112.1 1774.0,1110.5 1774.9,1110.4 1775.8,1110.5 1776.7,1110.7 1777.7,1110.3 1778.6,1109.9 1779.5,1109.5 1780.4,1109.0 1781.3,1109.6 1782.3,1110.1 1783.2,1110.1 1784.1,1110.1 1785.0,1111.0 1785.9,1114.5 1786.9,1117.1 1787.8,1118.6 1788.7,1120.5 1789.6,1122.5 1790.5,1125.7 1791.5,1128.9 1792.4,1129.3 1793.3,1128.4 1794.2,1128.0 1795.1,1127.6 1796.1,1128.3 1797.0,1127.1 1797.9,1123.6 1798.8,1120.0 1799.7,1117.7 1800.6,1115.6 1801.6,1113.3 1802.5,1112.8 1803.4,1112.7 1804.3,1112.7 1805.2,1112.4 1806.2,1112.2 1807.1,1111.7 1808.0,1111.3 1808.9,1111.4 1809.8,1111.6 1810.8,1111.6 1811.7,1111.6 1812.6,1111.1 1813.5,1110.8 1814.4,1110.8 1815.4,1110.8 1816.3,1114.3 1817.2,1120.0 1818.1,1123.7 1819.0,1125.6 1820.0,1127.1 1820.9,1128.6 1821.8,1128.6 1822.7,1128.6 1823.6,1129.4 1824.6,1130.1 1825.5,1133.8 1826.4,1138.1 1827.3,1141.9 1828.2,1145.8 1829.2,1147.5 1830.1,1149.0 1831.0,1151.3 1831.9,1153.7 1832.8,1156.4 1833.8,1156.1 1834.7,1154.2 1835.6,1152.4 1836.5,1151.3 1837.4,1149.2 1838.4,1147.2 1839.3,1145.9 1840.2,1146.4 1841.1,1146.9 1842.0,1148.6 1843.0,1151.0 1843.9,1152.6 1844.8,1154.8 1845.7,1157.5 1846.6,1160.2 1847.6,1163.4 1848.5,1166.9 1849.4,1168.3 1850.3,1168.4 1851.2,1167.4 1852.2,1166.4 1853.1,1164.9 1854.0,1167.5 1854.9,1171.6 1855.8,1173.7 1856.8,1175.6 1857.7,1177.5 1858.6,1178.3 1859.5,1179.1 1860.4,1180.6 1861.4,1182.1 1862.3,1183.7 1863.2,1185.4 1864.1,1187.0 1865.0,1190.6 1866.0,1193.1 1866.9,1192.8 1867.8,1193.3 1868.7,1193.8 1869.6,1196.2 1870.5,1200.3 1871.5,1202.7 1872.4,1205.6 1873.3,1207.1 1874.2,1207.3 1875.1,1208.6 1876.1,1209.3 1877.0,1208.9 1877.9,1208.4 1878.8,1207.6 1879.7,1206.9 1880.7,1201.8 1881.6,1201.5 1882.5,1202.7 1883.4,1203.9 1884.3,1203.3 1885.3,1204.3 1886.2,1205.9 1887.1,1207.5 1888.0,1209.1 1888.9,1209.2 1889.9,1209.1 1890.8,1209.0 1891.7,1209.0 1892.6,1206.2 1893.5,1202.3 1894.5,1202.8 1895.4,1202.7 1896.3,1202.6 1897.2,1204.0 1898.1,1205.4 1899.1,1205.2 1900.0,1204.9 1900.9,1204.9 1901.8,1204.9 1902.7,1204.6 1903.7,1204.4 1904.6,1210.2 1905.5,1211.3 1906.4,1211.3 1907.3,1211.2 1908.3,1211.2 1909.2,1211.2 1910.1,1209.9 1911.0,1208.7 1911.9,1207.9 1912.9,1207.4 1913.8,1207.1 1914.7,1206.8 1915.6,1207.0 1916.5,1207.3 1917.5,1207.8 1918.4,1208.3 1919.3,1207.9 1920.2,1207.6 1921.1,1207.6 1922.1,1207.6 1923.0,1207.2 1923.9,1206.8 1924.8,1209.8 1925.7,1213.7 1926.7,1216.2 1927.6,1218.6 1928.5,1220.9 1929.4,1221.3 1930.3,1221.5 1931.3,1221.6 1932.2,1221.2 1933.1,1220.8 1934.0,1219.3 1934.9,1217.8 1935.9,1215.5 1936.8,1212.4 1937.7,1209.8 1938.6,1207.7 1939.5,1205.3 1940.5,1203.3 1941.4,1202.6 1942.3,1202.0 1943.2,1200.9 1944.1,1199.5 1945.0,1197.2 1946.0,1194.9 1946.9,1193.1 1947.8,1191.4 1948.7,1189.6 1949.6,1188.4 1950.6,1190.3 1951.5,1192.9 1952.4,1194.3 1953.3,1195.7 1954.2,1198.3 1955.2,1200.9 1956.1,1194.7 1957.0,1187.0 1957.9,1179.0 1958.8,1171.1 1959.8,1164.4 1960.7,1157.8 1961.6,1150.8 1962.5,1143.8 1963.4,1137.1 1964.4,1130.4 1965.3,1122.8 1966.2,1116.7 1967.1,1116.2 1968.0,1115.7 1969.0,1115.3 1969.9,1114.9 1970.8,1115.2 1971.7,1115.5 1972.6,1114.9 1973.6,1113.9 1974.5,1112.1 1975.4,1110.2 1976.3,1108.7 1977.2,1107.2 1978.2,1106.5 1979.1,1103.7 1980.0,1099.8 1980.9,1095.8 1981.8,1091.7 1982.8,1089.4 1983.7,1087.2 1984.6,1084.9 1985.5,1083.6 1986.4,1082.3 1987.4,1078.9 1988.3,1075.3 1989.2,1072.9 1990.1,1070.5 1991.0,1068.1 1992.0,1065.8 1992.9,1063.3 1993.8,1059.6 1994.7,1055.3 1995.6,1051.0 1996.6,1045.3 1997.5,1039.7 1998.4,1037.6 1999.3,1037.4 2000.2,1037.1 2001.2,1036.8 2002.1,1036.8 2003.0,1036.9 2003.9,1036.3 2004.8,1035.7 2005.8,1021.4 2006.7,1003.3 2007.6,998.2 2008.5,995.2 2009.4,992.3 2010.4,989.4 2011.3,987.4 2012.2,985.5 2013.1,982.3 2014.0,979.1 2015.0,975.6 2015.9,972.1 2016.8,969.2 2017.7,966.8 2018.6,965.6 2019.5,964.4 2020.5,962.2 2021.4,960.0 2022.3,957.8 2023.2,956.1 2024.1,955.6 2025.1,955.1 2026.0,955.0 2026.9,954.9 2027.8,955.3 2028.7,954.6 2029.7,950.6 2030.6,946.6 2031.5,945.1 2032.4,943.6 2033.3,940.5 2034.3,939.5 2035.2,939.5 2036.1,939.6 2037.0,940.0 2037.9,940.5 2038.9,939.6 2039.8,938.6 2040.7,938.9 2041.6,939.2 2042.5,938.0 2043.5,936.8 2044.4,936.7 2045.3,934.4 2046.2,931.0 2047.1,927.5 2048.1,923.6 2049.0,921.8 2049.9,924.2 2050.8,926.6 2051.7,926.6 2052.7,926.5 2053.6,926.8 2054.5,926.6"/>
</g>
<text transform="translate(215.5,1574.2) scale(1,1.032)" text-anchor="middle" font-family="'Liberation Sans', Arial, Helvetica, sans-serif" font-size="56.3" fill="#000">0</text>
<text transform="translate(583.4,1574.2) scale(1,1.032)" text-anchor="middle" font-family="'Liberation Sans', Arial, Helvetica, sans-serif" font-size="56.3" fill="#000">200</text>
<text transform="translate(951.3,1574.2) scale(1,1.032)" text-anchor="middle" font-family="'Liberation Sans', Arial, Helvetica, sans-serif" font-size="56.3" fill="#000">400</text>
<text transform="translate(1319.2,1574.2) scale(1,1.032)" text-anchor="middle" font-family="'Liberation Sans', Arial, Helvetica, sans-serif" font-size="56.3" fill="#000">600</text>
<text transform="translate(1687.1,1574.2) scale(1,1.032)" text-anchor="middle" font-family="'Liberation Sans', Arial, Helvetica, sans-serif" font-size="56.3" fill="#000">800</text>
<text transform="translate(2055.0,1574.2) scale(1,1.032)" text-anchor="middle" font-family="'Liberation Sans', Arial, Helvetica, sans-serif" font-size="56.3" fill="#000">1000</text>
<text transform="translate(199.0,1527.4) scale(1,1.032)" text-anchor="end" font-family="'Liberation Sans', Arial, Helvetica, sans-serif" font-size="56.3" fill="#000">0</text>
<text transform="translate(199.0,1237.0) scale(1,1.032)" text-anchor="end" font-family="'Liberation Sans', Arial, Helvetica, sans-serif" font-size="56.3" fill="#000">5</text>
<text transform="translate(199.0,946.6) scale(1,1.032)" text-anchor="end" font-family="'Liberation Sans', Arial, Helvetica, sans-serif" font-size="56.3" fill="#000">10</text>
<text transform="translate(199.0,656.2) scale(1,1.032)" text-anchor="end" font-family="'Liberation Sans', Arial, Helvetica, sans-serif" font-size="56.3" fill="#000">15</text>
<text transform="translate(199.0,365.8) scale(1,1.032)" text-anchor="end" font-family="'Liberation Sans', Arial, Helvetica, sans-serif" font-size="56.3" fill="#000">20</text>
<text transform="translate(199.0,75.4) scale(1,1.032)" text-anchor="end" font-family="'Liberation Sans', Arial, Helvetica, sans-serif" font-size="56.3" fill="#000">25</text>
<text transform="translate(1133.0,1650.0) scale(1,1.02)" text-anchor="middle" font-family="'Liberation Serif', 'Times New Roman', Times, serif" font-size="74" fill="#000">Iterations</text>
<text transform="translate(94.0,772.0) scale(1,1.02) rotate(-90)" text-anchor="middle" font-family="'Liberation Serif', 'Times New Roman', Times, serif" font-size="74" fill="#000">Reward Value</text>
<rect x="218.0" y="65.0" width="520.4" height="337.0" fill="#fff" stroke="#000" stroke-width="3.8"/>
<line x1="252" y1="114.7" x2="427" y2="114.7" stroke="#0000ff" stroke-width="10.4"/>
<text transform="translate(445.0,135.0) scale(1,1.032)" text-anchor="start" font-family="'Liberation Sans', Arial, Helvetica, sans-serif" font-size="56.3" fill="#000">Interval=5</text>
<line x1="252" y1="193.2" x2="427" y2="193.2" stroke="#000000" stroke-width="10.4"/>
<text transform="translate(445.0,213.5) scale(1,1.032)" text-anchor="start" font-family="'Liberation Sans', Arial, Helvetica, sans-serif" font-size="56.3" fill="#000">Interval=10</text>
<line x1="252" y1="272.4" x2="427" y2="272.4" stroke="#ff0000" stroke-width="10.4"/>
<text transform="translate(445.0,292.7) scale(1,1.032)" text-anchor="start" font-family="'Liberation Sans', Arial, Helvetica, sans-serif" font-size="56.3" fill="#000">Interval=15</text>
<line x1="252" y1="352.0" x2="427" y2="352.0" stroke="#00ff00" stroke-width="10.4"/>
<text transform="translate(445.0,372.3) scale(1,1.032)" text-anchor="start" font-family="'Liberation Sans', Arial, Helvetica, sans-serif" font-size="56.3" fill="#000">Interval=20</text>
<rect x="1050.0" y="531.3" width="488.0" height="368.7" fill="#fff"/>
<g stroke="#000" stroke-width="2.4" stroke-dasharray="4.2 21.22" fill="none">
<line x1="1212.7" y1="901.6" x2="1212.7" y2="531.3"/>
<line x1="1375.3" y1="901.6" x2="1375.3" y2="531.3"/>
<line x1="1049.6" y1="777.1" x2="1538.0" y2="777.1"/>
<line x1="1049.6" y1="654.2" x2="1538.0" y2="654.2"/>
</g>
<g stroke="#000" stroke-width="3.8" fill="none">
<rect x="1050.0" y="531.3" width="488.0" height="368.7"/>
<line x1="1212.7" y1="900.0" x2="1212.7" y2="894.5"/>
<line x1="1212.7" y1="531.3" x2="1212.7" y2="536.8"/>
<line x1="1375.3" y1="900.0" x2="1375.3" y2="894.5"/>
<line x1="1375.3" y1="531.3" x2="1375.3" y2="536.8"/>
<line x1="1050.0" y1="777.1" x2="1055.5" y2="777.1"/>
<line x1="1538.0" y1="777.1" x2="1532.5" y2="777.1"/>
<line x1="1050.0" y1="654.2" x2="1055.5" y2="654.2"/>
<line x1="1538.0" y1="654.2" x2="1532.5" y2="654.2"/>
</g>
<g clip-path="url(#ci)" fill="none" stroke-width="10.4" stroke-linejoin="round">
<polyline stroke="#0000ff" points="1050.0,894.7 1050.8,894.5 1051.6,894.4 1052.4,894.3 1053.3,894.1 1054.1,894.0 1054.9,893.9 1055.7,893.8 1056.5,893.7 1057.3,893.6 1058.1,893.6 1058.9,893.5 1059.8,893.4 1060.6,893.3 1061.4,893.3 1062.2,893.2 1063.0,893.1 1063.8,893.1 1064.6,893.0 1065.5,892.9 1066.3,892.8 1067.1,892.8 1067.9,892.7 1068.7,892.6 1069.5,892.5 1070.3,892.5 1071.1,892.5 1072.0,892.4 1072.8,892.3 1073.6,892.2 1074.4,892.2 1075.2,892.1 1076.0,892.0 1076.8,891.9 1077.7,891.9 1078.5,891.8 1079.3,891.7 1080.1,891.6 1080.9,891.5 1081.7,891.3 1082.5,891.2 1083.3,891.1 1084.2,891.0 1085.0,890.8 1085.8,890.7 1086.6,890.6 1087.4,890.5 1088.2,890.4 1089.0,890.3 1089.9,890.2 1090.7,890.1 1091.5,890.1 1092.3,890.0 1093.1,889.9 1093.9,889.8 1094.7,889.7 1095.5,889.6 1096.4,889.5 1097.2,889.3 1098.0,889.3 1098.8,889.2 1099.6,889.2 1100.4,889.1 1101.2,889.1 1102.1,889.0 1102.9,889.0 1103.7,888.9 1104.5,888.9 1105.3,888.8 1106.1,888.7 1106.9,888.6 1107.7,888.6 1108.6,888.5 1109.4,888.5 1110.2,888.4 1111.0,888.4 1111.8,888.3 1112.6,888.3 1113.4,888.2 1114.3,888.2 1115.1,888.1 1115.9,888.1 1116.7,888.0 1117.5,888.0 1118.3,887.9 1119.1,887.9 1119.9,887.7 1120.8,887.6 1121.6,887.5 1122.4,887.4 1123.2,887.2 1124.0,887.1 1124.8,887.0 1125.6,886.7 1126.5,885.7 1127.3,884.7 1128.1,883.7 1128.9,882.5 1129.7,881.0 1130.5,879.5 1131.3,878.0 1132.1,877.1 1133.0,876.5 1133.8,875.9 1134.6,875.3 1135.4,874.6 1136.2,873.9 1137.0,873.5 1137.8,873.2 1138.7,872.9 1139.5,872.6 1140.3,872.3 1141.1,872.0 1141.9,871.0 1142.7,870.1 1143.5,869.1 1144.3,868.0 1145.2,867.0 1146.0,866.0 1146.8,865.0 1147.6,864.1 1148.4,863.7 1149.2,863.2 1150.0,862.7 1150.9,862.2 1151.7,861.8 1152.5,861.3 1153.3,860.8 1154.1,860.2 1154.9,859.5 1155.7,858.9 1156.5,858.3 1157.4,857.7 1158.2,857.1 1159.0,855.5 1159.8,853.5 1160.6,852.6 1161.4,851.9 1162.2,851.2 1163.1,850.5 1163.9,849.8 1164.7,849.3 1165.5,848.4 1166.3,847.4 1167.1,846.4 1167.9,845.6 1168.7,845.3 1169.6,844.6 1170.4,844.0 1171.2,843.7 1172.0,843.6 1172.8,842.9 1173.6,842.3 1174.4,841.7 1175.3,841.1 1176.1,840.7 1176.9,840.1 1177.7,839.2 1178.5,838.3 1179.3,837.3 1180.1,836.3 1180.9,835.1 1181.8,833.7 1182.6,832.3 1183.4,830.9 1184.2,829.4 1185.0,826.3 1185.8,824.2 1186.6,822.9 1187.5,821.7 1188.3,821.0 1189.1,820.5 1189.9,820.0 1190.7,819.3 1191.5,818.7 1192.3,818.0 1193.1,817.5 1194.0,817.0 1194.8,816.6 1195.6,815.9 1196.4,815.3 1197.2,814.9 1198.0,814.5 1198.8,813.6 1199.7,811.6 1200.5,810.1 1201.3,809.2 1202.1,808.4 1202.9,807.6 1203.7,807.2 1204.5,806.8 1205.3,806.1 1206.2,805.4 1207.0,804.4 1207.8,803.4 1208.6,803.3 1209.4,803.4 1210.2,803.4 1211.0,803.4 1211.9,803.5 1212.7,803.6 1213.5,803.7 1214.3,802.2 1215.1,802.4 1215.9,802.7 1216.7,802.8 1217.5,802.8 1218.4,802.1 1219.2,801.5 1220.0,800.8 1220.8,800.2 1221.6,799.8 1222.4,799.5 1223.2,799.5 1224.1,799.4 1224.9,799.4 1225.7,799.7 1226.5,800.0 1227.3,800.3 1228.1,800.5 1228.9,800.8 1229.7,801.0 1230.6,801.3 1231.4,801.8 1232.2,802.3 1233.0,802.5 1233.8,802.1 1234.6,801.8 1235.4,801.5 1236.3,801.1 1237.1,800.7 1237.9,801.2 1238.7,801.8 1239.5,802.3 1240.3,802.9 1241.1,803.3 1241.9,803.4 1242.8,804.1 1243.6,804.8 1244.4,805.1 1245.2,805.4 1246.0,805.6 1246.8,805.1 1247.6,803.7 1248.5,802.3 1249.3,800.8 1250.1,800.2 1250.9,800.4 1251.7,800.6 1252.5,800.6 1253.3,800.5 1254.1,800.5 1255.0,800.4 1255.8,800.9 1256.6,801.5 1257.4,802.0 1258.2,802.6 1259.0,803.1 1259.8,803.6 1260.7,804.1 1261.5,804.5 1262.3,804.9 1263.1,805.9 1263.9,810.2 1264.7,809.9 1265.5,809.4 1266.3,809.0 1267.2,808.6 1268.0,808.2 1268.8,807.9 1269.6,807.5 1270.4,807.3 1271.2,807.2 1272.0,807.4 1272.9,807.7 1273.7,807.9 1274.5,808.1 1275.3,808.3 1276.1,808.5 1276.9,808.6 1277.7,808.5 1278.5,808.6 1279.4,808.6 1280.2,808.6 1281.0,808.5 1281.8,808.5 1282.6,808.0 1283.4,807.6 1284.2,807.2 1285.1,806.9 1285.9,807.3 1286.7,807.4 1287.5,807.6 1288.3,807.7 1289.1,807.9 1289.9,808.5 1290.7,809.3 1291.6,810.1 1292.4,810.8 1293.2,811.6 1294.0,811.6 1294.8,810.9 1295.6,810.1 1296.4,809.1 1297.3,808.1 1298.1,807.6 1298.9,807.1 1299.7,806.6 1300.5,806.2 1301.3,805.6 1302.1,805.0 1302.9,805.4 1303.8,805.8 1304.6,806.2 1305.4,806.6 1306.2,806.5 1307.0,806.3 1307.8,806.0 1308.6,805.7 1309.5,805.6 1310.3,805.5 1311.1,805.3 1311.9,805.1 1312.7,804.8 1313.5,804.6 1314.3,804.3 1315.1,804.0 1316.0,803.8 1316.8,803.9 1317.6,803.9 1318.4,804.0 1319.2,804.1 1320.0,804.3 1320.8,804.3 1321.7,804.3 1322.5,804.4 1323.3,804.5 1324.1,804.8 1324.9,805.1 1325.7,805.3 1326.5,805.6 1327.3,805.8 1328.2,806.1 1329.0,806.4 1329.8,807.1 1330.6,808.4 1331.4,809.2 1332.2,809.4 1333.0,809.6 1333.9,809.7 1334.7,809.8 1335.5,809.9 1336.3,809.9 1337.1,810.1 1337.9,810.3 1338.7,810.4 1339.5,810.6 1340.4,810.8 1341.2,811.0 1342.0,811.0 1342.8,810.9 1343.6,810.8 1344.4,810.7 1345.2,810.4 1346.1,810.1 1346.9,810.0 1347.7,809.9 1348.5,809.9 1349.3,809.8 1350.1,810.0 1350.9,810.3 1351.7,810.2 1352.6,810.2 1353.4,810.2 1354.2,810.3 1355.0,810.4 1355.8,810.5 1356.6,810.9 1357.4,811.2 1358.3,811.0 1359.1,810.7 1359.9,810.9 1360.7,811.0 1361.5,811.1 1362.3,811.1 1363.1,811.0 1363.9,810.8 1364.8,810.6 1365.6,810.3 1366.4,810.1 1367.2,809.9 1368.0,809.8 1368.8,809.7 1369.6,809.8 1370.5,810.0 1371.3,809.8 1372.1,809.6 1372.9,809.3 1373.7,807.5 1374.5,805.9 1375.3,805.5 1376.1,805.0 1377.0,804.6 1377.8,804.0 1378.6,803.5 1379.4,803.2 1380.2,802.9 1381.0,802.7 1381.8,802.5 1382.7,802.2 1383.5,801.9 1384.3,801.8 1385.1,801.9 1385.9,801.7 1386.7,801.6 1387.5,801.5 1388.3,801.5 1389.2,801.4 1390.0,801.4 1390.8,801.1 1391.6,800.9 1392.4,800.7 1393.2,800.4 1394.0,800.0 1394.9,799.5 1395.7,799.1 1396.5,798.7 1397.3,799.1 1398.1,799.4 1398.9,799.5 1399.7,799.6 1400.5,799.9 1401.4,800.1 1402.2,800.1 1403.0,800.1 1403.8,800.2 1404.6,800.3 1405.4,800.1 1406.2,800.0 1407.1,799.9 1407.9,799.8 1408.7,799.6 1409.5,799.4 1410.3,799.3 1411.1,798.5 1411.9,797.8 1412.7,797.1 1413.6,796.2 1414.4,795.0 1415.2,793.7 1416.0,792.4 1416.8,791.4 1417.6,790.4 1418.4,789.6 1419.3,788.9 1420.1,788.9 1420.9,788.8 1421.7,789.1 1422.5,789.3 1423.3,789.3 1424.1,789.4 1424.9,789.8 1425.8,790.5 1426.6,790.8 1427.4,791.1 1428.2,791.9 1429.0,792.1 1429.8,791.7 1430.6,791.3 1431.5,791.2 1432.3,791.1 1433.1,791.1 1433.9,791.2 1434.7,791.1 1435.5,791.1 1436.3,790.9 1437.1,790.6 1438.0,790.2 1438.8,789.9 1439.6,789.3 1440.4,788.8 1441.2,788.3 1442.0,787.8 1442.8,787.5 1443.7,787.4 1444.5,787.6 1445.3,787.8 1446.1,788.1 1446.9,788.4 1447.7,788.1 1448.5,787.2 1449.3,786.5 1450.2,785.8 1451.0,785.3 1451.8,784.8 1452.6,784.2 1453.4,783.6 1454.2,782.8 1455.0,783.4 1455.9,784.9 1456.7,786.4 1457.5,787.8 1458.3,788.3 1459.1,788.6 1459.9,788.8 1460.7,789.0 1461.5,789.2 1462.4,789.5 1463.2,789.7 1464.0,790.2 1464.8,790.6 1465.6,790.6 1466.4,791.8 1467.2,795.2 1468.1,795.5 1468.9,795.8 1469.7,796.0 1470.5,796.3 1471.3,796.5 1472.1,796.8 1472.9,797.1 1473.7,797.5 1474.6,797.8 1475.4,798.0 1476.2,798.3 1477.0,798.6 1477.8,799.2 1478.6,800.1 1479.4,801.0 1480.3,801.0 1481.1,800.8 1481.9,800.2 1482.7,799.6 1483.5,799.0 1484.3,798.5 1485.1,797.9 1485.9,797.4 1486.8,796.8 1487.6,796.3 1488.4,796.8 1489.2,797.4 1490.0,797.8 1490.8,798.6 1491.6,800.3 1492.5,800.7 1493.3,803.2 1494.1,804.0 1494.9,804.5 1495.7,805.1 1496.5,805.7 1497.3,806.3 1498.1,806.9 1499.0,807.4 1499.8,807.9 1500.6,808.9 1501.4,809.8 1502.2,809.9 1503.0,809.6 1503.8,809.3 1504.7,809.1 1505.5,808.6 1506.3,808.0 1507.1,807.8 1507.9,808.1 1508.7,808.5 1509.5,808.4 1510.3,808.9 1511.2,809.8 1512.0,810.2 1512.8,810.4 1513.6,810.5 1514.4,810.6 1515.2,810.7 1516.0,810.8 1516.9,810.9 1517.7,810.8 1518.5,810.8 1519.3,810.7 1520.1,810.7 1520.9,811.5 1521.7,812.4 1522.5,813.1 1523.4,813.4 1524.2,813.7 1525.0,814.1 1525.8,814.3 1526.6,814.5 1527.4,814.7 1528.2,815.0 1529.1,815.3 1529.9,816.6 1530.7,817.9 1531.5,817.9 1532.3,817.7 1533.1,817.5 1533.9,817.5 1534.7,816.9 1535.6,815.8 1536.4,815.3 1537.2,815.1 1538.0,814.9"/>
<polyline stroke="#000000" points="1050.0,881.2 1050.8,881.2 1051.6,881.1 1052.4,881.1 1053.3,881.0 1054.1,880.8 1054.9,880.6 1055.7,880.5 1056.5,880.4 1057.3,880.3 1058.1,880.2 1058.9,880.0 1059.8,879.9 1060.6,880.0 1061.4,880.1 1062.2,880.1 1063.0,880.2 1063.8,880.2 1064.6,880.3 1065.5,880.4 1066.3,880.5 1067.1,880.5 1067.9,880.5 1068.7,880.6 1069.5,880.6 1070.3,880.7 1071.1,880.8 1072.0,880.8 1072.8,880.8 1073.6,880.8 1074.4,880.9 1075.2,880.8 1076.0,880.8 1076.8,880.9 1077.7,880.8 1078.5,880.8 1079.3,880.7 1080.1,880.6 1080.9,880.6 1081.7,880.5 1082.5,880.5 1083.3,880.4 1084.2,880.4 1085.0,880.5 1085.8,880.6 1086.6,880.7 1087.4,880.8 1088.2,880.8 1089.0,880.9 1089.9,881.0 1090.7,881.1 1091.5,881.3 1092.3,881.5 1093.1,881.6 1093.9,881.8 1094.7,881.9 1095.5,882.0 1096.4,881.9 1097.2,881.8 1098.0,881.7 1098.8,881.7 1099.6,881.6 1100.4,881.6 1101.2,881.5 1102.1,881.5 1102.9,881.6 1103.7,881.6 1104.5,881.6 1105.3,881.6 1106.1,881.6 1106.9,881.6 1107.7,881.6 1108.6,881.7 1109.4,881.7 1110.2,881.8 1111.0,881.7 1111.8,881.7 1112.6,881.7 1113.4,881.7 1114.3,881.6 1115.1,881.6 1115.9,881.6 1116.7,881.6 1117.5,881.5 1118.3,881.5 1119.1,881.5 1119.9,881.4 1120.8,881.3 1121.6,881.2 1122.4,881.2 1123.2,881.1 1124.0,880.9 1124.8,880.0 1125.6,879.1 1126.5,878.2 1127.3,876.8 1128.1,874.9 1128.9,872.9 1129.7,871.3 1130.5,870.1 1131.3,868.9 1132.1,867.8 1133.0,866.6 1133.8,865.8 1134.6,865.0 1135.4,864.2 1136.2,863.4 1137.0,862.7 1137.8,861.9 1138.7,861.4 1139.5,860.9 1140.3,860.6 1141.1,860.2 1141.9,859.8 1142.7,859.3 1143.5,858.7 1144.3,857.5 1145.2,856.3 1146.0,855.2 1146.8,854.5 1147.6,853.9 1148.4,853.4 1149.2,852.9 1150.0,852.3 1150.9,851.7 1151.7,851.5 1152.5,851.2 1153.3,850.8 1154.1,850.3 1154.9,850.0 1155.7,849.7 1156.5,849.4 1157.4,848.0 1158.2,846.1 1159.0,845.0 1159.8,843.9 1160.6,843.7 1161.4,843.1 1162.2,842.2 1163.1,841.3 1163.9,840.4 1164.7,839.9 1165.5,839.5 1166.3,839.0 1167.1,838.5 1167.9,838.2 1168.7,837.8 1169.6,837.2 1170.4,836.5 1171.2,835.8 1172.0,835.2 1172.8,834.5 1173.6,833.8 1174.4,833.1 1175.3,832.0 1176.1,830.2 1176.9,829.0 1177.7,828.6 1178.5,828.2 1179.3,827.7 1180.1,825.9 1180.9,822.8 1181.8,820.6 1182.6,819.5 1183.4,818.4 1184.2,817.3 1185.0,816.6 1185.8,816.0 1186.6,815.4 1187.5,815.0 1188.3,814.6 1189.1,814.2 1189.9,814.0 1190.7,813.6 1191.5,813.2 1192.3,812.8 1193.1,812.3 1194.0,812.0 1194.8,811.6 1195.6,810.7 1196.4,808.2 1197.2,806.4 1198.0,805.9 1198.8,805.2 1199.7,804.6 1200.5,803.8 1201.3,803.0 1202.1,802.2 1202.9,801.6 1203.7,801.4 1204.5,801.2 1205.3,800.8 1206.2,800.4 1207.0,799.4 1207.8,798.2 1208.6,797.3 1209.4,798.2 1210.2,799.6 1211.0,801.0 1211.9,802.6 1212.7,804.2 1213.5,805.9 1214.3,806.1 1215.1,806.4 1215.9,806.6 1216.7,806.7 1217.5,806.7 1218.4,806.0 1219.2,805.4 1220.0,804.8 1220.8,804.2 1221.6,803.8 1222.4,803.5 1223.2,803.5 1224.1,803.5 1224.9,803.4 1225.7,803.8 1226.5,804.0 1227.3,804.3 1228.1,804.5 1228.9,804.7 1229.7,805.0 1230.6,805.3 1231.4,805.8 1232.2,806.2 1233.0,806.4 1233.8,806.0 1234.6,805.7 1235.4,805.4 1236.3,805.0 1237.1,804.6 1237.9,805.2 1238.7,805.7 1239.5,806.2 1240.3,806.8 1241.1,807.1 1241.9,807.3 1242.8,807.9 1243.6,808.6 1244.4,808.9 1245.2,809.2 1246.0,809.4 1246.8,808.9 1247.6,807.6 1248.5,806.2 1249.3,804.8 1250.1,804.2 1250.9,804.4 1251.7,804.6 1252.5,804.5 1253.3,804.5 1254.1,804.5 1255.0,804.4 1255.8,804.9 1256.6,805.4 1257.4,806.0 1258.2,806.5 1259.0,807.0 1259.8,807.4 1260.7,807.9 1261.5,808.4 1262.3,808.7 1263.1,809.7 1263.9,813.8 1264.7,813.5 1265.5,813.1 1266.3,812.6 1267.2,812.2 1268.0,811.8 1268.8,811.5 1269.6,811.2 1270.4,811.0 1271.2,810.9 1272.0,811.1 1272.9,811.4 1273.7,811.6 1274.5,811.8 1275.3,812.0 1276.1,812.2 1276.9,812.2 1277.7,812.1 1278.5,812.2 1279.4,812.3 1280.2,812.2 1281.0,812.2 1281.8,812.2 1282.6,811.7 1283.4,811.3 1284.2,810.9 1285.1,810.6 1285.9,811.0 1286.7,811.1 1287.5,811.3 1288.3,811.4 1289.1,811.6 1289.9,812.1 1290.7,812.9 1291.6,813.6 1292.4,814.4 1293.2,815.1 1294.0,815.2 1294.8,814.4 1295.6,813.7 1296.4,812.7 1297.3,811.8 1298.1,811.3 1298.9,810.9 1299.7,810.4 1300.5,809.9 1301.3,809.4 1302.1,808.8 1302.9,809.2 1303.8,809.6 1304.6,810.0 1305.4,810.4 1306.2,810.2 1307.0,810.1 1307.8,809.8 1308.6,809.5 1309.5,809.4 1310.3,809.3 1311.1,809.1 1311.9,808.9 1312.7,808.6 1313.5,808.4 1314.3,808.1 1315.1,807.8 1316.0,807.7 1316.8,807.5 1317.6,807.5 1318.4,807.4 1319.2,807.5 1320.0,807.8 1320.8,807.8 1321.7,807.9 1322.5,808.0 1323.3,808.2 1324.1,808.5 1324.9,808.8 1325.7,809.1 1326.5,810.3 1327.3,811.5 1328.2,812.8 1329.0,814.1 1329.8,814.2 1330.6,814.0 1331.4,813.9 1332.2,813.9 1333.0,813.9 1333.9,813.9 1334.7,814.0 1335.5,814.1 1336.3,814.2 1337.1,814.3 1337.9,814.5 1338.7,814.6 1339.5,814.7 1340.4,814.7 1341.2,814.5 1342.0,814.4 1342.8,814.3 1343.6,814.2 1344.4,814.1 1345.2,813.7 1346.1,813.3 1346.9,813.3 1347.7,813.2 1348.5,813.2 1349.3,813.2 1350.1,813.6 1350.9,813.9 1351.7,814.0 1352.6,814.1 1353.4,814.2 1354.2,814.3 1355.0,814.1 1355.8,813.9 1356.6,814.0 1357.4,814.2 1358.3,814.1 1359.1,814.1 1359.9,814.4 1360.7,814.8 1361.5,815.1 1362.3,815.4 1363.1,815.4 1363.9,815.1 1364.8,814.8 1365.6,814.5 1366.4,814.2 1367.2,813.8 1368.0,813.6 1368.8,813.5 1369.6,813.6 1370.5,813.7 1371.3,813.5 1372.1,813.3 1372.9,813.4 1373.7,811.4 1374.5,809.3 1375.3,809.0 1376.1,808.6 1377.0,808.2 1377.8,807.7 1378.6,807.2 1379.4,806.9 1380.2,806.6 1381.0,806.3 1381.8,806.0 1382.7,805.8 1383.5,805.5 1384.3,805.4 1385.1,805.2 1385.9,805.0 1386.7,804.8 1387.5,804.8 1388.3,804.9 1389.2,805.1 1390.0,805.3 1390.8,805.1 1391.6,804.9 1392.4,804.7 1393.2,804.6 1394.0,804.2 1394.9,803.8 1395.7,803.4 1396.5,803.1 1397.3,803.4 1398.1,803.8 1398.9,804.0 1399.7,804.1 1400.5,804.4 1401.4,803.8 1402.2,801.9 1403.0,800.0 1403.8,797.7 1404.6,794.8 1405.4,792.3 1406.2,790.3 1407.1,788.3 1407.9,786.6 1408.7,785.0 1409.5,783.4 1410.3,781.9 1411.1,780.8 1411.9,780.1 1412.7,770.6 1413.6,764.7 1414.4,761.8 1415.2,758.9 1416.0,756.0 1416.8,753.3 1417.6,750.6 1418.4,748.2 1419.3,746.9 1420.1,745.9 1420.9,744.9 1421.7,744.2 1422.5,743.6 1423.3,742.7 1424.1,741.8 1424.9,741.2 1425.8,740.2 1426.6,738.8 1427.4,737.3 1428.2,736.4 1429.0,735.5 1429.8,733.9 1430.6,732.4 1431.5,731.2 1432.3,730.0 1433.1,728.4 1433.9,726.8 1434.7,724.9 1435.5,722.7 1436.3,720.4 1437.1,718.1 1438.0,716.8 1438.8,715.6 1439.6,712.7 1440.4,709.8 1441.2,707.0 1442.0,704.8 1442.8,703.6 1443.7,702.3 1444.5,700.4 1445.3,698.6 1446.1,697.0 1446.9,694.0 1447.7,690.4 1448.5,686.8 1449.3,683.6 1450.2,680.4 1451.0,677.4 1451.8,674.5 1452.6,671.3 1453.4,668.6 1454.2,667.7 1455.0,666.8 1455.9,666.7 1456.7,666.6 1457.5,666.0 1458.3,664.7 1459.1,663.1 1459.9,661.5 1460.7,659.8 1461.5,658.2 1462.4,657.1 1463.2,655.9 1464.0,655.5 1464.8,655.0 1465.6,654.0 1466.4,653.2 1467.2,653.0 1468.1,651.8 1468.9,650.1 1469.7,648.4 1470.5,647.5 1471.3,646.7 1472.1,646.0 1472.9,645.3 1473.7,645.2 1474.6,645.1 1475.4,644.7 1476.2,644.3 1477.0,643.4 1477.8,642.4 1478.6,642.3 1479.4,642.3 1480.3,641.2 1481.1,637.6 1481.9,635.1 1482.7,633.5 1483.5,633.2 1484.3,632.9 1485.1,632.6 1485.9,629.8 1486.8,627.4 1487.6,626.9 1488.4,627.4 1489.2,627.8 1490.0,628.8 1490.8,630.2 1491.6,631.3 1492.5,637.9 1493.3,644.6 1494.1,646.5 1494.9,648.0 1495.7,649.5 1496.5,651.1 1497.3,652.6 1498.1,654.1 1499.0,655.6 1499.8,656.9 1500.6,659.5 1501.4,661.8 1502.2,662.1 1503.0,661.3 1503.8,660.6 1504.7,660.0 1505.5,658.6 1506.3,657.1 1507.1,656.6 1507.9,657.5 1508.7,658.3 1509.5,658.3 1510.3,659.5 1511.2,662.0 1512.0,662.9 1512.8,663.3 1513.6,663.8 1514.4,664.0 1515.2,664.2 1516.0,664.5 1516.9,664.7 1517.7,664.6 1518.5,664.6 1519.3,664.3 1520.1,664.2 1520.9,666.4 1521.7,668.7 1522.5,670.5 1523.4,671.4 1524.2,672.3 1525.0,673.1 1525.8,673.7 1526.6,674.2 1527.4,674.9 1528.2,675.6 1529.1,676.4 1529.9,679.9 1530.7,683.3 1531.5,683.2 1532.3,682.7 1533.1,682.2 1533.9,682.2 1534.7,680.6 1535.6,677.6 1536.4,676.3 1537.2,675.9 1538.0,675.4"/>
<polyline stroke="#ff0000" points="1050.0,877.3 1050.8,877.2 1051.6,877.1 1052.4,877.1 1053.3,877.1 1054.1,876.8 1054.9,876.6 1055.7,876.5 1056.5,876.4 1057.3,876.3 1058.1,876.2 1058.9,876.0 1059.8,875.9 1060.6,876.1 1061.4,876.2 1062.2,876.3 1063.0,876.4 1063.8,876.5 1064.6,876.6 1065.5,876.7 1066.3,876.7 1067.1,876.6 1067.9,876.5 1068.7,876.4 1069.5,876.3 1070.3,876.2 1071.1,876.2 1072.0,876.1 1072.8,876.0 1073.6,875.9 1074.4,875.8 1075.2,875.6 1076.0,875.4 1076.8,875.3 1077.7,875.2 1078.5,875.1 1079.3,875.0 1080.1,874.8 1080.9,874.5 1081.7,874.1 1082.5,873.7 1083.3,873.4 1084.2,873.3 1085.0,873.3 1085.8,873.3 1086.6,873.3 1087.4,873.3 1088.2,873.2 1089.0,873.2 1089.9,873.2 1090.7,873.3 1091.5,873.4 1092.3,873.5 1093.1,873.6 1093.9,873.7 1094.7,873.8 1095.5,873.8 1096.4,873.4 1097.2,873.0 1098.0,872.7 1098.8,872.4 1099.6,872.1 1100.4,871.9 1101.2,871.9 1102.1,871.8 1102.9,871.9 1103.7,871.9 1104.5,871.8 1105.3,871.8 1106.1,871.7 1106.9,871.6 1107.7,871.4 1108.6,871.3 1109.4,871.2 1110.2,871.1 1111.0,871.0 1111.8,870.9 1112.6,870.7 1113.4,870.6 1114.3,870.4 1115.1,870.2 1115.9,870.1 1116.7,869.9 1117.5,869.7 1118.3,869.6 1119.1,869.3 1119.9,869.1 1120.8,868.9 1121.6,868.8 1122.4,868.7 1123.2,868.7 1124.0,868.8 1124.8,868.8 1125.6,868.9 1126.5,869.0 1127.3,868.9 1128.1,868.9 1128.9,868.6 1129.7,867.8 1130.5,867.1 1131.3,866.4 1132.1,866.1 1133.0,866.1 1133.8,866.0 1134.6,866.0 1135.4,865.9 1136.2,865.7 1137.0,865.7 1137.8,865.6 1138.7,865.5 1139.5,865.4 1140.3,865.3 1141.1,865.3 1141.9,865.2 1142.7,865.1 1143.5,864.9 1144.3,864.8 1145.2,864.6 1146.0,864.5 1146.8,864.4 1147.6,864.2 1148.4,864.2 1149.2,864.2 1150.0,864.4 1150.9,864.5 1151.7,864.7 1152.5,864.9 1153.3,865.1 1154.1,865.2 1154.9,865.4 1155.7,865.3 1156.5,865.1 1157.4,864.8 1158.2,864.6 1159.0,864.4 1159.8,864.1 1160.6,864.2 1161.4,864.4 1162.2,864.6 1163.1,864.8 1163.9,865.0 1164.7,865.3 1165.5,865.4 1166.3,865.4 1167.1,865.4 1167.9,865.6 1168.7,865.7 1169.6,865.6 1170.4,865.6 1171.2,865.6 1172.0,865.6 1172.8,865.6 1173.6,865.3 1174.4,865.1 1175.3,864.9 1176.1,864.8 1176.9,864.7 1177.7,864.6 1178.5,864.4 1179.3,864.3 1180.1,864.1 1180.9,863.8 1181.8,863.5 1182.6,863.4 1183.4,863.2 1184.2,863.1 1185.0,863.0 1185.8,862.8 1186.6,862.7 1187.5,862.6 1188.3,862.5 1189.1,862.7 1189.9,862.9 1190.7,863.1 1191.5,863.2 1192.3,863.3 1193.1,863.5 1194.0,863.6 1194.8,863.7 1195.6,863.5 1196.4,863.3 1197.2,863.2 1198.0,863.1 1198.8,862.9 1199.7,862.8 1200.5,862.6 1201.3,863.1 1202.1,862.8 1202.9,862.6 1203.7,862.6 1204.5,862.5 1205.3,862.4 1206.2,862.2 1207.0,862.0 1207.8,861.8 1208.6,861.6 1209.4,861.7 1210.2,862.1 1211.0,862.5 1211.9,862.9 1212.7,863.4 1213.5,863.8 1214.3,864.2 1215.1,864.7 1215.9,864.8 1216.7,864.7 1217.5,864.6 1218.4,864.4 1219.2,864.3 1220.0,864.1 1220.8,864.0 1221.6,863.9 1222.4,863.8 1223.2,863.8 1224.1,864.0 1224.9,864.1 1225.7,864.2 1226.5,864.2 1227.3,864.3 1228.1,864.4 1228.9,864.4 1229.7,864.4 1230.6,864.5 1231.4,864.6 1232.2,864.5 1233.0,864.4 1233.8,864.3 1234.6,864.2 1235.4,864.2 1236.3,864.1 1237.1,864.0 1237.9,864.2 1238.7,864.4 1239.5,864.6 1240.3,864.8 1241.1,865.0 1241.9,865.0 1242.8,865.3 1243.6,865.5 1244.4,865.6 1245.2,865.8 1246.0,865.8 1246.8,865.7 1247.6,865.1 1248.5,864.6 1249.3,864.1 1250.1,863.9 1250.9,863.9 1251.7,864.0 1252.5,864.0 1253.3,864.0 1254.1,864.0 1255.0,864.0 1255.8,864.1 1256.6,864.3 1257.4,864.5 1258.2,864.7 1259.0,864.9 1259.8,865.1 1260.7,865.3 1261.5,865.4 1262.3,865.6 1263.1,865.9 1263.9,867.5 1264.7,867.4 1265.5,867.2 1266.3,867.1 1267.2,866.9 1268.0,866.8 1268.8,866.6 1269.6,866.5 1270.4,866.4 1271.2,866.4 1272.0,866.5 1272.9,866.6 1273.7,866.7 1274.5,866.7 1275.3,866.8 1276.1,866.9 1276.9,866.9 1277.7,866.9 1278.5,866.9 1279.4,866.9 1280.2,866.9 1281.0,866.9 1281.8,866.9 1282.6,866.7 1283.4,866.6 1284.2,866.4 1285.1,866.3 1285.9,866.4 1286.7,866.5 1287.5,866.6 1288.3,866.6 1289.1,866.7 1289.9,866.9 1290.7,867.2 1291.6,867.4 1292.4,867.7 1293.2,868.0 1294.0,868.0 1294.8,867.7 1295.6,867.4 1296.4,867.1 1297.3,866.7 1298.1,866.5 1298.9,866.4 1299.7,866.2 1300.5,866.0 1301.3,865.8 1302.1,865.6 1302.9,865.8 1303.8,865.9 1304.6,866.1 1305.4,866.2 1306.2,866.1 1307.0,866.1 1307.8,866.0 1308.6,865.9 1309.5,865.8 1310.3,865.8 1311.1,865.7 1311.9,865.6 1312.7,865.6 1313.5,865.5 1314.3,865.4 1315.1,865.2 1316.0,865.2 1316.8,865.2 1317.6,865.2 1318.4,865.3 1319.2,865.3 1320.0,865.3 1320.8,865.3 1321.7,865.4 1322.5,865.4 1323.3,865.4 1324.1,865.5 1324.9,865.6 1325.7,865.7 1326.5,865.8 1327.3,865.9 1328.2,866.0 1329.0,866.1 1329.8,866.4 1330.6,866.8 1331.4,867.1 1332.2,867.2 1333.0,867.3 1333.9,867.3 1334.7,867.4 1335.5,867.4 1336.3,867.4 1337.1,867.4 1337.9,867.5 1338.7,867.6 1339.5,867.6 1340.4,867.7 1341.2,867.8 1342.0,867.8 1342.8,867.7 1343.6,867.7 1344.4,867.7 1345.2,867.6 1346.1,867.4 1346.9,867.4 1347.7,867.4 1348.5,867.4 1349.3,867.3 1350.1,867.4 1350.9,867.5 1351.7,867.5 1352.6,867.5 1353.4,867.5 1354.2,867.5 1355.0,867.6 1355.8,867.6 1356.6,867.7 1357.4,867.9 1358.3,867.8 1359.1,867.7 1359.9,867.7 1360.7,867.8 1361.5,867.8 1362.3,867.8 1363.1,867.8 1363.9,867.7 1364.8,867.6 1365.6,867.5 1366.4,867.5 1367.2,867.4 1368.0,867.3 1368.8,867.3 1369.6,867.4 1370.5,867.4 1371.3,867.3 1372.1,867.3 1372.9,867.2 1373.7,866.5 1374.5,865.9 1375.3,865.8 1376.1,865.6 1377.0,865.5 1377.8,865.3 1378.6,865.1 1379.4,865.0 1380.2,864.9 1381.0,864.8 1381.8,864.7 1382.7,864.6 1383.5,864.5 1384.3,864.5 1385.1,864.5 1385.9,864.4 1386.7,864.4 1387.5,864.4 1388.3,864.3 1389.2,864.3 1390.0,864.3 1390.8,864.2 1391.6,864.1 1392.4,864.0 1393.2,864.0 1394.0,863.8 1394.9,863.6 1395.7,863.5 1396.5,863.3 1397.3,863.5 1398.1,863.6 1398.9,863.6 1399.7,863.7 1400.5,863.8 1401.4,863.8 1402.2,863.8 1403.0,863.8 1403.8,863.9 1404.6,863.9 1405.4,863.8 1406.2,863.8 1407.1,863.8 1407.9,863.7 1408.7,863.7 1409.5,863.6 1410.3,863.6 1411.1,863.3 1411.9,863.0 1412.7,862.8 1413.6,862.4 1414.4,862.0 1415.2,861.5 1416.0,861.1 1416.8,860.7 1417.6,860.3 1418.4,860.0 1419.3,859.8 1420.1,859.8 1420.9,859.8 1421.7,859.8 1422.5,859.9 1423.3,859.9 1424.1,860.0 1424.9,860.1 1425.8,860.4 1426.6,860.5 1427.4,860.6 1428.2,860.9 1429.0,860.9 1429.8,860.8 1430.6,860.7 1431.5,860.6 1432.3,860.6 1433.1,860.6 1433.9,860.6 1434.7,860.6 1435.5,860.6 1436.3,860.5 1437.1,860.4 1438.0,860.3 1438.8,860.1 1439.6,859.9 1440.4,859.8 1441.2,859.6 1442.0,859.4 1442.8,859.3 1443.7,859.2 1444.5,859.3 1445.3,859.4 1446.1,859.5 1446.9,859.6 1447.7,859.5 1448.5,859.2 1449.3,858.9 1450.2,858.7 1451.0,858.5 1451.8,858.3 1452.6,858.1 1453.4,857.9 1454.2,857.6 1455.0,857.8 1455.9,858.3 1456.7,858.9 1457.5,859.4 1458.3,859.6 1459.1,859.7 1459.9,859.8 1460.7,859.8 1461.5,859.9 1462.4,860.0 1463.2,860.1 1464.0,860.2 1464.8,860.4 1465.6,860.4 1466.4,860.8 1467.2,862.1 1468.1,862.2 1468.9,862.3 1469.7,862.4 1470.5,862.4 1471.3,862.5 1472.1,862.6 1472.9,862.7 1473.7,862.9 1474.6,863.0 1475.4,863.1 1476.2,863.2 1477.0,863.3 1477.8,863.5 1478.6,863.8 1479.4,864.2 1480.3,864.2 1481.1,864.1 1481.9,863.9 1482.7,863.7 1483.5,863.5 1484.3,863.2 1485.1,863.0 1485.9,862.9 1486.8,862.6 1487.6,862.5 1488.4,862.7 1489.2,862.8 1490.0,863.0 1490.8,863.3 1491.6,863.9 1492.5,864.1 1493.3,865.0 1494.1,865.2 1494.9,865.4 1495.7,865.6 1496.5,865.9 1497.3,866.1 1498.1,866.3 1499.0,866.5 1499.8,866.7 1500.6,867.0 1501.4,867.3 1502.2,867.4 1503.0,867.3 1503.8,867.2 1504.7,867.1 1505.5,866.9 1506.3,866.7 1507.1,866.6 1507.9,866.7 1508.7,866.9 1509.5,866.9 1510.3,867.0 1511.2,867.4 1512.0,867.5 1512.8,867.5 1513.6,867.6 1514.4,867.6 1515.2,867.7 1516.0,867.7 1516.9,867.7 1517.7,867.7 1518.5,867.7 1519.3,867.7 1520.1,867.7 1520.9,868.0 1521.7,868.3 1522.5,868.5 1523.4,868.7 1524.2,868.8 1525.0,868.9 1525.8,869.0 1526.6,869.0 1527.4,869.1 1528.2,869.2 1529.1,869.3 1529.9,869.8 1530.7,870.3 1531.5,870.3 1532.3,870.2 1533.1,870.1 1533.9,870.1 1534.7,869.9 1535.6,869.5 1536.4,869.3 1537.2,869.3 1538.0,869.2"/>
<polyline stroke="#00ff00" points="1050.0,889.9 1050.8,889.8 1051.6,889.7 1052.4,889.6 1053.3,889.5 1054.1,889.4 1054.9,889.3 1055.7,889.3 1056.5,889.3 1057.3,889.2 1058.1,889.2 1058.9,889.1 1059.8,889.1 1060.6,889.1 1061.4,889.2 1062.2,889.2 1063.0,889.3 1063.8,889.3 1064.6,889.4 1065.5,889.4 1066.3,889.5 1067.1,889.5 1067.9,889.6 1068.7,889.6 1069.5,889.6 1070.3,889.6 1071.1,889.7 1072.0,889.7 1072.8,889.7 1073.6,889.7 1074.4,889.7 1075.2,889.7 1076.0,889.7 1076.8,889.7 1077.7,889.7 1078.5,889.7 1079.3,889.7 1080.1,889.7 1080.9,889.7 1081.7,889.6 1082.5,889.6 1083.3,889.5 1084.2,889.5 1085.0,889.5 1085.8,889.6 1086.6,889.6 1087.4,889.7 1088.2,889.7 1089.0,889.8 1089.9,889.8 1090.7,889.9 1091.5,890.0 1092.3,890.0 1093.1,890.1 1093.9,890.2 1094.7,890.1 1095.5,890.1 1096.4,890.1 1097.2,890.1 1098.0,890.0 1098.8,890.0 1099.6,890.0 1100.4,890.0 1101.2,890.0 1102.1,890.0 1102.9,890.1 1103.7,890.1 1104.5,890.1 1105.3,890.1 1106.1,890.1 1106.9,890.1 1107.7,890.1 1108.6,890.1 1109.4,890.1 1110.2,890.1 1111.0,890.1 1111.8,890.1 1112.6,890.1 1113.4,890.1 1114.3,890.0 1115.1,890.0 1115.9,890.0 1116.7,890.0 1117.5,890.0 1118.3,890.0 1119.1,889.9 1119.9,889.9 1120.8,889.9 1121.6,889.8 1122.4,889.8 1123.2,889.8 1124.0,889.8 1124.8,889.8 1125.6,889.7 1126.5,889.5 1127.3,889.3 1128.1,889.0 1128.9,888.8 1129.7,888.6 1130.5,888.3 1131.3,888.1 1132.1,888.0 1133.0,888.0 1133.8,887.9 1134.6,887.9 1135.4,887.8 1136.2,887.7 1137.0,887.6 1137.8,887.6 1138.7,887.5 1139.5,887.4 1140.3,887.4 1141.1,887.4 1141.9,887.3 1142.7,887.2 1143.5,887.1 1144.3,886.9 1145.2,886.8 1146.0,886.7 1146.8,886.6 1147.6,886.5 1148.4,886.4 1149.2,886.3 1150.0,886.2 1150.9,886.1 1151.7,886.0 1152.5,886.0 1153.3,885.8 1154.1,885.7 1154.9,885.6 1155.7,885.5 1156.5,885.5 1157.4,885.3 1158.2,885.2 1159.0,885.1 1159.8,884.9 1160.6,884.8 1161.4,884.6 1162.2,884.5 1163.1,884.4 1163.9,884.2 1164.7,884.1 1165.5,883.8 1166.3,883.4 1167.1,883.0 1167.9,882.7 1168.7,882.4 1169.6,882.0 1170.4,881.5 1171.2,881.0 1172.0,880.6 1172.8,880.1 1173.6,879.6 1174.4,878.9 1175.3,877.9 1176.1,877.0 1176.9,876.1 1177.7,875.3 1178.5,874.5 1179.3,873.7 1180.1,872.9 1180.9,870.9 1181.8,868.5 1182.6,864.9 1183.4,863.8 1184.2,863.2 1185.0,862.6 1185.8,861.9 1186.6,861.3 1187.5,860.9 1188.3,860.5 1189.1,860.1 1189.9,859.7 1190.7,859.3 1191.5,858.9 1192.3,858.4 1193.1,857.9 1194.0,857.3 1194.8,856.6 1195.6,855.9 1196.4,855.2 1197.2,854.6 1198.0,854.0 1198.8,853.5 1199.7,852.9 1200.5,852.2 1201.3,851.5 1202.1,850.8 1202.9,850.2 1203.7,849.7 1204.5,849.3 1205.3,848.7 1206.2,848.2 1207.0,847.5 1207.8,846.3 1208.6,845.4 1209.4,844.4 1210.2,843.5 1211.0,843.2 1211.9,842.9 1212.7,842.6 1213.5,842.3 1214.3,842.0 1215.1,841.3 1215.9,840.6 1216.7,839.8 1217.5,839.0 1218.4,838.3 1219.2,837.5 1220.0,836.7 1220.8,836.0 1221.6,835.5 1222.4,835.1 1223.2,834.9 1224.1,834.7 1224.9,834.5 1225.7,834.4 1226.5,834.1 1227.3,833.9 1228.1,833.7 1228.9,833.3 1229.7,832.9 1230.6,832.6 1231.4,832.4 1232.2,832.1 1233.0,831.7 1233.8,830.7 1234.6,829.8 1235.4,828.9 1236.3,828.6 1237.1,828.2 1237.9,827.8 1238.7,827.3 1239.5,826.8 1240.3,826.4 1241.1,825.8 1241.9,825.3 1242.8,825.1 1243.6,825.0 1244.4,824.3 1245.2,823.0 1246.0,821.6 1246.8,820.6 1247.6,820.2 1248.5,819.9 1249.3,819.4 1250.1,818.7 1250.9,818.8 1251.7,819.0 1252.5,819.0 1253.3,818.9 1254.1,818.9 1255.0,818.9 1255.8,819.2 1256.6,819.7 1257.4,820.2 1258.2,820.6 1259.0,821.0 1259.8,821.4 1260.7,821.8 1261.5,822.2 1262.3,822.5 1263.1,823.3 1263.9,826.8 1264.7,826.6 1265.5,826.2 1266.3,825.8 1267.2,825.5 1268.0,825.2 1268.8,824.9 1269.6,824.6 1270.4,824.4 1271.2,824.4 1272.0,824.6 1272.9,824.8 1273.7,824.9 1274.5,825.1 1275.3,825.3 1276.1,825.4 1276.9,825.5 1277.7,825.4 1278.5,825.5 1279.4,825.5 1280.2,825.5 1281.0,825.5 1281.8,825.4 1282.6,825.0 1283.4,824.7 1284.2,824.4 1285.1,824.1 1285.9,824.4 1286.7,824.6 1287.5,824.7 1288.3,824.8 1289.1,824.9 1289.9,825.4 1290.7,826.1 1291.6,826.7 1292.4,827.3 1293.2,828.0 1294.0,828.0 1294.8,827.3 1295.6,826.7 1296.4,825.9 1297.3,825.1 1298.1,824.7 1298.9,824.3 1299.7,823.9 1300.5,823.5 1301.3,823.1 1302.1,822.6 1302.9,822.9 1303.8,823.3 1304.6,823.6 1305.4,823.9 1306.2,823.8 1307.0,823.6 1307.8,823.4 1308.6,823.2 1309.5,823.1 1310.3,823.0 1311.1,822.8 1311.9,822.6 1312.7,822.4 1313.5,822.2 1314.3,822.0 1315.1,821.7 1316.0,821.6 1316.8,821.7 1317.6,821.7 1318.4,821.8 1319.2,821.9 1320.0,822.0 1320.8,822.0 1321.7,822.0 1322.5,822.1 1323.3,822.2 1324.1,822.4 1324.9,822.6 1325.7,822.9 1326.5,823.1 1327.3,823.3 1328.2,823.4 1329.0,823.7 1329.8,824.3 1330.6,825.3 1331.4,826.0 1332.2,826.2 1333.0,826.3 1333.9,826.4 1334.7,826.5 1335.5,826.5 1336.3,826.6 1337.1,826.7 1337.9,826.9 1338.7,827.0 1339.5,827.1 1340.4,827.3 1341.2,827.5 1342.0,827.4 1342.8,827.4 1343.6,827.3 1344.4,827.3 1345.2,827.0 1346.1,826.7 1346.9,826.6 1347.7,826.6 1348.5,826.5 1349.3,826.5 1350.1,826.7 1350.9,826.9 1351.7,826.8 1352.6,826.8 1353.4,826.8 1354.2,826.9 1355.0,827.0 1355.8,827.1 1356.6,827.4 1357.4,827.6 1358.3,827.4 1359.1,827.2 1359.9,827.4 1360.7,827.5 1361.5,827.6 1362.3,827.6 1363.1,827.4 1363.9,827.3 1364.8,827.1 1365.6,826.9 1366.4,826.8 1367.2,826.6 1368.0,826.5 1368.8,826.4 1369.6,826.5 1370.5,826.6 1371.3,826.5 1372.1,826.3 1372.9,826.1 1373.7,824.6 1374.5,823.3 1375.3,823.0 1376.1,822.6 1377.0,822.2 1377.8,821.8 1378.6,821.4 1379.4,821.1 1380.2,820.9 1381.0,820.7 1381.8,820.5 1382.7,820.3 1383.5,820.0 1384.3,820.0 1385.1,820.0 1385.9,819.9 1386.7,819.8 1387.5,819.8 1388.3,819.7 1389.2,819.7 1390.0,819.6 1390.8,819.4 1391.6,819.2 1392.4,819.0 1393.2,818.9 1394.0,818.5 1394.9,818.1 1395.7,817.7 1396.5,817.4 1397.3,817.7 1398.1,818.0 1398.9,818.1 1399.7,818.2 1400.5,818.4 1401.4,818.6 1402.2,818.6 1403.0,818.6 1403.8,818.7 1404.6,818.7 1405.4,818.6 1406.2,818.5 1407.1,818.4 1407.9,818.3 1408.7,818.2 1409.5,818.0 1410.3,818.0 1411.1,817.3 1411.9,816.7 1412.7,816.1 1413.6,815.4 1414.4,814.4 1415.2,813.3 1416.0,812.3 1416.8,811.5 1417.6,810.7 1418.4,810.0 1419.3,809.5 1420.1,809.4 1420.9,809.4 1421.7,809.6 1422.5,809.8 1423.3,809.8 1424.1,809.8 1424.9,810.2 1425.8,810.7 1426.6,811.0 1427.4,811.3 1428.2,811.9 1429.0,812.0 1429.8,811.7 1430.6,811.4 1431.5,811.3 1432.3,811.2 1433.1,811.2 1433.9,811.3 1434.7,811.3 1435.5,811.2 1436.3,811.1 1437.1,810.8 1438.0,810.5 1438.8,810.2 1439.6,809.8 1440.4,809.4 1441.2,809.0 1442.0,808.6 1442.8,808.3 1443.7,808.3 1444.5,808.4 1445.3,808.6 1446.1,808.8 1446.9,809.1 1447.7,808.8 1448.5,808.1 1449.3,807.5 1450.2,807.0 1451.0,806.5 1451.8,806.1 1452.6,805.6 1453.4,805.2 1454.2,804.5 1455.0,805.0 1455.9,806.2 1456.7,807.4 1457.5,808.5 1458.3,809.0 1459.1,809.2 1459.9,809.4 1460.7,809.6 1461.5,809.7 1462.4,809.9 1463.2,810.1 1464.0,810.5 1464.8,810.9 1465.6,810.9 1466.4,811.8 1467.2,814.6 1468.1,814.8 1468.9,815.0 1469.7,815.2 1470.5,815.5 1471.3,815.7 1472.1,815.9 1472.9,816.1 1473.7,816.4 1474.6,816.7 1475.4,816.9 1476.2,817.1 1477.0,817.4 1477.8,817.8 1478.6,818.6 1479.4,819.3 1480.3,819.3 1481.1,819.1 1481.9,818.7 1482.7,818.2 1483.5,817.7 1484.3,817.2 1485.1,816.8 1485.9,816.4 1486.8,815.9 1487.6,815.5 1488.4,815.9 1489.2,816.3 1490.0,816.7 1490.8,817.4 1491.6,818.7 1492.5,819.1 1493.3,821.1 1494.1,821.7 1494.9,822.2 1495.7,822.7 1496.5,823.1 1497.3,823.6 1498.1,824.1 1499.0,824.5 1499.8,824.9 1500.6,825.7 1501.4,826.5 1502.2,826.6 1503.0,826.3 1503.8,826.1 1504.7,825.9 1505.5,825.5 1506.3,825.0 1507.1,824.9 1507.9,825.1 1508.7,825.4 1509.5,825.4 1510.3,825.8 1511.2,826.5 1512.0,826.8 1512.8,826.9 1513.6,827.1 1514.4,827.1 1515.2,827.2 1516.0,827.3 1516.9,827.3 1517.7,827.3 1518.5,827.3 1519.3,827.3 1520.1,827.2 1520.9,827.9 1521.7,828.6 1522.5,829.1 1523.4,829.4 1524.2,829.7 1525.0,830.0 1525.8,830.1 1526.6,830.3 1527.4,830.5 1528.2,830.7 1529.1,831.0 1529.9,832.1 1530.7,833.1 1531.5,833.1 1532.3,832.9 1533.1,832.8 1533.9,832.8 1534.7,832.3 1535.6,831.3 1536.4,831.0 1537.2,830.8 1538.0,830.7"/>
</g>
<text transform="translate(1050.5,969.8) scale(1,1.032)" text-anchor="middle" font-family="'Liberation Sans', Arial, Helvetica, sans-serif" font-size="56.3" fill="#000">100</text>
<text transform="translate(1213.2,969.8) scale(1,1.032)" text-anchor="middle" font-family="'Liberation Sans', Arial, Helvetica, sans-serif" font-size="56.3" fill="#000">200</text>
<text transform="translate(1375.8,969.8) scale(1,1.032)" text-anchor="middle" font-family="'Liberation Sans', Arial, Helvetica, sans-serif" font-size="56.3" fill="#000">300</text>
<text transform="translate(1538.5,969.8) scale(1,1.032)" text-anchor="middle" font-family="'Liberation Sans', Arial, Helvetica, sans-serif" font-size="56.3" fill="#000">400</text>
<text transform="translate(1034.0,921.2) scale(1,1.032)" text-anchor="end" font-family="'Liberation Sans', Arial, Helvetica, sans-serif" font-size="56.3" fill="#000">0</text>
<text transform="translate(1034.0,798.3) scale(1,1.032)" text-anchor="end" font-family="'Liberation Sans', Arial, Helvetica, sans-serif" font-size="56.3" fill="#000">10</text>
<text transform="translate(1034.0,675.4) scale(1,1.032)" text-anchor="end" font-family="'Liberation Sans', Arial, Helvetica, sans-serif" font-size="56.3" fill="#000">20</text>
<text transform="translate(1034.0,552.5) scale(1,1.032)" text-anchor="end" font-family="'Liberation Sans', Arial, Helvetica, sans-serif" font-size="56.3" fill="#000">30</text>
<line x1="855.9" y1="926.9" x2="975" y2="837.5" stroke="#000" stroke-width="4.5"/>
<polygon points="1005.3,814.3 945.3,832.6 972.4,838.2 971.5,867.6" fill="#000"/>
</svg>
</body></html>
